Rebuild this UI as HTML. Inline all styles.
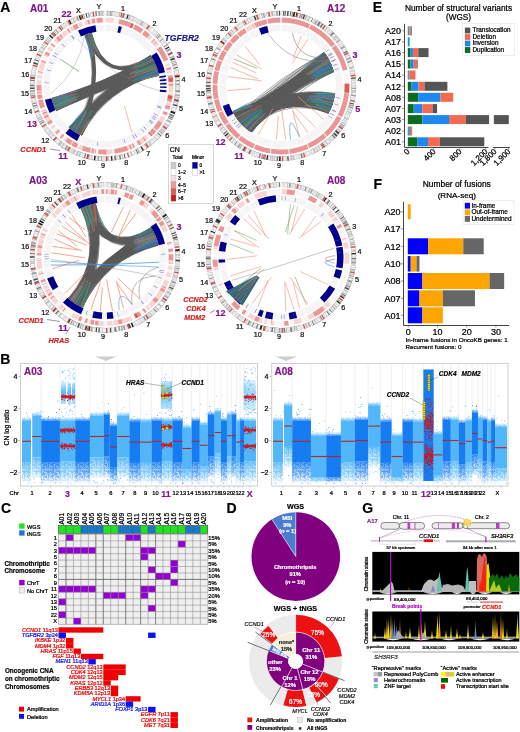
<!DOCTYPE html><html><head><meta charset="utf-8"><style>html,body{margin:0;padding:0;background:#fff;width:520px;height:732px;overflow:hidden}svg{display:block}</style></head><body><svg width="520" height="732" viewBox="0 0 520 732" font-family="'Liberation Sans', Arial, Helvetica, sans-serif"><text x="0.2" y="11.6" font-size="14" font-weight="bold" stroke="#000" stroke-width="0.18">A</text><circle cx="105" cy="86" r="72.8" fill="none" stroke="#9a9a9a" stroke-width="4.8" pathLength="360" stroke-dasharray="0 0.7 24.6 0.8 26.3 0.8 22.75 0.8 18.75 0.8 20.85 0.8 19.6 0.8 17.15 0.8 16.3 0.8 15.3 0.8 13.9 0.8 14.5 0.8 15 0.8 11.45 0.8 10.5 0.8 12.2 0.8 10.8 0.8 9 0.8 8.5 0.8 8.2 0.8 7.8 0.8 7.4 0.8 7.5 0.8 11.05 0.8 10.8 1.7" transform="rotate(-90 105 86)"/><circle cx="105" cy="86" r="72.8" fill="none" stroke="#f4f4f4" stroke-width="4.1" pathLength="360" stroke-dasharray="0 0.85 24.3 1.1 26 1.1 22.45 1.1 18.45 1.1 20.55 1.1 19.3 1.1 16.85 1.1 16 1.1 15 1.1 13.6 1.1 14.2 1.1 14.7 1.1 11.15 1.1 10.2 1.1 11.9 1.1 10.5 1.1 8.7 1.1 8.2 1.1 7.9 1.1 7.5 1.1 7.1 1.1 7.2 1.1 10.75 1.1 10.5 1.85" transform="rotate(-90 105 86)"/><circle cx="105" cy="86" r="72.8" fill="none" stroke="#dcdcdc" stroke-width="4.4" pathLength="360" stroke-dasharray="0 7.44 1.12 0.82 0.69 2.91 0.96 2.15 0.79 3.42 0.9 1.61 1.26 0.48 0.76 1.56 1.23 0.49 0.71 2.01 1.14 0 0.71 0.66 0.57 2.45 0.68 0 1.32 2.65 0.92 1.17 1.2 4.62 0.52 4.21 0.64 1.13 1.46 16.06 0.76 5.75 0.82 2.82 0.78 1.72 0.95 5.04 0.64 1.91 0.88 11.56 1.15 1.05 1.22 15.2 1.4 10 0.47 1.94 1.28 14.34 0.39 4.23 0.61 0.81 0.65 7.6 0.91 10.14 1.22 10.05 0.6 5.41 0.97 4.63 0.09 2.49 1.25 0 1.44 5.11 0.7 6.62 0.86 5.4 0.57 2.39 1.34 1.05 1.27 11.63 0.87 9.99 0.78 2.13 1.29 19.41 0.68 1.3 0.68 1.77 0.72 6.4 0.9 3.27 1.11 3.22 1.03 23.82 1.09 0.53 0.91 26.9 0.53 3.67 0.76 1.7" transform="rotate(-90 105 86)"/><circle cx="105" cy="86" r="72.8" fill="none" stroke="#c0c0c0" stroke-width="4.4" pathLength="360" stroke-dasharray="0 1.46 1.42 7.95 1.34 6.7 1.41 1.92 0.59 6.5 1.3 0 0.71 3.69 0.87 33.92 1.08 6.55 0.7 12.26 0.64 7.43 1.2 3.44 0.63 17.99 1.03 4.36 1.47 4.43 0.57 1.78 0.63 5.4 0.82 0.48 0.62 0.56 0.94 13.15 1.26 6.4 0.97 10.18 1.31 12.35 0.76 1.15 1.05 6.22 1.45 3.62 1.25 2.69 0.93 0 0.74 0 1.22 3.42 1.17 0.87 1.28 7.82 0.77 1.89 0.87 6.43 1.49 6.16 1.19 4.61 0.8 1.75 0.87 10.42 1.27 13.04 0.92 0 0.56 15.1 0.51 2.8 1.37 4.31 0.6 1.16 1.36 2.44 0.81 0.64 0.57 5.97 0.79 9.92 0.12 1.81 0.89 2.54 0.52 0.92 0.88 25.89" transform="rotate(-90 105 86)"/><circle cx="105" cy="86" r="72.8" fill="none" stroke="#a0a0a0" stroke-width="4.4" pathLength="360" stroke-dasharray="0 3.76 1.01 31.1 0.98 8.83 0.68 0.58 1.35 2.1 0.87 8.57 1.4 5.01 0.88 4.22 0.53 0.58 1 14.68 1.21 7.51 0.97 20.65 1.02 4.15 1.34 4.13 1 15.49 0.7 5.95 0.74 25.06 1.38 3.01 0.86 1.52 1.16 15.93 0.79 8.8 1.32 5.41 0.49 21.59 0.98 1.02 0.71 15 0.04 7.22 1.47 18.95 0.81 20.99 0.71 5.72 0.88 3.36 0.89 3.96 1.18 12.99 1.4 4.24 0.74 3.1 1.03 7.17 1.44 0.94 0.88 2.88" transform="rotate(-90 105 86)"/><circle cx="105" cy="86" r="72.8" fill="none" stroke="#7c7c7c" stroke-width="4.4" pathLength="360" stroke-dasharray="0 5.24 0.59 8.1 1.5 69.82 0.82 7.39 1.16 18.37 1.41 0.47 1.05 0.42 0.56 14.38 0.9 21.28 0.92 13.04 1.2 2.48 1.39 22.97 1.1 26.16 1.13 29.72 1.06 1.07 0.68 5.66 0.64 7.14 1.21 2.82 1.21 26.4 0.26 19.91 0.83 28.19 0.62 1.12 1.07 7.5" transform="rotate(-90 105 86)"/><circle cx="105" cy="86" r="72.8" fill="none" stroke="#484848" stroke-width="4.4" pathLength="360" stroke-dasharray="0 62.94 1.4 3.24 1.49 6.07 0.67 24.82 1.29 2.9 1.07 42.7 1.31 89.31 0.6 27.75 1.21 18.51 1.39 72.33" transform="rotate(-90 105 86)"/><circle cx="105" cy="86" r="72.8" fill="none" stroke="#1a1a1a" stroke-width="4.4" pathLength="360" stroke-dasharray="0 17.6 0.89 39.69 0.82 22.85 1.21 27.43 1.48 52.05 0.56 9.55 1 12.47 1.11 4.65 1.07 81.4 1.24 13.23 0.55 21.19 0.96 2.65 0.51 14.5 1.2 7.52 1.21 0.97 0.7 2.66 0.62 15.46" transform="rotate(-90 105 86)"/><circle cx="105" cy="86" r="72.8" fill="none" stroke="#e5453d" stroke-width="4.4" pathLength="360" stroke-dasharray="0 12.55 1 22.15 1 26.46 1 17.04 1 19.18 1 22.07 1 18.87 1 15.58 1 16.33 1 13.91 1 15.34 1 12.55 1 12.57 1 11.19 1 10.83 1 14.12 1 8.88 1 8.01 1 10.1 1 7.73 1 6.23 1 7.32 1 9.46 1 8.81 1 9.73" transform="rotate(-90 105 86)"/><circle cx="105" cy="86" r="66" fill="none" stroke="#fbf6f6" stroke-width="4.8" pathLength="360" stroke-dasharray="0 0.7 24.6 0.8 26.3 0.8 22.75 0.8 18.75 0.8 20.85 0.8 19.6 0.8 17.15 0.8 16.3 0.8 15.3 0.8 13.9 0.8 14.5 0.8 15 0.8 11.45 0.8 10.5 0.8 12.2 0.8 10.8 0.8 9 0.8 8.5 0.8 8.2 0.8 7.8 0.8 7.4 0.8 7.5 0.8 11.05 0.8 10.8 1.7" transform="rotate(-90 105 86)"/><circle cx="105" cy="86" r="66" fill="none" stroke="#f7d5d5" stroke-width="4.8" pathLength="360" stroke-dasharray="0 0.7 2.25 0 2.11 0 2.25 33.76 2.78 3.28 2.06 0.75 2.13 0 0.34 18.37 1.31 4.67 1.75 7.79 1.97 1.46 3.2 0 2.58 0.8 1.97 6.24 2.7 10.74 1.25 0 2.66 0 1.12 7.37 1.26 8.87 2.34 1.33 0.85 0 2.79 10.22 2.05 11.38 1.16 0.8 2.86 0 2.36 13.14 1.12 6.93 2.9 0 0.69 0.8 0.72 4.63 1.1 4.85 1.66 9.75 0.71 3.18 1.74 5.58 1.27 0 2.2 1.94 1.66 17.12 1.22 1.13 1.08 6.12 3.1 1.71 2.6 1.4 1.13 1.66 2.67 0 1.65 0 3.32 5.39 1.53 4.54 1.74 0 0.72 6.54 2.65 2.7 1.03 1.41 0.01 0.8 3.11 0 1.45 3.64 3.43 4.87 3.12 2.43 1.84 0 0.77 1.55 1.33 13.3" transform="rotate(-90 105 86)"/><circle cx="105" cy="86" r="66" fill="none" stroke="#eb9696" stroke-width="4.8" pathLength="360" stroke-dasharray="0 12.31 3.38 0 1.96 0 2.41 0 2.8 2.01 0.43 0.8 1.79 0 2.24 0 2.13 0 1.85 1.53 2.7 0 2.72 5.1 0.96 2.06 0.75 4.55 3.24 0 2.53 0 1.82 0 1.24 0 2.24 0 0.89 0 0.96 6.21 2.33 4.85 0.69 0 1.49 5.28 1.46 11.7 1.19 0 1.16 3.45 3.21 2.67 2.62 7.27 2.53 0 1.68 0 3.16 1.26 3.29 0 1.4 0.86 0.38 5.28 1.33 3.64 1.41 0 1.14 3.46 1.69 0.8 1.72 2.05 2.21 0 1.64 0 2.87 0 2.07 0 2.58 7.18 1.88 0 2.88 0 1.28 0 1.24 2.05 0.74 0.8 2.26 1.12 0.65 0 1.86 0 1.36 0 0.81 0 2.25 5.11 2.4 0 1.37 0 0.86 1.1 1.06 0 3.01 0 0.78 4 2.02 3.46 1.92 8.4 2.81 3.47 1.94 1.66 1.58 0.8 0.72 2.48 1.6 0 3.11 0 2.6 0.8 1.74 0 1.71 1.22 1.13 1.08 1.22 0 1.49 0 2.61 10.74 0.86 8.44 1.36 5.56 0.84 0 1.54 6.94 1.51 5.36 2.7 1.03 1.41 6.59 0.67 0 0.94 4.23 2.54 0 1.23 0 0.3 8.97 1.55 2.13 1.77 0 1.08 1.3 1.59 0 1.04 0 2.63 3.09" transform="rotate(-90 105 86)"/><circle cx="105" cy="86" r="66" fill="none" stroke="#dc5a5a" stroke-width="4.8" pathLength="360" stroke-dasharray="0 22.87 2.01 58.11 3.31 11.98 3.15 34.89 0.86 97.19 0.13 126.5" transform="rotate(-90 105 86)"/><circle cx="105" cy="86" r="58.3" fill="none" stroke="#f5f5f5" stroke-width="6.6" pathLength="360" stroke-dasharray="0 0.7 24.6 0.8 26.3 0.8 22.75 0.8 18.75 0.8 20.85 0.8 19.6 0.8 17.15 0.8 16.3 0.8 15.3 0.8 13.9 0.8 14.5 0.8 15 0.8 11.45 0.8 10.5 0.8 12.2 0.8 10.8 0.8 9 0.8 8.5 0.8 8.2 0.8 7.8 0.8 7.4 0.8 7.5 0.8 11.05 0.8 10.8 1.7" transform="rotate(-90 105 86)"/><circle cx="105" cy="86" r="58.3" fill="none" stroke="#00008b" stroke-width="6.6" pathLength="360" stroke-dasharray="0 13 3 41 20 3 1.5 2 1.5 2 1.5 2 1.5 2 2 111 13 24 13 77 17 10" transform="rotate(-90 105 86)"/><circle cx="105" cy="86" r="58.3" fill="none" stroke="#4a4ac0" stroke-width="4.2" pathLength="360" stroke-dasharray="0 82.82 0.5 3.23 0.5 0.5 0.5 22.35 0.5 0.52 0.5 7.14 0.5 2.09 0.5 1.56 0.5 2.75 0.5 1.06 0.5 7.25 0.5 2.69 0.5 7.92 0.5 1.92 0.5 9.36 0.5 26.34 0.5 85.51 0.5 11.86 0.5 6.96 0.5 6.98 0.5 2.24 0.5 10.44 0.5 11.46 0.5 0.36 0.5 33.67" transform="rotate(-90 105 86)" stroke-opacity="0.8"/><path d="M154 62.1A54.5 54.5 0 0 1 158.5 75.6Q105 86 82 135.4A54.5 54.5 0 0 1 69.2 127.1Q105 86 154 62.1Z" fill="#5a5a5a" fill-opacity="0.8"/><path d="M157.2 70.4Q102.4 87.7 73.8 130.7M155.6 65.7Q107.1 84 71.2 128.8M158.2 74.3Q107.3 88.7 81.4 135.1M155.8 66.1Q106.7 85.8 77.1 132.8M155.1 64.6Q104.1 84 78.9 133.8M154 62.1Q103.3 87.4 74.8 131.3M156.7 68.6Q101 84.7 73.4 130.4M157 69.5Q107.7 85.5 71.2 128.8M155.9 66.6Q103.2 90.4 70.6 128.2M157.5 71.4Q110.5 84.7 73 130.1M154.9 64.2Q101.1 86.2 73.8 130.7M156.1 67Q105 82.3 78.1 133.4M155.4 65.2Q104.1 87.7 78.6 133.7M156.7 68.9Q106 86.4 80.2 134.6M154.6 63.4Q107.5 88.1 72.8 129.9M157.8 72.4Q108.1 91.1 75.6 131.9M158.1 73.8Q104.9 89.6 81.2 135M157.9 72.8Q104.5 83.8 76.7 132.6M157.6 71.7Q102.5 90.4 77.6 133.1M158 73.4Q102.1 84.7 71.3 128.8M157.5 71.5Q107.6 81.3 73.8 130.7M154.7 63.7Q103.9 84.1 76.9 132.7M155.1 64.5Q98.9 82.3 81.8 135.3M158.4 75.2Q103.8 83.1 80.1 134.5M157.2 70.5Q113.2 82.3 76.6 132.5M154.3 62.7Q105.6 86.6 72.6 129.9M155.6 65.8Q106.5 85.9 72.4 129.7M155.9 66.4Q101.7 85.1 81.6 135.2M156.1 67Q106.8 80.6 77.8 133.2M155.6 65.8Q101.2 82.6 76.7 132.6M158.4 75.3Q103.7 82.5 76.7 132.6M157.9 72.8Q105.6 87.3 80 134.4M158.3 74.7Q103.5 86.1 78.6 133.7M155.8 66.3Q103.5 85.3 81.7 135.3M157.2 70.4Q105.5 89.4 78.3 133.5M156 66.9Q106 86.3 78.5 133.6M158.2 74.1Q106.7 86.9 77.8 133.2M156.6 68.5Q106.8 91.8 69.3 127.2M156.6 68.5Q106.1 83.2 76.4 132.4M154.3 62.9Q102.7 82.5 74.7 131.3M155.6 65.7Q111.4 78.8 70 127.7M156.4 67.9Q104.7 84.2 71.2 128.7M154.2 62.5Q105.9 86.8 79.7 134.3M156 66.8Q103.7 89.4 72.2 129.5M154 62.2Q105.4 85.9 79.1 134M156.8 69.1Q106.3 81.3 71.5 129M156.2 67.4Q107.4 81.5 71.6 129M158.5 75.4Q107.9 85.1 80.6 134.7M157.5 71.5Q105.6 85.6 78.6 133.7M157 69.7Q102.8 87.9 78.9 133.8M157.4 70.8Q102.2 89.2 71.5 129M156 66.7Q107.2 84.5 78.2 133.4M154.6 63.3Q104.9 83.9 77.5 133M157.7 72Q104.2 84.3 74.7 131.3M154.6 63.5Q103.1 88.6 80 134.4M154 62.2Q102.8 87.5 75.3 131.7M156.8 69.2Q106.7 91.9 69.8 127.6M155.8 66.3Q111.9 91.6 72.2 129.5M156.4 67.8Q105.6 89 69.7 127.5M157.5 71.5Q104.3 90.5 79.5 134.2M158.4 74.9Q106.1 88.6 77.6 133.1M158.5 75.5Q103.1 83.8 79.9 134.4M157.3 70.7Q100.3 81.8 79.1 133.9M158.1 73.6Q101.1 85.9 73.7 130.6M154.7 63.6Q103.8 82.9 71.1 128.7M157.4 71Q103.4 87.4 76.4 132.4M157.1 70.1Q104.2 85.9 74.4 131.1M157.2 70.4Q101.6 83.8 76 132.1M158.3 74.6Q95.7 87.8 79.9 134.4M157.7 72Q104.2 77 77.7 133.2M156.2 67.4Q111.4 92.5 70.8 128.4M156.6 68.6Q107.3 82.3 78.8 133.8M158.3 74.7Q106.1 82.6 71.2 128.8M158.5 75.5Q108.2 82.6 81.1 135M155.4 65.4Q101.4 87.1 71.5 129M158.1 73.7Q104.2 90.2 79.3 134.1M154.4 63.1Q105.8 82.6 74.6 131.2M155.4 65.3Q108.2 81.9 71.6 129.1M156.9 69.4Q105.5 84.4 70.3 128.1M156 66.9Q107.7 86.6 80.6 134.7M158.1 73.7Q106.4 87.3 71.2 128.7M156.2 67.2Q100.2 81.7 71 128.6M154.4 63Q106.1 90.1 69.4 127.3M158.1 73.9Q106.5 90.2 72.5 129.7M156.4 67.8Q103.6 88.2 81.8 135.3M157.2 70.5Q101.3 83.2 78.2 133.5M155.1 64.5Q103.8 82.8 80.2 134.5M154.8 63.8Q108.8 84.5 80.4 134.6M156 66.8Q109.6 85.9 79.3 134.1M157.7 71.9Q103.9 88.9 77.1 132.8M154.9 64Q100.1 88.5 73.7 130.6M156.3 67.5Q97.9 85.7 75.9 132.1M155.9 66.6Q105.4 89.9 72.8 129.9M155.6 65.8Q103.7 91.7 70.7 128.4M157.4 71.1Q107.7 84.8 75.9 132.1M157.7 72Q104 86.3 74 130.9M156.3 67.6Q98.1 88.7 78.2 133.4M155.7 65.9Q103.9 84 72.9 130M156.3 67.5Q106.8 84.6 80.2 134.5M156.3 67.6Q107.5 80.7 77.4 133M157.1 69.9Q110.2 89.7 74.7 131.3M154.5 63.2Q101.6 89.4 77.1 132.8M157.4 71Q110.9 81.6 77.3 133M154.1 62.4Q102.2 86.5 73.6 130.6M156.5 68.2Q103 82.4 77.7 133.2M158.4 75.2Q108 85.9 69.5 127.4M158 73.2Q101.8 76.1 73.4 130.4M154.4 63Q101.4 88.5 75.8 132M155.3 64.9Q105.7 88.8 69.4 127.2M154.8 64Q104.9 84.7 76.7 132.6M155 64.3Q101.5 82.6 73.4 130.4M155.5 65.4Q104.4 80.8 71.5 129M154.7 63.7Q110.9 86.6 75.7 132M158.3 74.8Q107.8 86.4 70.5 128.2M156.8 69.2Q109.1 89.4 74.9 131.4M155.7 66Q107.8 88.7 75.2 131.6M154.8 63.8Q102.5 85.8 80.8 134.8M157.8 72.5Q104.1 86.5 78.6 133.7M155.3 64.9Q101.9 84.8 75.9 132.1M158.1 73.5Q106 84.6 80.5 134.7M158.4 75.2Q101.6 88.3 75 131.5M158.1 73.7Q104.6 86.2 69.7 127.5M154.9 64.1Q104.5 81.3 71.4 128.9M154.9 64.1Q106.4 86.3 74.9 131.4M155.7 66Q101.4 81.4 69.6 127.5M154.3 62.7Q107.1 87.1 76.4 132.4M154.7 63.6Q103.3 89.1 70.2 127.9M157.3 70.8Q108.7 84.7 70.6 128.2M156.7 68.7Q103 87.6 70.4 128.1M157.7 72Q102.9 88.3 78.5 133.6M156.6 68.4Q102 87.4 77.1 132.8M154.3 62.7Q108.4 87.4 71.2 128.7M156.9 69.4Q105.2 87.4 76.6 132.5M156.1 67Q102.8 86.2 77.7 133.2M157.7 72.1Q108.1 86.2 75.5 131.8M158.4 75.1Q98.6 81.8 81.9 135.3M156 66.9Q103.3 87.9 74.1 130.9M157.2 70.2Q103.6 89.2 74.2 131M156.8 68.9Q106.3 86.4 72.2 129.5M155.5 65.4Q105.9 83 78.3 133.5M158.1 73.6Q104 90.4 76.6 132.5M154.5 63.2Q106.3 83.7 69.4 127.3M155.8 66.3Q106 81.8 71.4 128.9M154.3 62.8Q109 87.2 72 129.4M156.9 69.4Q104.6 85.5 70.1 127.8M158.3 74.7Q104.7 85.8 72.2 129.5M157.7 71.9Q101.3 78.2 76.4 132.4M158.3 74.4Q105.6 82.8 80.9 134.9M157.7 72.1Q102 87 76.9 132.7M154.7 63.6Q104.9 84.9 77.7 133.1M154.7 63.6Q103.1 82.7 71.2 128.7M154.7 63.6Q102.3 92.9 80.3 134.6M156.9 69.5Q105.8 89 70.1 127.9M156.8 69.2Q109.4 90.3 71.1 128.7M156.6 68.3Q102.3 87.2 81.5 135.2M157.4 71.1Q100.4 86.2 70.1 127.8M156.2 67.2Q108.9 89 71.9 129.3M155 64.3Q105.8 88.6 74.2 131M155 64.2Q101.9 84 77.3 132.9M156.2 67.2Q106.5 83.6 74.4 131.1M157.1 69.8Q107.7 85.7 75.6 131.9M157.5 71.4Q104.7 90.8 78.8 133.8M157 69.7Q110.2 88.2 78.5 133.6M156.1 67.1Q101.2 87.7 72.6 129.8M156.9 69.5Q107.8 84.2 69.5 127.4M156.6 68.5Q105 84.6 78.8 133.8M155.7 66.1Q109.5 87 71 128.6M157 69.6Q104.1 87.5 74.7 131.3M158.4 74.9Q105.5 84.7 72 129.4M157.8 72.6Q106.2 89.5 79 133.9" fill="none" stroke="#5a5a5a" stroke-width="1.0" stroke-opacity="0.5"/><path d="M157.2 70.2Q142.7 73.4 130.6 79M92.3 111.1Q85.1 121.6 80.3 134.6M155.7 65.9Q148.4 69 141.6 72.6M86.6 120.8Q82.3 127 78.5 133.6M157.9 72.7Q145.3 75.6 133.7 80.4M88.5 108.6Q78.7 117.2 69.9 127.7M156 66.9Q145.9 70.4 136.7 74.8M83.1 114.5Q77 121.4 71.7 129.2M158.3 74.7Q145.9 77.4 134.3 82M89 108.9Q79 117.3 69.7 127.5M154.9 64.1Q148.4 66.4 142.2 69.5M84.9 117.6Q79.7 124.1 74.8 131.4M155 64.3Q147.4 67.6 140.2 71.4M82.7 116.5Q77.1 122.7 72 129.3M157.9 72.7Q147.8 75.4 138.6 78.9M82.3 113.7Q75.6 120.1 69.5 127.4M155.3 64.9Q142.3 70.7 130.8 77.8M91.3 111.6Q83.1 121.3 76.4 132.4M158.5 75.5Q148.8 77.6 140.1 80.6M85.9 118.6Q80.9 125.2 76.8 132.6" fill="none" stroke="#2e8b57" stroke-width="0.6" stroke-opacity="0.85"/><path d="M157.5 71.3Q145.2 73.9 134.3 78.8M92.4 110.8Q84.1 120.7 77.1 132.8M157.5 71.5Q144.3 75.4 132.4 81.1M91.1 110.6Q81.9 119.9 74.2 131M158.4 74.9Q150.9 76.1 143.9 78.1M87.9 121.1Q83.9 127.5 80.5 134.7M156.6 68.6Q146.4 71.2 137.2 74.8M84.1 115Q78.6 122.4 74.2 130.9M157.1 70.1Q149.4 72.5 142.1 75.4M81.5 116.6Q76.1 122.3 71 128.6M156.8 69Q148.5 72.7 140.9 76.9M87 120.2Q81.8 126.3 77.2 132.9" fill="none" stroke="#3aa0a0" stroke-width="0.6" stroke-opacity="0.85"/><path d="M158.4 75.3Q150 77.2 142.1 80.2M90.7 119.3Q85.3 126.4 80.5 134.7M155.3 64.9Q146.4 68.3 138.2 72.3M83.9 115.9Q78.4 122.9 73.6 130.5M158.2 74.2Q149 76.6 140.7 80M90 119.7Q84.9 126.7 80.7 134.8M154.1 62.3Q143.6 67.9 133.6 74.4M88.7 111Q80.1 119.7 72 129.3M155.1 64.5Q146 68 137.9 72.2M86.7 118.7Q82.3 125.9 78.8 133.8" fill="none" stroke="#e07050" stroke-width="0.6" stroke-opacity="0.85"/><path d="M158.1 73.6Q146 76 135 80.4M89.6 111.3Q81.2 120.1 73.9 130.8M154.4 62.9Q146.9 66.9 139.8 71.3M84.2 117.5Q78.5 123.7 73.2 130.3M158.2 74.2Q145.7 76.7 134.4 80.6M85.1 110.2Q76.7 118 69.5 127.4M154.5 63.2Q142.9 68.3 132.5 74.5M87.5 111.3Q79.6 120.1 72.9 130M156.3 67.6Q143.3 72.1 131.7 78.4M91.7 110.1Q82.9 120.1 75.5 131.8M158.1 73.8Q149.2 75.9 140.9 78.8M81.3 115.1Q75.2 121 69.7 127.6M157.4 71.1Q144 74.7 132.2 80.1M89.6 110.5Q81 119.7 73.9 130.8M154.2 62.6Q146.6 66.9 139.5 71.9M89.5 118.9Q83.8 126 78.6 133.7" fill="none" stroke="#2f7fd0" stroke-width="0.6" stroke-opacity="0.85"/><path d="M154.9 64Q147 68.7 139.7 73.6M88.1 120.7Q83 127 78.5 133.6" fill="none" stroke="#8a6a3a" stroke-width="0.6" stroke-opacity="0.85"/><path d="M150.2 55.5A54.5 54.5 0 0 1 156.8 69.2Q105 86 56.4 110.7A54.5 54.5 0 0 1 51.9 98.3Q105 86 150.2 55.5Z" fill="#5a5a5a" fill-opacity="0.8"/><path d="M156.8 69.1Q108.2 83.9 55.3 108.3M156.6 68.3Q111.5 84.9 56 109.9M150.6 56.2Q108 85.1 56.2 110.4M151.5 57.6Q106.9 88.9 56 109.9M152 58.4Q106 87.2 54.7 106.9M155.8 66.3Q107.1 86.6 54.7 106.9M155.3 64.9Q108.6 80.9 55.1 107.9M155.1 64.4Q104 79.3 54.4 106.3M151.4 57.4Q109.8 85.5 52.3 99.9M155.1 64.5Q103.3 89.6 55.7 109.3M152.4 59.1Q106.3 83 53.7 104.4M155.8 66.3Q108.7 88.4 55 107.6M150.3 55.7Q111.9 84.9 52.1 99.3M155.1 64.6Q109.2 85.1 55.4 108.5M151.1 56.9Q108.2 83.5 53.9 104.8M152.9 60.1Q104.2 86.1 51.9 98.3M151.4 57.4Q103.6 83.1 53.9 105M154.5 63.3Q104.8 86.9 53.6 104.1M153.3 60.8Q105.6 85.8 52.5 100.5M153.5 61.1Q104.2 85.3 52 98.8M150.4 55.8Q109 92.9 54.5 106.6M152.8 59.9Q100.8 84.3 52.4 100.2M152.2 58.8Q105.8 87.4 52.8 101.6M154.5 63.2Q101.4 87.7 53.3 103.2M152.2 58.8Q100.5 86.2 52.1 98.9M154.8 63.8Q103.2 83.2 52.2 99.7M154.4 63Q105.7 79 52.1 99.3M152.7 59.6Q101.2 88.7 53.5 104M152.9 59.9Q104.8 85.8 53.2 102.9M153.8 61.8Q104.8 80.6 55.8 109.4M154.9 64.2Q103.4 83.4 53 102.3M154 62.1Q104.1 85.6 52.4 100.2M152.7 59.7Q106.5 86.6 53.2 102.9M150.4 55.9Q107.3 86.8 53.6 104.2M150.6 56.2Q104.3 86.5 53.4 103.6M151.8 58Q107.2 87.7 53.2 103M150.7 56.3Q106.1 84.7 56 109.9M152.7 59.6Q98.1 85.9 53.1 102.6M154.9 64.1Q102.6 86.8 53 102.2M155.1 64.4Q105.1 90.8 55.7 109.2M152.4 59.1Q106.1 85 54.8 107.1M153.8 61.8Q110.2 87.5 52.9 101.9M156.6 68.5Q100.8 86.8 53.1 102.7M155.1 64.5Q110.6 83.8 54.3 105.9M156.7 68.8Q104.8 88.5 55.5 108.8M153.2 60.6Q101 82.7 55 107.7M152.3 58.9Q102 82 52.9 102M155.1 64.4Q102.5 87.6 54.1 105.4M155.5 65.6Q104.7 89.5 56.4 110.7M156.5 68.1Q104.8 85.2 55.2 108M156.3 67.5Q107.2 85.7 53.8 104.6M154.7 63.7Q106.8 88.6 55.7 109.3M153.8 61.7Q107.3 86.4 53 102.2M155.7 65.9Q104.5 86.9 55.8 109.5M150.4 55.9Q102.8 84.8 53.6 104.2M153.7 61.6Q106.6 87.3 56.1 110.1M156.8 69Q108.8 88.7 56 110M150.6 56.2Q102.6 85.6 52.7 101.4M156.5 68.2Q102.2 87.2 54.4 106.3M152.9 59.9Q103.3 91.7 52 98.8M156.1 67.1Q106.5 92.6 53.6 104.2M155.8 66.1Q107.8 87.5 52.2 99.3M153.8 61.8Q101.2 82 54.2 105.7M156.5 68.1Q108.8 84.7 53.8 104.6M153.4 61Q106.6 87 56.4 110.6M156.8 69Q108.2 93.2 53.3 103.2M155.7 66.1Q107.2 85.1 53.4 103.6M155.8 66.3Q106 86.4 56.2 110.2M156.7 68.8Q105.8 88.1 52 98.9M156.4 67.8Q108.4 86 53.6 104M154.7 63.7Q108.5 85.9 52.3 100M155.7 66.1Q105.9 84 55 107.8M156.2 67.2Q108.3 88 54.2 105.8M152.2 58.7Q102.6 87.7 53.5 103.8M155.5 65.5Q103.5 84.6 52.8 101.7M152.2 58.7Q111.1 85.5 52.8 101.6M156.5 68.1Q104.7 86.5 53.2 102.9M156 66.8Q100.6 83.7 52.9 101.8M156.2 67.3Q106.3 86.3 55.3 108.4M152.3 59Q103.9 84.3 55.3 108.3M153.5 61.2Q111 86.9 55.2 108.2M154.8 63.8Q104.6 81.8 55.9 109.7M154.3 62.8Q103.4 82.8 53.1 102.6M155.8 66.3Q105.9 85.2 52.1 99.2M152 58.4Q101.8 83.5 55.1 108M156.8 69.1Q105.6 88.5 54 105.2M154.6 63.5Q100.9 83.5 55.9 109.7M154.4 63Q106.5 83.7 54.3 106M153.5 61.1Q100.6 90.1 55.9 109.7M152.6 59.4Q104.9 82.8 52 98.8M154 62.1Q105.9 90.3 56.1 110.1M150.7 56.4Q104.4 83.3 52 98.5M153 60.3Q104.8 90.5 53.9 104.9M153.4 60.9Q110 86.8 55.5 108.9M154.5 63.3Q104.4 86 52.5 100.7M155.6 65.7Q107.6 85.2 54.5 106.6M156.5 68Q101.5 86.1 52.6 100.9M156.4 67.8Q104.4 84.8 52 98.7M150.6 56.1Q102 84.9 54 105.1M150.4 55.8Q104.1 86.4 54.8 107.2M150.3 55.6Q106.4 88.5 53.6 104.1M151.9 58.3Q107.4 89.1 52.9 102M154.1 62.3Q102.6 87.8 53.6 104.1M155.7 66.1Q107.1 82.4 53.2 103M151.9 58.2Q108.6 83.7 56.3 110.4M150.4 55.9Q106 86.1 55.3 108.4M154.5 63.2Q104.3 88.6 53.1 102.6M154.8 63.8Q102.6 90.9 54.4 106.4M156.4 67.8Q104.8 85.3 52.4 100.3M156.4 68Q104.3 89.5 52.6 101M153 60.2Q102.9 84.4 53.6 104M154.9 64.1Q106.5 79.9 52.1 99.3M151.6 57.8Q100.7 83.2 55.4 108.6M153.8 61.7Q102 90.2 53.3 103.3M152.7 59.7Q104 86.1 52.4 100.1M153.9 62Q107.9 82 53.1 102.5M155.6 65.8Q105.6 85.8 53 102.4M152.8 59.7Q105.3 82.5 53.4 103.5M154.2 62.6Q105.8 83 54.3 106.1M156.4 67.8Q104.2 85.7 53.3 103.2M151.4 57.5Q109.9 87.7 53 102.4M152 58.4Q105 86.3 56.3 110.5M156.5 68.1Q107.8 86.3 54.8 107.1M153.4 61Q105.8 87.6 55.4 108.7M151 56.7Q106.4 89.5 53 102.4M156.2 67.4Q106 82.9 52.3 99.9M155.3 65.1Q106.2 83.4 55.1 107.8M152.3 59Q95.7 81.3 54 105.3M155.8 66.3Q104.5 88.5 52.4 100.3M153.2 60.6Q108.2 86.8 53.1 102.8M154.1 62.4Q108.4 84.2 54.4 106.3M153.7 61.6Q106.2 85.6 54.4 106.2M154 62.1Q101.2 83.9 55.1 108M156.2 67.3Q107.9 88.4 55.3 108.4M152.8 59.9Q104.2 85.7 54.1 105.6M152.5 59.3Q108.6 85 54.5 106.4M151.1 57Q106.4 81.5 52.3 100M155.5 65.6Q111.4 85.6 54 105.3M154.6 63.4Q109.4 87.6 53.6 104.1M150.8 56.4Q105.2 89.5 52.8 101.5M156.5 68.2Q108.5 77.6 53.1 102.7M156.5 68Q109.8 86.4 53.3 103.2M156.5 68.1Q105.1 88.6 53.3 103.3M151.6 57.8Q96.9 84.8 52.2 99.7M151.7 57.9Q105.6 84 55.4 108.5M151.5 57.6Q104.3 81.3 54.5 106.6M155.8 66.2Q104.6 79.8 53.2 102.9M154.9 64.1Q107.2 79.9 51.9 98.5M155.5 65.5Q105.3 86.2 54.7 106.9M155.1 64.7Q102.9 91.8 52.3 100M155 64.3Q103.1 83.5 54.3 106M155 64.2Q103 84.7 56.2 110.3M151.8 58.1Q104.9 90.6 55.9 109.8M153.2 60.5Q104.2 84.7 52.1 99.1M154.8 64Q102.5 79.5 53.1 102.7M152.7 59.7Q101.6 88.1 56.4 110.7M151.2 57.1Q107.1 87.9 55 107.7M154.7 63.6Q99.5 90.6 53.5 103.9M154.9 64.1Q105.1 86.4 53.3 103.3M155 64.3Q102.7 83.7 53.2 102.8M153.9 61.9Q97.6 84 56.2 110.2M151.3 57.2Q105.5 89.2 54.3 106.1M153.1 60.4Q101 90.6 55.5 108.8M152.9 60.1Q104.3 90.1 56 109.9M156.3 67.7Q104 84.7 55.1 107.8M155.3 65.1Q100.1 93.5 55.6 109.1M155.8 66.3Q105.2 87.9 53.4 103.5M153.6 61.4Q108.3 87.6 54.1 105.4M150.8 56.4Q105.8 83 52.5 100.5M153.1 60.5Q105.3 86.2 52.8 101.5" fill="none" stroke="#5a5a5a" stroke-width="1.0" stroke-opacity="0.5"/><path d="M152.6 59.5Q146 63.6 139.3 67.3M67 95.3Q59.6 97 51.9 98.4M156.6 68.6Q148.3 71.2 139.8 73.9M70.5 94.5Q61.4 97 52.2 99.6M153.9 61.9Q144.1 67.4 134.1 72.6M76.3 99.2Q65.7 103.5 54.9 107.5M151.3 57.2Q143 62.2 134.8 66.8M68.8 96.2Q60.7 98.9 52.6 101.1M152.8 59.8Q141.8 65.5 130.8 71.1M77.2 97.2Q66 102.4 54.9 107.4M151.5 57.6Q140.9 64.2 130.3 70.5M77.6 99.4Q66.9 104.9 56.1 110M154.3 62.9Q145.1 65.6 136 68.7M70.3 95.2Q61.8 99.3 53.4 103.6M153 60.2Q140.4 65.9 127.7 71.1M78.3 89.8Q65.2 94.2 51.9 98.3M156.6 68.5Q143.8 73 131.4 77.4M76.4 97.1Q65 101.3 54 105.3" fill="none" stroke="#2f7fd0" stroke-width="0.6" stroke-opacity="0.85"/><path d="M156.3 67.5Q144.9 72.1 133.5 76.4M75.9 96.6Q64.6 100.2 53.4 103.5M156.5 68.1Q148 70.8 139.5 73.7M72.8 100.4Q64.1 104.3 55.4 108.5M154.4 62.9Q144.3 67.4 134 72M77.3 98.7Q66.6 103.9 55.7 109.3M151.5 57.6Q144.3 61.7 136.8 65.9M72.7 101.4Q64.5 105.8 56.2 110.3M155.7 65.9Q143.6 71.6 131.3 76.6M78.5 95.7Q65.9 99.6 53.2 103" fill="none" stroke="#8a6a3a" stroke-width="0.6" stroke-opacity="0.85"/><path d="M151.5 57.6Q141.6 63.6 131.3 69.1M75.6 93.5Q64.3 97.5 52.6 100.8M156.6 68.5Q141.8 73.5 127.9 78.5M78.4 96.6Q66 101.3 54.3 106M156.1 67.1Q143 70.7 130 74.5M77.2 90.8Q64.6 95 52.2 99.3M153.6 61.4Q141.4 68 129.7 73.9M75.8 98.9Q65.1 103.4 54.8 107.2" fill="none" stroke="#e07050" stroke-width="0.6" stroke-opacity="0.85"/><path d="M152.3 58.9Q141.7 63.8 131 68.9M77.1 95.6Q66 101.2 54.8 107.2M152.3 59Q142.7 65.2 133.1 70.6M72.9 98Q63.2 101.3 53.5 103.9M153.9 61.9Q146.1 65.6 138.3 69.1M68.3 95Q60.2 97.3 52.2 99.4" fill="none" stroke="#2e8b57" stroke-width="0.6" stroke-opacity="0.85"/><path d="M152.3 58.9Q143.7 63.2 135.1 67.4M70.8 98.5Q62.6 102.4 54.4 106.3M153.2 60.5Q146.4 64.1 139.6 67.5M67.8 98.3Q60.6 100.9 53.3 103.3M152.1 58.5Q140.9 64.8 130 70.5M75.1 96.4Q64.4 100.9 53.9 104.9M155.2 64.7Q144.8 69.2 134.4 73.7M77.4 99Q66.6 103.9 55.6 108.9M155.1 64.5Q148 67.7 140.9 70.8M69.4 100.6Q61.9 103.5 54.5 106.4M153.7 61.6Q142 68.2 130 73.9M77.5 94.2Q65.1 97.8 52.5 100.5M156.5 68.3Q149.5 70.9 142.3 73.6M70.7 103.4Q63.4 106.7 56.1 110.1M154.7 63.6Q144.5 68.7 134.4 73.4M73.5 96.6Q63.3 99.7 53 102.3M155.8 66.3Q145.2 70.3 134.8 74.2M73.4 98.2Q63.7 102.1 54.3 106" fill="none" stroke="#3aa0a0" stroke-width="0.6" stroke-opacity="0.85"/><path d="M85.5 35.1A54.5 54.5 0 0 1 91.8 33.1Q105 86 150.2 55.5A54.5 54.5 0 0 1 154.8 63.8Q105 86 85.5 35.1Z" fill="#5a5a5a" fill-opacity="0.7"/><path d="M85.5 35.1Q105.6 86.7 151.1 56.9M86.2 34.9Q104.8 84.1 154.3 62.8M86.4 34.8Q106.7 89.9 151.9 58.2M87.2 34.5Q104.6 84.5 150.4 55.9M85.9 34.9Q106.3 85.8 152.9 60M88 34.2Q105.2 83.2 154.5 63.1M91.2 33.3Q103.7 86 151.1 56.9M88.1 34.2Q106.5 85.6 153.9 61.9M86.5 34.8Q105.2 86.5 152.5 59.2M88.1 34.2Q107.7 85.6 154.5 63.2M87 34.6Q103.1 85.8 154.2 62.5M87.2 34.5Q102 85.7 151.1 56.9M89.2 33.8Q105.1 88.2 151.5 57.6M91 33.3Q105.1 86.5 154.5 63.3M88.7 34Q105.1 87.6 151.4 57.4M90.8 33.4Q105.2 86.6 152.6 59.5M86.9 34.6Q105 86.7 153.1 60.5M88.6 34Q107.8 85.6 152.8 59.7M90.5 33.5Q104 86.5 153.9 62M91.7 33.2Q105.2 85.2 154.4 63.1M87 34.5Q103.9 85.6 152.5 59.3M89.8 33.7Q104.5 88.2 151 56.7M85.7 35Q101.4 84.3 152.1 58.6M86.6 34.7Q103.2 84.8 154.4 63.1M89.9 33.6Q102.9 85.6 154.7 63.7M88.8 34Q104.3 86 153.9 61.9M85.9 35Q107.5 85 153.6 61.3M91.4 33.2Q104.4 87.6 154 62.2M86.8 34.6Q105.3 84.3 153 60.2M85.5 35.1Q107.2 87.2 152.3 58.9M89 33.9Q103.3 86.4 151.4 57.5M87.5 34.4Q103.9 86.4 152.7 59.7M86.3 34.8Q105.1 83.7 153.2 60.6M86.2 34.8Q104.4 85.3 151.9 58.3M89.6 33.7Q105.9 87.9 152.7 59.6M87.3 34.4Q104.6 87.2 151.8 58.1M86 34.9Q105.8 86.2 152.5 59.2M87.4 34.4Q102 85.6 150.8 56.5M90.6 33.4Q106.6 84.7 153.8 61.6M90.7 33.4Q102.4 86.9 153.8 61.8M90.2 33.6Q107.5 85.4 154.2 62.6M86.2 34.9Q106 87.7 150.9 56.6M89.4 33.8Q106.1 86.8 153.2 60.5M88.1 34.2Q102.7 88.3 152.6 59.5M86.8 34.6Q103.7 84.2 151.9 58.3" fill="none" stroke="#5a5a5a" stroke-width="0.9" stroke-opacity="0.5"/><path d="M90.3 33.5Q92.9 43.8 96.9 50.9M134 65.2Q141.9 62.6 151.1 57M89.2 33.9Q93.2 47 99.2 55.3M131.6 68.9Q141.5 67.3 153.3 60.8M90.8 33.4Q93.3 43.8 97.2 51.2M134.9 67.3Q143.2 65.1 152.8 59.9" fill="none" stroke="#e07050" stroke-width="0.6" stroke-opacity="0.85"/><path d="M87.1 34.5Q90.4 45.1 95.2 52.4M134 67.9Q143 66.1 153.5 61.1M89.9 33.6Q91.9 41.3 94.6 47.2M138.1 63.7Q144.2 61.1 151 56.7" fill="none" stroke="#2f7fd0" stroke-width="0.6" stroke-opacity="0.85"/><path d="M88.9 33.9Q91.5 42 95 48.2M138.5 65.6Q145.2 63.5 152.6 59.5M90.7 33.4Q93.4 43.3 97.5 50.5M136 68.6Q144.6 67.5 154.7 63.6M91.2 33.3Q93.7 42.4 97.2 49.1M137.2 66.1Q144.4 63.9 152.5 59.4M86 34.9Q89.4 44 93.7 50.5M136.4 66Q143.9 63.7 152.3 59" fill="none" stroke="#2e8b57" stroke-width="0.6" stroke-opacity="0.85"/><path d="M87.8 34.3Q93 47.3 99.7 55.3M131.2 67.4Q141 65.8 152.5 59.2" fill="none" stroke="#3aa0a0" stroke-width="0.6" stroke-opacity="0.85"/><path d="M84.6 35.5A54.5 54.5 0 0 1 90 33.6Q105 86 79.4 134.1A54.5 54.5 0 0 1 73 130.1Q105 86 84.6 35.5Z" fill="#5a5a5a" fill-opacity="0.7"/><path d="M86.5 34.7Q106.3 87.5 77.3 133M89.1 33.9Q105.3 86.6 76.9 132.7M84.7 35.4Q105.3 88.4 74.4 131.1M88.8 34Q105.5 87.2 78.9 133.8M88.7 34Q104.5 87.6 74.6 131.2M86.5 34.7Q105.3 84.9 76.3 132.3M88.9 33.9Q101.9 83.8 73.5 130.4M89.6 33.7Q106 85.9 78.3 133.5M88.9 33.9Q104.5 87.5 78.6 133.7M89.1 33.9Q105.9 89.1 75 131.5M89.2 33.8Q106.2 86.4 76.1 132.2M86.1 34.9Q106.9 85.3 76.6 132.5M89 33.9Q105.1 88.4 78.9 133.9M86.4 34.8Q105.4 86.2 77.9 133.3M86.8 34.6Q103.4 87.1 75.8 132M86.1 34.9Q104.4 84.8 79.3 134.1M87.2 34.5Q104.9 86.5 76.9 132.7M86.2 34.9Q105.3 86.2 77.4 133M87.2 34.5Q106 85 79.3 134.1M87 34.6Q105.7 86.1 76 132.1M88.8 34Q103.6 86.1 75.8 132M88.6 34Q105.7 83.2 76.1 132.2M89.4 33.8Q104.2 84.5 74.7 131.3M87.4 34.4Q102.3 85.6 75.6 131.9M89.2 33.8Q105 83.9 79.1 133.9M87.8 34.3Q106.6 86.5 73.5 130.5M86.6 34.7Q106 87.7 73.3 130.3M85.3 35.2Q102.6 86.2 74.5 131.2M86.2 34.8Q106.1 86 73.7 130.6M88.5 34.1Q105.2 84.8 73.7 130.6" fill="none" stroke="#5a5a5a" stroke-width="0.9" stroke-opacity="0.5"/><path d="M85 35.3Q89.9 46.5 92.1 57.5M86.4 110.5Q82 121 74.8 131.4M85.3 35.2Q90.3 46.1 92.6 56.8M85.9 110.3Q81.1 120.4 73.4 130.4" fill="none" stroke="#3aa0a0" stroke-width="0.6" stroke-opacity="0.85"/><path d="M85 35.3Q89.8 47.9 91.8 60.2M87.5 109.5Q83.4 121.2 76.5 132.5" fill="none" stroke="#2e8b57" stroke-width="0.6" stroke-opacity="0.85"/><path d="M89.6 33.7Q93 44.5 94.5 54.9M87.9 114.8Q84.1 124.4 78.6 133.7" fill="none" stroke="#8a6a3a" stroke-width="0.6" stroke-opacity="0.85"/><path d="M85.6 35.1Q89.3 45.9 91.1 56.5M86.1 112.8Q82.5 122.9 76.9 132.7M89.7 33.7Q92.7 44.1 93.9 54.2M84 113.1Q79.6 121.9 73.4 130.4M85.1 35.3Q88.3 42.9 90.3 50.5M85.8 118.9Q82.8 126.3 78.6 133.7" fill="none" stroke="#2f7fd0" stroke-width="0.6" stroke-opacity="0.85"/><path d="M88 34.2Q91.6 45.3 93 56.2M85.9 111.1Q81.7 121.6 75.4 131.8" fill="none" stroke="#e07050" stroke-width="0.6" stroke-opacity="0.85"/><line x1="60" y1="59" x2="79" y2="71.5" stroke="#5a9a5a" stroke-width="0.7"/><line x1="132" y1="132.8" x2="124.5" y2="106.1" stroke="#f4a08a" stroke-width="0.8" stroke-opacity="0.9"/><path d="M84.6 35.5Q79 71 51 93.6" fill="none" stroke="#777" stroke-width="0.4" stroke-opacity="0.8"/><path d="M77.7 38.8Q110.4 77.6 159.3 90.7" fill="none" stroke="#777" stroke-width="0.4" stroke-opacity="0.8"/><text x="123.1" y="8.4" font-size="7.2" fill="#111" text-anchor="middle" dominant-baseline="central" stroke="#111" stroke-width="0.24">1</text><text x="154.5" y="23.3" font-size="7.2" fill="#111" text-anchor="middle" dominant-baseline="central" stroke="#111" stroke-width="0.24">2</text><text x="179" y="55" font-size="9" font-weight="bold" fill="#7f1787" text-anchor="middle" dominant-baseline="central" stroke="#7f1787" stroke-width="0.18">3</text><text x="183.5" y="79.7" font-size="7.2" fill="#111" text-anchor="middle" dominant-baseline="central" stroke="#111" stroke-width="0.24">4</text><text x="181" y="108.4" font-size="7.2" fill="#111" text-anchor="middle" dominant-baseline="central" stroke="#111" stroke-width="0.24">5</text><text x="167.3" y="135.9" font-size="7.2" fill="#111" text-anchor="middle" dominant-baseline="central" stroke="#111" stroke-width="0.24">6</text><text x="148.3" y="153.2" font-size="7.2" fill="#111" text-anchor="middle" dominant-baseline="central" stroke="#111" stroke-width="0.24">7</text><text x="126.2" y="162.8" font-size="7.2" fill="#111" text-anchor="middle" dominant-baseline="central" stroke="#111" stroke-width="0.24">8</text><text x="103.1" y="165.3" font-size="7.2" fill="#111" text-anchor="middle" dominant-baseline="central" stroke="#111" stroke-width="0.24">9</text><text x="81.8" y="162.8" font-size="7.2" fill="#111" text-anchor="middle" dominant-baseline="central" stroke="#111" stroke-width="0.24">10</text><text x="63.1" y="156.3" font-size="9" font-weight="bold" fill="#7f1787" text-anchor="middle" dominant-baseline="central" stroke="#7f1787" stroke-width="0.18">11</text><text x="45.3" y="140.9" font-size="7.2" fill="#111" text-anchor="middle" dominant-baseline="central" stroke="#111" stroke-width="0.24">12</text><text x="32" y="124.2" font-size="9" font-weight="bold" fill="#7f1787" text-anchor="middle" dominant-baseline="central" stroke="#7f1787" stroke-width="0.18">13</text><text x="28.2" y="111.1" font-size="7.2" fill="#111" text-anchor="middle" dominant-baseline="central" stroke="#111" stroke-width="0.24">14</text><text x="24.9" y="93" font-size="7.2" fill="#111" text-anchor="middle" dominant-baseline="central" stroke="#111" stroke-width="0.24">15</text><text x="25.2" y="74.9" font-size="7.2" fill="#111" text-anchor="middle" dominant-baseline="central" stroke="#111" stroke-width="0.24">16</text><text x="28.2" y="60.8" font-size="7.2" fill="#111" text-anchor="middle" dominant-baseline="central" stroke="#111" stroke-width="0.24">17</text><text x="33.1" y="48.6" font-size="7.2" fill="#111" text-anchor="middle" dominant-baseline="central" stroke="#111" stroke-width="0.24">18</text><text x="40.1" y="37.4" font-size="7.2" fill="#111" text-anchor="middle" dominant-baseline="central" stroke="#111" stroke-width="0.24">19</text><text x="48.2" y="28.2" font-size="7.2" fill="#111" text-anchor="middle" dominant-baseline="central" stroke="#111" stroke-width="0.24">20</text><text x="57.5" y="20.6" font-size="7.2" fill="#111" text-anchor="middle" dominant-baseline="central" stroke="#111" stroke-width="0.24">21</text><text x="66.5" y="13.9" font-size="9" font-weight="bold" fill="#7f1787" text-anchor="middle" dominant-baseline="central" stroke="#7f1787" stroke-width="0.18">22</text><text x="78.5" y="10.7" font-size="7.2" fill="#111" text-anchor="middle" dominant-baseline="central" stroke="#111" stroke-width="0.24">X</text><text x="98.9" y="6.8" font-size="7.2" fill="#111" text-anchor="middle" dominant-baseline="central" stroke="#111" stroke-width="0.24">Y</text><circle cx="281" cy="86" r="72.8" fill="none" stroke="#9a9a9a" stroke-width="4.8" pathLength="360" stroke-dasharray="0 0.7 24.6 0.8 26.3 0.8 22.75 0.8 18.75 0.8 20.85 0.8 19.6 0.8 17.15 0.8 16.3 0.8 15.3 0.8 13.9 0.8 14.5 0.8 15 0.8 11.45 0.8 10.5 0.8 12.2 0.8 10.8 0.8 9 0.8 8.5 0.8 8.2 0.8 7.8 0.8 7.4 0.8 7.5 0.8 11.05 0.8 10.8 1.7" transform="rotate(-90 281 86)"/><circle cx="281" cy="86" r="72.8" fill="none" stroke="#f4f4f4" stroke-width="4.1" pathLength="360" stroke-dasharray="0 0.85 24.3 1.1 26 1.1 22.45 1.1 18.45 1.1 20.55 1.1 19.3 1.1 16.85 1.1 16 1.1 15 1.1 13.6 1.1 14.2 1.1 14.7 1.1 11.15 1.1 10.2 1.1 11.9 1.1 10.5 1.1 8.7 1.1 8.2 1.1 7.9 1.1 7.5 1.1 7.1 1.1 7.2 1.1 10.75 1.1 10.5 1.85" transform="rotate(-90 281 86)"/><circle cx="281" cy="86" r="72.8" fill="none" stroke="#dcdcdc" stroke-width="4.4" pathLength="360" stroke-dasharray="0 21.14 1.03 17.69 0.77 0 0.85 4.55 0.53 7.72 1.03 4.61 0.69 11.55 0.57 6.97 0.82 3.73 0.87 0 1.01 0.59 0.64 0 1.32 10.46 0.8 12.09 1.21 0.7 0.76 3.72 0.98 15.6 1.29 2.81 0.52 8.71 1.33 4.67 0.76 1.88 0.78 1.27 0.66 0 1.43 5.05 0.66 0.59 1 9.39 0.86 19.94 1.18 1.09 0.97 0.57 0.98 3.24 0.63 3.69 1.32 4 0.9 6.71 0.71 7.41 0.9 7.58 0.98 1.35 1 4.9 0.98 2.59 1.33 9.99 0.59 6.35 0.49 6.41 1.13 3.06 0.79 1.47 0.9 4.44 1.03 1.43 0.55 3.05 0.82 7.07 0.64 0.64 0.55 7.43 1.44 5.37 0.07 2.97 0.75 0.53 0.87 0.42 1.15 4.47 1.44 2.5 0.78 7.16 0.96 10.71 1.08 5.86" transform="rotate(-90 281 86)"/><circle cx="281" cy="86" r="72.8" fill="none" stroke="#c0c0c0" stroke-width="4.4" pathLength="360" stroke-dasharray="0 22.17 0.86 3.92 0.83 10 1.13 3.72 0.6 4.04 1.22 2.26 0.56 5.11 0.51 5.97 0.69 0 1.26 0.56 0.55 8.67 1.24 1.94 0.82 2.57 0.98 7.57 0.57 3.04 1.17 0.41 0.59 13.22 0.73 0.99 1.1 4.22 1.39 3.06 0.94 3.37 1.13 0.99 1.3 9.28 0.34 3.09 1.13 0.99 0.58 4.36 0.65 1.82 0.85 0.93 1.39 8.58 0.61 2.36 0.64 3.78 1.19 0.42 1.3 3.26 0.59 8.66 0.74 0.7 0.99 0.47 0.98 19.76 1.36 10.91 0.63 1 0.59 4.35 0.52 13.74 0.61 12.51 0.93 2.21 0.33 4.22 0.54 1.4 0.85 8.1 1.03 1.81 0.76 24.95 0.04 6.47 1.46 11.01 0.99 5.86 0.01 5.05 0.72 27.69" transform="rotate(-90 281 86)"/><circle cx="281" cy="86" r="72.8" fill="none" stroke="#a0a0a0" stroke-width="4.4" pathLength="360" stroke-dasharray="0 8.34 1.35 4.94 1.33 3.65 0.8 7.8 1.3 19.57 0.57 7.82 1.39 8.43 1.36 1.01 1.45 4.75 0.1 15.48 0.96 4.49 1.14 3.09 0.9 2.91 1.18 17.1 1.33 69.77 1.46 17.37 0.73 0.55 1.3 2.06 0.94 6.9 1.02 7.31 0.56 2.68 1.16 6.45 0.95 29.59 0.67 24.12 0.98 13.79 0.62 0.66 0.65 1.07 0.58 10.56 0.5 14.98 0.53 0.74 1.14 2.6 0.86 2.05 0.97 2.74 1.38 3.47" transform="rotate(-90 281 86)"/><circle cx="281" cy="86" r="72.8" fill="none" stroke="#7c7c7c" stroke-width="4.4" pathLength="360" stroke-dasharray="0 30.45 0.91 0 0.96 0.82 1.49 0.98 0.85 7.43 1.43 6.41 0.53 9.42 1.2 43.8 0.85 14.48 0.68 10.56 1.12 28.55 1.18 18.16 1.26 8.72 0.92 3.27 1.16 7.07 1.47 23.38 1.06 19.84 0.98 4.11 1.12 3.32 1.41 18 1.25 13.41 0.55 2.01 0.63 63.79" transform="rotate(-90 281 86)"/><circle cx="281" cy="86" r="72.8" fill="none" stroke="#484848" stroke-width="4.4" pathLength="360" stroke-dasharray="0 2.89 0.85 1.17 1.1 1.14 0.55 8.7 0.53 0.81 1.16 6.08 0.32 57.91 1.04 19.32 0.76 24.28 0.65 0 1.01 0.83 1.45 11.34 0.57 1.12 0.51 27.79 1 34.85 1.24 54.72 1.01 0.54 1.25 0.91 1.17 2 0.6 12.73 0.68 4.5 0.63 46.74 1.29 0.97 0.86 16.8 0.93 1.7" transform="rotate(-90 281 86)"/><circle cx="281" cy="86" r="72.8" fill="none" stroke="#1a1a1a" stroke-width="4.4" pathLength="360" stroke-dasharray="0 1.87 0.52 7.3 1.27 0.96 0.76 167.62 1.24 8.79 1.04 36.36 0.92 77.41 1.2 53.74" transform="rotate(-90 281 86)"/><circle cx="281" cy="86" r="72.8" fill="none" stroke="#e5453d" stroke-width="4.4" pathLength="360" stroke-dasharray="0 12.55 1 22.15 1 26.46 1 17.04 1 19.18 1 22.07 1 18.87 1 15.58 1 16.33 1 13.91 1 15.34 1 12.55 1 12.57 1 11.19 1 10.83 1 14.12 1 8.88 1 8.01 1 10.1 1 7.73 1 6.23 1 7.32 1 9.46 1 8.81 1 9.73" transform="rotate(-90 281 86)"/><circle cx="281" cy="86" r="66" fill="none" stroke="#fbf6f6" stroke-width="4.8" pathLength="360" stroke-dasharray="0 0.7 24.6 0.8 26.3 0.8 22.75 0.8 18.75 0.8 20.85 0.8 19.6 0.8 17.15 0.8 16.3 0.8 15.3 0.8 13.9 0.8 14.5 0.8 15 0.8 11.45 0.8 10.5 0.8 12.2 0.8 10.8 0.8 9 0.8 8.5 0.8 8.2 0.8 7.8 0.8 7.4 0.8 7.5 0.8 11.05 0.8 10.8 1.7" transform="rotate(-90 281 86)"/><circle cx="281" cy="86" r="66" fill="none" stroke="#f7d5d5" stroke-width="4.8" pathLength="360" stroke-dasharray="0 328.35 6.77 25.88" transform="rotate(-90 281 86)"/><circle cx="281" cy="86" r="66" fill="none" stroke="#eb9696" stroke-width="4.8" pathLength="360" stroke-dasharray="0 0.7 6.44 0 9.22 0 8.94 0.8 9.47 0 9.8 0 7.03 0.8 9.04 0 5.97 0 5.63 0 2.11 11.82 0.23 8.3 9.61 0 5.21 0 4.42 0 1.61 0.8 11.19 0 7.7 0 0.71 0.8 4.23 0 11.61 0 1.32 0.8 4.2 0 6.43 0 3.17 0 2.5 0.8 6.6 0 5.4 0 3.3 0.8 11.24 0 2.66 0.8 8.73 0 5.77 0.8 8.32 0 5.76 0 0.92 0.8 5.39 0 6.06 0.8 10.5 0.8 4.27 0 7.93 0.8 7.77 0 3.03 0.8 3.49 0 3.32 0 2.19 0.8 8.5 0.8 8.2 0.8 7.8 0.8 7.4 7.57 0.73 0.8 10.84 0 0.21 0.8 10.8 1.7" transform="rotate(-90 281 86)"/><circle cx="281" cy="86" r="66" fill="none" stroke="#dc5a5a" stroke-width="4.8" pathLength="360" stroke-dasharray="0 88 8 265" transform="rotate(-90 281 86)"/><circle cx="281" cy="86" r="58.3" fill="none" stroke="#f5f5f5" stroke-width="6.6" pathLength="360" stroke-dasharray="0 0.7 24.6 0.8 26.3 0.8 22.75 0.8 18.75 0.8 20.85 0.8 19.6 0.8 17.15 0.8 16.3 0.8 15.3 0.8 13.9 0.8 14.5 0.8 15 0.8 11.45 0.8 10.5 0.8 12.2 0.8 10.8 0.8 9 0.8 8.5 0.8 8.2 0.8 7.8 0.8 7.4 0.8 7.5 0.8 11.05 0.8 10.8 1.7" transform="rotate(-90 281 86)"/><circle cx="281" cy="86" r="58.3" fill="none" stroke="#00008b" stroke-width="6.6" pathLength="360" stroke-dasharray="0 240 11 88 8 14" transform="rotate(-90 281 86)"/><circle cx="281" cy="86" r="58.3" fill="none" stroke="#4a4ac0" stroke-width="4.2" pathLength="360" stroke-dasharray="0 52.4 0.5 3.75 0.5 0.63 0.5 1.85 0.5 3.02 0.5 0 0.43 3.74 0.5 3.95 0.5 28.28 0.5 6.28 0.5 5.84 0.5 0 0.37 3.24 0.5 2.6 0.5 103.11 0.5 1.55 0.5 2.76 0.5 2.9 0.5 5.04 0.5 120.75" transform="rotate(-90 281 86)" stroke-opacity="0.8"/><path d="M323.9 52.4A54.5 54.5 0 0 1 333.6 71.9Q283.3 89.2 252.1 132.2A54.5 54.5 0 0 1 234.8 114.9Q283.3 89.2 323.9 52.4Z" fill="#5a5a5a" fill-opacity="0.8"/><path d="M329.6 61.3Q279.5 93.4 245 126.9M324 52.5Q287.6 88.1 246.6 128.3M324.1 52.7Q279.1 82.4 240.4 122.4M332.9 69.5Q282.4 92.7 235.5 116M331.5 65.6Q282.6 90 245.2 127.1M326.5 56Q280 92.8 249.4 130.4M326.4 55.9Q286.8 90.7 246.3 128.1M330.6 63.4Q280.6 85.9 240.7 122.7M331.5 65.6Q283 89.4 237.6 118.9M333.2 70.4Q289 89.2 242.8 124.9M329.4 60.9Q288.6 92.4 251.2 131.6M324 52.6Q282.4 84.2 251.1 131.5M331.4 65.2Q289.2 87.6 250.7 131.3M324.1 52.6Q282.4 91.3 241.3 123.3M330.8 63.9Q289.1 90.8 235 115.2M333.2 70.5Q283.8 88.9 250.3 131M327.9 58.3Q284.7 90.8 251.6 131.9M330.4 62.9Q289.1 88.1 243.6 125.6M324.9 53.7Q282.7 95.1 250.7 131.3M332.4 67.8Q286.6 85.3 237 118.2M330.3 62.8Q285.9 83.7 237 118.1M332.9 69.4Q287.2 92 241.9 124M331.6 65.7Q282.7 82.1 235.5 115.9M333.1 70.1Q287.3 87.3 245.6 127.4M329.1 60.4Q279.8 89.3 243.4 125.5M331.7 66.1Q278.7 91.2 246.9 128.6M333.5 71.3Q279.6 88.4 238.7 120.3M331.2 64.9Q286.3 89.9 235.8 116.4M327.5 57.5Q283.1 89.1 238 119.4M333 69.7Q284.2 90.6 244.1 126.1M324.9 53.7Q288.5 91.6 247.1 128.7M325.7 54.9Q281.5 85.9 243.7 125.7M327.6 57.7Q279 90.3 243.3 125.3M330.6 63.5Q280.5 83 245.8 127.6M333.5 71.2Q282.9 89.6 240.4 122.4M329.1 60.3Q288.5 89.1 234.9 115.1M326.4 55.9Q285.8 92 248 129.4M333.4 70.9Q285 85.3 247.9 129.3M327.3 57.2Q288.2 90.8 243.3 125.3M333.1 69.9Q286 88.8 245.7 127.5M328.3 58.9Q283.5 90.2 239.2 121M329.8 61.7Q284.5 91.1 242.6 124.7M325.4 54.4Q286.8 93 248.2 129.6M333 69.6Q283.6 93.9 240.8 122.8M333.4 70.9Q283.1 89 245 126.9M332.1 67Q275.7 87.5 236.7 117.8M330.7 63.6Q279.6 89.6 237.9 119.3M327.3 57.3Q283.6 88.2 241.4 123.5M331.3 65.1Q280.1 84.7 251.4 131.8M333.1 70.1Q279.9 85.2 239.9 121.8M331.3 65.1Q280.2 83.3 239.2 121M328.3 58.9Q283.5 90.4 235.4 115.9M324.6 53.3Q284.7 87.6 241.6 123.7M332.9 69.5Q282 87.6 242.5 124.5M333.6 71.7Q283.3 94.3 243.1 125.2M324.6 53.2Q284.5 87.6 239.9 121.8M327.1 57Q285.3 93.6 246.6 128.3M332.4 68Q280.6 82.2 243.2 125.3M332.5 68.1Q285 87.9 244.6 126.6M332.5 68.2Q282.7 90.7 250.4 131.1M330.4 62.9Q281.9 87.7 249.8 130.7M331.3 65.1Q282.5 91.1 242.5 124.6M332 66.8Q279.5 96 248.2 129.5M332.9 69.4Q278.5 84.4 238.8 120.5M332.6 68.5Q282.9 85.9 237.1 118.3M332 66.8Q282.5 89 244.4 126.3M326 55.2Q284.8 90 239.5 121.4M332.9 69.3Q288.9 88.5 236.2 117M327.7 57.9Q281.9 89.1 240.7 122.6M326 55.3Q279.4 91.3 240.5 122.5M333.2 70.3Q288.7 97.3 250.6 131.2M325.5 54.5Q281.1 88.1 244.8 126.8M328.6 59.4Q284.6 86.7 248.7 129.9M331.7 66.1Q281.8 89.3 243.2 125.2M332.9 69.5Q283.9 88.7 251.8 132M328.6 59.4Q281.3 87.4 243.4 125.5M333.6 71.8Q284.2 95 245.3 127.2M331.2 64.8Q290.1 87.3 240.6 122.6M327.7 58Q284.1 88.6 236.2 117M329.9 61.9Q280.5 91.3 236.6 117.6M329.6 61.4Q288.2 89.8 236.9 118.1M331.6 65.8Q281.2 87.4 235.4 115.8M331.1 64.7Q287.3 93.9 238.6 120.3M330.7 63.7Q280.3 85.4 240.9 122.9M325.9 55.1Q286.9 88.9 249.1 130.2M326.7 56.3Q285 90.2 240.8 122.8M329.9 62Q281.9 89.5 237.8 119.2M333.2 70.4Q288 86.5 241.4 123.5M333.1 69.9Q282.7 82.6 237.3 118.6M331.3 65.1Q284.7 88.5 235.1 115.4M329.6 61.3Q280.9 85.1 235.5 116M328.9 60.1Q283.3 89.2 250.4 131.1M326.1 55.4Q278.9 90.8 243.2 125.2M330.6 63.5Q277.4 86.8 238.1 119.7M324.4 53.1Q289 86.9 243.1 125.2M332.6 68.4Q284.9 93 235.2 115.5M332.9 69.5Q281 89.1 245.7 127.5M324.9 53.7Q278.2 76.7 236 116.8M333 69.7Q286.3 84.3 241.5 123.5M329.3 60.8Q284.5 92.8 243 125.1M332.7 68.6Q285.7 88.4 251.4 131.8M329.8 61.8Q288.2 90.2 246.2 127.9M326.3 55.6Q285.5 85.7 244.1 126.1M328.2 58.7Q290 89.7 249.3 130.4M329.6 61.4Q283.7 84.9 246 127.8M326.8 56.5Q280.5 91 235.3 115.7M333.5 71.5Q276.6 90.8 243.9 125.9M331.1 64.6Q284.6 89.6 247.1 128.7M325.8 55Q280.3 92.3 238.5 120.1M327.5 57.6Q288.9 88.4 251.3 131.7M331.5 65.4Q289.3 91.4 240.3 122.2M332.8 69.2Q289 82.3 247.4 128.9M326.2 55.5Q288.8 90.9 236 116.7M333.5 71.4Q282.6 89.5 249.2 130.3M330.1 62.3Q281.4 89.1 251 131.5M326.4 55.8Q283.6 91.2 239.6 121.5M327.5 57.6Q281.5 85 244.7 126.6M330.5 63.2Q282.4 94.6 239.2 121M324.8 53.5Q279.2 86.7 250.2 130.9M327.4 57.4Q287.9 93.6 235 115.2M330.2 62.5Q282.1 89.9 240.8 122.8M329.2 60.5Q282.9 82.9 239.4 121.2M327.7 57.9Q286.2 91.7 242.2 124.3M329 60.1Q284.1 90 237.7 119.1M330.9 64.1Q287.8 91.8 237.7 119.1M325.9 55.1Q281.8 87.5 236.8 117.9M328.5 59.3Q284.1 89.1 237 118.2M329.1 60.4Q292 87.1 249.7 130.6M329 60.1Q283 96.1 236.9 118M326.3 55.7Q278 87.9 246 127.8M329.5 61.1Q285.6 89.4 249.9 130.8M327.5 57.5Q286.3 96.3 239.9 121.8M331.1 64.6Q277.3 86.2 245.9 127.7M327.2 57Q279.2 84.2 239.7 121.5M331.3 64.9Q285.1 87.3 250.8 131.4M330.8 63.9Q285.1 82.7 249.7 130.6M332.4 67.8Q286.7 87.2 239.1 120.9M332.7 68.8Q284.9 91.2 246.5 128.2M328.8 59.8Q283.6 86.4 237.9 119.4M332.1 67.1Q278.7 92.9 236.2 117M327.6 57.7Q284.4 92 244.4 126.4M325 53.8Q284.3 86.8 244.4 126.4M326.7 56.3Q281.7 91.5 236.1 116.9M326.1 55.4Q287.9 84.9 251.4 131.8M333.4 71.2Q276.7 83.6 236.4 117.3M327.1 56.9Q284.1 87.4 238.7 120.4M333.2 70.2Q283.1 91.7 235.1 115.4M325.3 54.3Q280.4 94.1 248.3 129.6M326.8 56.4Q281 83.2 247.5 129M324 52.5Q277.2 80.1 237.8 119.2M329.5 61.1Q283.4 89.1 250.9 131.5M332 66.7Q284.3 91.5 242.2 124.2M330.6 63.4Q283.8 84.5 246.3 128M332.1 67.1Q285.8 97.2 249.7 130.6M331.7 66.1Q284.5 89.3 243.8 125.8M330.8 63.8Q282.7 91.3 249.5 130.4M328.7 59.6Q286 93.7 251 131.5M326.1 55.4Q289.6 88.1 242.6 124.7M325.2 54.2Q279.6 87 238.6 120.2M332.3 67.7Q278.6 94.5 235.3 115.8M326.5 56.1Q288.1 85.1 241.5 123.6M328.2 58.7Q276.7 85.7 236.3 117.2M332.4 67.8Q282.1 90.8 243.4 125.4M332.9 69.5Q286 90.7 249.5 130.5M325.7 54.8Q282.7 86 247.4 128.9M332.7 68.9Q287.6 84.5 244.5 126.5M327.2 57.2Q282.5 87.2 241.3 123.4M324.4 53.1Q280.9 83 236.5 117.5M325.7 54.8Q280.9 85.9 237 118.2M329.8 61.7Q284.7 95.8 235.3 115.7M327.6 57.7Q282.3 85.6 246.8 128.4M330.5 63.2Q286.4 90.5 239.2 121M328.8 59.8Q283.9 85.7 237.2 118.5M328.7 59.7Q283.1 88.3 237.9 119.4M332.4 67.9Q281.7 94.6 236.7 117.7M329.6 61.3Q287.5 90.8 246.9 128.5M331.8 66.3Q281.9 87.6 244 126.1M332.6 68.3Q281.3 89.6 238.5 120.2M324 52.5Q283.7 89.9 244.2 126.2M327.8 58.1Q277.9 88.8 235.7 116.3M329.1 60.3Q285.8 93 246 127.8M331.5 65.5Q278.6 90.4 242.1 124.2M326.5 56Q284.6 87.8 235.7 116.2M332.8 68.9Q288.8 90.8 239 120.8M332.4 68Q284.6 93.1 246.1 127.9M324.5 53.1Q282.9 85.5 249.1 130.2M328.7 59.7Q284 86.6 236 116.7M324.6 53.3Q281.6 84.9 251.3 131.7M333.6 71.6Q278.2 85.4 241.8 123.9M329.9 61.9Q280.7 92.4 242.5 124.6M331.6 65.8Q283.2 85.9 242.7 124.8M330.9 64.1Q277.8 87 244 126M325.4 54.4Q284.4 91.3 251.4 131.8M325.8 55Q279.8 90.2 241.3 123.4M332.1 67.1Q288.9 86.3 249.7 130.6M327.2 57Q283.4 89.1 238.3 119.9M328.2 58.7Q282.2 91.1 238.9 120.7M327.5 57.6Q282.9 84.9 246.3 128M328.2 58.8Q280.7 93.1 235 115.3M333.1 69.9Q279.6 91.2 235 115.2M330.8 64Q279 88.1 242 124M326.4 55.9Q281.4 88 248.7 129.9M329.4 61Q282.4 90.6 251.3 131.7M329.7 61.5Q284.2 91.6 236.1 116.9M328.1 58.5Q284.8 89.8 246.3 128M331.4 65.2Q288.9 89.9 236.8 117.9M332.3 67.7Q283 87.9 238.5 120.1M327.6 57.8Q277.2 88.7 236.8 117.9M327.2 57Q284.9 88 236.9 118M331.8 66.4Q285.2 90.4 234.8 114.9M333.1 69.9Q281.6 91.2 239.1 120.9M333 69.8Q284.4 89.2 251.2 131.6M328 58.4Q277.9 85.8 242.5 124.6M328.9 60Q281.6 92.4 235.6 116.2M333.6 71.7Q281.8 89.4 245.7 127.5M332.3 67.7Q286.5 85.4 242.1 124.2M328.9 60Q281.3 92.2 251.1 131.6M328.6 59.4Q283.6 91.6 243.3 125.4M333.2 70.2Q278.4 94.3 237.7 119.1M325 53.9Q283 92 240.1 122M329.8 61.7Q282.5 91.8 241.2 123.2M328.7 59.6Q289.6 85.8 237.2 118.5M331.8 66.3Q289.8 91.4 235.2 115.6M328.4 59.1Q285.5 95.6 251.4 131.8M331.3 64.9Q280.3 96.4 250.4 131.1M333.6 71.8Q288.9 84.6 235.3 115.7M332.9 69.4Q283 93.8 243 125.1M324.5 53.1Q283.2 91.4 241.6 123.7M329.1 60.3Q281.6 89.5 239.6 121.5M333.5 71.4Q277.4 86.1 247.7 129.1M331.4 65.3Q284.4 88.3 243.5 125.6M330.1 62.4Q280.6 89 249.5 130.5M332.6 68.4Q284 91.4 243.3 125.3M325.6 54.7Q288.6 83.1 242.5 124.6M332 66.7Q281.7 87.1 250.4 131.1M325.6 54.7Q284 87.5 249.9 130.7M332.8 69.1Q277.9 94.8 245.6 127.5M326.2 55.6Q286.6 85.1 243.8 125.8M327 56.7Q285.8 84.4 250.1 130.9M333.3 70.8Q282.1 94.6 248.4 129.7M327.9 58.2Q282.5 91.1 235.1 115.3M329.7 61.5Q277.5 94.5 250.3 131M331.2 64.8Q279.9 83.7 243.7 125.7M324.7 53.4Q281.7 80.6 235.3 115.8M326.5 56.1Q281.7 88.7 238.9 120.7M330.7 63.7Q282.6 88.9 242.3 124.4M330.2 62.6Q287 85 243.4 125.4M331.7 66Q283.9 95.9 241.3 123.3M327.2 57.1Q279.6 88.7 235.3 115.8M328.7 59.7Q281.4 89.1 243 125M328.9 60Q282.1 88.3 251.2 131.7M326.8 56.5Q282.9 88.8 251.6 131.9M329.6 61.3Q285.5 91.6 239.8 121.6M327.7 57.8Q282.2 92.2 243.4 125.5M332.8 69Q290.2 85.6 251.7 132M331 64.4Q282.6 85.8 238.2 119.7M326.1 55.4Q279.6 85.6 249.8 130.7M331.7 65.9Q281.5 94.1 235 115.2M327.4 57.4Q287.6 91.2 236.6 117.5M332.8 69.2Q286.9 88.7 247.3 128.9M333.6 71.8Q285.9 87.5 246 127.8M332.5 68.2Q277.6 86.9 236 116.7M332 66.7Q284.8 85 236 116.8M331.7 66.1Q283.1 90.1 241 123M333.2 70.3Q281.4 90.3 249.7 130.6M326.9 56.5Q282 88.4 248.6 129.8M332.8 69Q284.6 91.2 240.6 122.6M331.9 66.5Q282.2 90 235.3 115.6M327.1 57Q279.6 93.3 241.3 123.3M324.7 53.4Q283.1 85.3 235 115.2M329.8 61.8Q280.1 90.9 236.5 117.5M328.2 58.8Q281.8 86.4 235.9 116.6M329 60.1Q290.6 94.4 244.7 126.7M332.8 68.9Q281.6 89.5 235.4 115.8M325.2 54.1Q280.8 89.3 247.7 129.1M333.4 71.1Q279.8 90.7 236.2 117.1M328.4 59.1Q282 89.8 243.6 125.7M332.6 68.5Q285.9 89.5 238.9 120.6M329.1 60.4Q276.8 93 237.8 119.3M331.9 66.5Q282.6 85.5 246.3 128" fill="none" stroke="#5a5a5a" stroke-width="1.0" stroke-opacity="0.55"/><path d="M333.3 70.5Q325.6 74.8 318.2 79.2M260.6 118.6Q254 123.8 247.6 129.1M332.7 68.6Q322.3 71.9 312.1 76.3M260.1 107.1Q250.4 114.4 240.9 122.9M325.4 54.3Q315.1 61.6 304.6 69M258.8 101.7Q247.8 109.6 236.6 117.6M329.5 61.2Q317.3 67.9 306.4 75.4M264.9 111.2Q256.5 120.4 249.4 130.4M333.1 70.1Q322.9 73.4 312.8 77.9M261.4 108.3Q251.7 115.6 242 124.1M333.3 70.5Q324.4 72.8 316.1 75.7M255.8 114.6Q250.3 120.6 245.3 127.2M333.4 70.9Q325 73.7 316.6 77M252.9 107Q244.4 111.7 236 116.8M326.1 55.4Q320.1 60.2 314.3 65.2M260.1 118.9Q255 124.8 250 130.8M329.3 60.8Q321.5 67 313.9 72.8M256 115.9Q249.4 120.6 242.9 125M333 69.7Q324.2 72.7 315.6 76.1M252.7 109.2Q245.2 114.2 238.1 119.6M331.1 64.6Q317.7 69.7 305.9 76.6M266.5 108.9Q257.6 119.1 250.2 131" fill="none" stroke="#2e8b57" stroke-width="0.6" stroke-opacity="0.85"/><path d="M328.7 59.7Q317.1 67 305.6 74.3M259.1 103.5Q247.8 110.6 236.5 117.5M329.6 61.3Q320.3 66.9 311.4 72.6M257.5 111.5Q249.7 117.8 242.2 124.2M330.1 62.4Q319.5 68 309.7 74.2M261.3 112.9Q253.8 120.6 247.2 128.7M328.2 58.7Q317.7 66.7 307.7 75M267.1 111.7Q257.8 120.7 249 130.1" fill="none" stroke="#e07050" stroke-width="0.6" stroke-opacity="0.85"/><path d="M331.6 65.7Q322 70.6 312.9 76.5M267.2 114.5Q259.3 122.8 251.8 132M332.8 69.1Q321.5 72.4 310.8 77.1M262.2 108.4Q252.9 116.6 244.2 126.2M330.9 64.1Q319.3 70.8 308.3 77.7M260.7 109.7Q251 116.8 241.9 124M328.7 59.6Q318.9 66.1 309.9 73M263.6 115.4Q256.7 123.1 250.6 131.2M324.7 53.4Q314.7 61.7 305.2 69.8M259.7 111.1Q251.7 118.8 244.3 126.3M333.5 71.2Q324 74.6 314.9 78.4M255.8 112Q248.4 117.5 241.5 123.5M331.5 65.6Q324.1 69.7 316.7 74M257.2 113.4Q249.8 118.9 242.5 124.6M333 69.6Q324.8 72.3 316.8 75.3M250.1 107.2Q242.8 111.5 235.6 116.2M330.3 62.8Q323.3 66.4 316.1 70.2M253.1 108.3Q245.4 113.5 237.6 118.9M327.3 57.2Q318.8 64.7 310 72.3M264.2 110.6Q254.5 118.5 244.5 126.4M330.8 63.8Q321.2 69.1 312 74.6M257.3 111Q249.1 117.1 241.3 123.3M324 52.5Q316 60.1 307.9 67.6M260 111.4Q251.9 118.7 243.9 125.9M330.9 64.1Q320.7 68.9 310.5 73.9M254.7 104.2Q245 109.9 235.4 115.8M332.9 69.5Q323.7 72.9 314.8 76.8M256.4 110.3Q248.4 116.1 240.5 122.5M331.8 66.2Q321.4 72.3 311.2 79.1M266.8 112.3Q257.2 120.5 247.8 129.2M326.4 55.8Q319.5 62.5 312.2 69.4M264.4 113.8Q256.2 121.3 247.6 129.1M331.8 66.1Q322.2 70.3 313.2 75M258.3 113.1Q251.1 119.5 244.6 126.5" fill="none" stroke="#2f7fd0" stroke-width="0.6" stroke-opacity="0.85"/><path d="M329.3 60.7Q318.3 67.2 307.5 74M260.4 106.6Q250.3 114.3 240.4 122.4M332.3 67.5Q321.9 71.8 311.5 77.5M266.8 108.6Q256.3 117.4 245.8 127.6M326.4 55.9Q315.6 63.4 305 71.3M261.9 105.9Q251.7 114.6 241.7 123.8M326.5 55.9Q318.7 60.7 311 66.1M258.1 111.6Q251.2 118.8 244.5 126.4M333.5 71.4Q323.5 74.9 313.3 79.2M259.7 106.9Q249.3 113.3 238.8 120.4" fill="none" stroke="#8a6a3a" stroke-width="0.6" stroke-opacity="0.85"/><path d="M331.9 66.5Q323.5 69.5 315.5 73.1M253.9 112.2Q247.6 117.8 241.7 123.8M333 69.7Q323.1 74 313.9 79M264.8 116.8Q258 124.1 251.9 132.1M329.6 61.3Q320.2 66.2 310.7 72.2M264 108.3Q254.5 117.1 245 126.9" fill="none" stroke="#3aa0a0" stroke-width="0.6" stroke-opacity="0.85"/><path d="M335 93.6A54.5 54.5 0 0 1 328.2 113.2Q281.8 89.9 250.5 131.2A54.5 54.5 0 0 1 232.9 111.6Q281.8 89.9 335 93.6Z" fill="#5a5a5a" fill-opacity="0.8"/><path d="M330.8 108.2Q274.7 91.5 240.1 122M331.1 107.5Q276 89.9 233.7 113.1M330.1 109.6Q283.2 94.9 247.5 129M331.3 107.1Q281.1 85.4 246.1 127.9M330.8 108.1Q280.4 90.3 232.9 111.6M334.9 94.1Q283.5 89.9 244.4 126.4M333.3 101.5Q280.9 89.4 238.7 120.3M328.6 112.5Q286.1 88.2 239.4 121.2M332.1 105Q274.6 90.6 249.6 130.5M334.4 96.8Q284.1 90.1 244.9 126.8M328.9 112Q282 95.4 245.2 127.1M329.6 110.6Q280.2 94 246.4 128.1M332.6 103.5Q288.8 91.9 242.4 124.5M333.1 102Q285.2 90.5 242.6 124.7M331.4 106.7Q288.7 87.9 242.6 124.7M329.8 110.3Q281.7 85.7 237 118.1M334.6 95.7Q280 96.2 239.2 121M330.1 109.7Q279 95.3 247.9 129.3M331.1 107.5Q287.8 88.6 233.2 112.2M334 98.7Q277.6 93.2 250.3 131.1M331.4 106.7Q279.4 96.5 234.8 115M334.9 93.9Q277.7 91.6 248.5 129.8M331.8 105.7Q284 89.4 238.7 120.3M329 111.8Q283.6 90.7 232.9 111.6M329.8 110.2Q280.3 87.1 238.1 119.6M330.2 109.5Q288.6 90.7 248.7 129.9M332.8 102.9Q286.6 86.5 244.5 126.4M333.6 100.4Q281.9 87.5 233.7 113.1M332.4 104.2Q277.7 90.9 241.9 123.9M328.5 112.6Q282.3 87.6 235.9 116.7M334.8 94.9Q286.8 91.5 237.5 118.8M333.3 101.5Q286.7 84.4 243.8 125.8M328.5 112.8Q285.1 88.8 246.9 128.5M330.1 109.6Q288.6 83.8 248.8 129.9M334.9 94Q273.5 85.2 240.9 122.9M333.6 100.2Q278.9 86 247.4 128.9M333 102.4Q282.6 84.4 241.4 123.5M329.9 110Q279.2 82.7 247.2 128.7M333.4 100.9Q289.4 94.1 238.6 120.2M334.5 96.5Q281.8 82.7 249.3 130.3M331.7 106Q272.5 91.6 237.5 118.8M330.7 108.3Q280.2 89.8 233 111.8M334.9 93.8Q282.6 89.5 233.6 112.8M331.5 106.6Q286.8 94.7 235.4 115.8M332.4 104Q285.5 87.2 247.2 128.8M328.9 111.9Q281.4 87.5 244.8 126.7M334.2 97.7Q278.6 93.2 240.5 122.4M334.4 96.9Q281.1 86.6 236.2 117.1M332.9 102.5Q283.6 79.8 244.6 126.6M330.1 109.6Q278.6 93.6 237.1 118.3M331.3 107Q274.6 91.3 234.1 113.8M334.9 94.3Q282.7 96.2 235.8 116.4M331.7 105.9Q282.4 86.7 238.6 120.3M331.1 107.4Q287.6 92.2 248 129.4M334 98.9Q279.1 94.3 250.5 131.1M332.8 102.9Q288.1 91.4 241.2 123.2M333.7 99.8Q275.4 88.2 238.5 120.1M332.5 103.7Q277.5 87.7 249 130.1M329 111.9Q276.7 97.4 234.8 114.9M328.5 112.7Q284.2 84.9 239.6 121.4M331.1 107.6Q283.6 82.3 237 118.2M332.7 103.2Q281.9 88 237.1 118.2M333.9 99.1Q286.3 91.8 233 111.8M334.4 97Q278.5 91.2 235.6 116.1M331.9 105.5Q283.4 91.5 248.7 129.9M333 102.4Q278.4 89.9 236.2 117M332.1 105Q286.7 88.3 239.2 121M334.4 96.9Q280 88.3 234.5 114.5M332.7 103.3Q284.1 95.6 246.8 128.4M330.1 109.7Q276.2 86.8 247.3 128.8M331.6 106.2Q274.2 86.6 248.7 129.9M332 105.3Q284.8 81 244.9 126.8M334.4 97.1Q284.5 89.9 232.9 111.7M334.8 94.6Q287.1 85.7 246.1 127.8M333.7 100.1Q281.3 85.5 241 123M330.3 109.2Q282.2 93.1 247.2 128.8M328.7 112.4Q287.6 96.5 242 124M333.8 99.4Q275.8 83.8 232.9 111.7M332.7 103.3Q278.7 85.3 233.5 112.8M332.8 102.8Q278.7 89.6 238.9 120.6M331.1 107.4Q277.5 92 246.9 128.5M332.5 103.8Q280.8 86.6 237.3 118.6M331.4 106.7Q287.2 91.7 245.2 127.1M334.7 95.1Q282.9 89.2 241.1 123.1M331.1 107.4Q275.4 93 234.7 114.7M331.5 106.4Q279.5 86 239.1 120.9M330.5 108.7Q285.6 97.8 243.1 125.2M335 93.6Q285 91.1 237.9 119.4M334.6 95.7Q276.8 91.3 233.2 112.1M328.9 111.9Q278.6 87.4 235 115.1M329.7 110.4Q286 94.6 248.7 129.9M330.8 108.2Q283.3 90.3 246.9 128.5M330.9 108Q283.4 84 240.1 122M330.8 108Q280.1 94.3 239.9 121.8M330.9 107.8Q282.2 87.9 237.2 118.4M332.9 102.5Q287.2 94 241.8 123.9M333.1 102.1Q283.1 96.6 246.3 128M332.4 104.2Q277.2 91.1 245.4 127.3M333.8 99.5Q284 94.8 249.6 130.5M330.4 109.1Q280.2 90.5 239.7 121.5M332.7 103.4Q284.8 94.7 246.5 128.2M332.7 103.1Q281.9 87.1 241.8 123.9M330.3 109.3Q283 91.4 243.5 125.5M330.2 109.3Q281.1 89.2 241.7 123.8M329.8 110.2Q279.4 88.8 235.9 116.6M333.8 99.3Q282.7 91.3 249.1 130.2M333.6 100.3Q284.8 91.4 240.1 122M332.2 104.7Q279.1 91.7 245.6 127.4M333.9 99.1Q279 86.9 237.6 119M331.1 107.5Q285.1 86.3 247.2 128.7M333.1 101.9Q285.7 90.3 245.1 127M329.3 111.3Q282.3 93.1 243.6 125.6M334.9 93.9Q284.9 96.3 236.1 117M333.3 101.3Q282.3 91.1 233.3 112.3M332.9 102.6Q275.8 88 233 111.8M333.1 102.1Q283.6 85.1 246.9 128.5M333.1 102Q284.2 87.3 235.8 116.4M330.6 108.6Q286.3 88.2 248.9 130M331.5 106.6Q278.6 88.9 234.3 114.1M332.5 103.9Q280.7 89.4 235 115.2M334.6 95.8Q277.3 84.7 245 126.9M333.8 99.6Q282 90.6 242.6 124.7M334.7 95.3Q276.5 96.1 237.6 119M332.1 105Q277.8 92.5 237.9 119.4M330 109.9Q286 88.7 238.6 120.2M333.9 98.9Q285.2 91.1 234 113.6M330.5 108.7Q289.5 85.9 240.9 122.9M330.6 108.7Q282.4 88.2 234.6 114.5M332.4 104Q287 88.2 238.7 120.4M331.6 106.4Q282.3 82 242.5 124.5M332.9 102.7Q276.1 87.1 247.7 129.2M330.5 108.9Q279.8 87.8 233.2 112.1M328.2 113.2Q275.3 91.4 239.1 120.9M334.8 94.8Q285.1 84.7 244.4 126.4M334.8 94.8Q279.7 99.1 237.1 118.3M330.7 108.4Q278.2 87.6 236.7 117.7M329.6 110.7Q284.7 87.9 239.3 121.1M333.6 100.2Q280.7 85.3 240.1 122.1M333.7 100.1Q282.2 89.2 244.3 126.3M334.1 98.4Q278.6 89.8 250.3 131M334.6 96.1Q287.8 92.2 245.2 127.1M332.5 103.9Q280.9 89.3 241.1 123.1M332.3 104.5Q276.5 84.1 242.7 124.8M331.3 107Q286.8 92.7 241.9 124M333.4 101Q283.1 92.1 249.5 130.5M334.6 95.9Q283.4 87.2 235.2 115.5M329.9 110.1Q279.2 87.1 238.6 120.3M332.7 103.2Q284.9 90.7 242.2 124.2M332.9 102.6Q290.2 89.5 236 116.8M332.4 104.2Q281.1 82.8 243.9 126M331.8 105.9Q278.2 90.7 233.7 113.1M329.9 110.1Q279.3 86.3 234.9 115M330.3 109.3Q273.7 87 236.9 118M334.2 97.6Q280.8 88.8 237.8 119.2M328.7 112.4Q274.4 89.7 241.4 123.5M333.8 99.5Q280.2 90.9 236.1 116.9M333 102.4Q281 92.7 243.5 125.5M330.8 108.2Q273.1 92.6 233.5 112.6M329.5 110.9Q275 88.3 236.7 117.7M333.9 99.3Q283.7 88.3 241.9 124M331.7 105.9Q284.7 92.3 249.1 130.2M333.9 98.9Q283.2 86.6 239.6 121.5M331.7 106.1Q281.6 88.2 234.2 114M334.9 93.9Q281.2 89.4 235 115.3M333.8 99.5Q281.3 94 242.9 124.9M332.2 104.7Q286.6 90.2 244.7 126.7M332.3 104.3Q276.2 96.8 233.8 113.2M334.6 95.6Q280.7 87.1 246.2 127.9M335 93.6Q277 83.4 244 126M334.6 95.8Q280.9 90.1 248.6 129.8M333.7 100.1Q280 97.8 235.4 115.9M328.4 112.9Q281.4 96.5 250.2 131M333.6 100.2Q288.1 85.2 239.1 120.9M332.7 103.2Q277.3 91.4 248.3 129.6M332.7 103.2Q287.5 90.5 244.2 126.2M332.2 104.6Q286.2 85.5 244.3 126.3M334.9 93.8Q285.4 85.7 239.8 121.7M328.5 112.8Q280.3 90.2 242.1 124.2M334 98.7Q281.6 86.6 238.3 119.9M334.1 98.1Q280.1 89.8 249.1 130.2M331.4 106.8Q281.6 90.8 242.8 124.9M328.9 112Q277.1 90.4 235.3 115.7M334.7 95.6Q285.2 89.3 244 126.1M332.6 103.7Q279.4 93.6 234.3 114.1M334.6 96.1Q284.5 87.1 243.7 125.8M332.2 104.7Q285.5 85.2 235.5 116M334.2 97.7Q281 84.6 238.9 120.6M331.9 105.5Q281.5 89 233 111.9M331.8 105.7Q283.1 88.3 248.1 129.4M332.6 103.5Q284.2 91 233.8 113.3M330.7 108.4Q281.1 95.6 236.5 117.4M334.2 97.9Q286.1 94.1 245.4 127.3M333.5 100.8Q282.5 90.2 240.7 122.7M332.3 104.4Q281.4 86 244 126M334.9 94Q283.9 89 233.8 113.3M333.7 99.7Q275.5 87.9 237.4 118.7M331.9 105.6Q281.9 87 238.1 119.6M333.1 102Q281 92.1 237.1 118.3M333.2 101.8Q284.8 87.6 237.6 118.9M328.2 113.2Q272.5 91.3 246.3 128M330.5 108.7Q282.4 85.3 241.1 123.1M329.3 111.3Q280.7 93.5 241.8 123.9M333.4 100.9Q282.6 92.4 233.2 112.3M334 98.5Q276.3 92.7 235.9 116.6M332.4 104.2Q285.5 90.8 238.8 120.5M333.9 99.2Q281.9 91.9 239.8 121.6M329.4 111.1Q281.3 94.8 247.8 129.2M334.1 98.2Q280.3 88.4 239.9 121.7M329.9 110Q281.4 83.4 241.6 123.6M332.2 104.6Q285.9 90.3 238.1 119.6M329.1 111.7Q280.6 88.9 239.5 121.4M334.4 97.1Q279.1 92 245.4 127.3M330.9 107.9Q285.8 89.2 233.5 112.7M331.4 106.8Q281.2 85.8 234.6 114.5M330.2 109.5Q283.8 90.3 241.6 123.7M328.3 113.1Q279.3 91 237.9 119.3M335 93.7Q288.8 87.5 233 111.8M330 109.9Q284.9 85.1 243.3 125.4M332.5 103.8Q283.1 93.4 233.4 112.6M334.3 97.4Q283.3 90.6 238 119.4M332.3 104.4Q278 87.5 245.1 127M334.5 96.4Q278.5 91.3 247.6 129.1M332.3 104.5Q283.6 86.4 242.3 124.3M331.6 106.1Q283.9 84.5 236.1 116.9M334.7 95.2Q287.2 89 240.8 122.8M332.5 104Q279.7 90.9 234.6 114.6M334.3 97.5Q276.9 87.3 236.2 117M332.8 103.1Q280.5 89.7 233.7 113.1M331.4 106.7Q282.3 88.2 249.6 130.5M330.1 109.6Q284.3 94.3 239.1 120.9M332.3 104.4Q288.4 92.7 235.5 116M328.9 112Q282.8 88.4 233.4 112.5M334.6 95.8Q286.4 89 245.4 127.2M334.7 95.5Q278.3 84 246.4 128.1M330 109.9Q277.4 88.4 249.7 130.6M331.5 106.5Q279.4 91.6 248.1 129.4M332.2 104.7Q285.2 84.9 249.9 130.7M332.8 102.9Q288.6 85.8 247 128.6M330 109.9Q280.2 91.3 240.4 122.4M331.7 106Q290.6 85.4 233.2 112.1M330.2 109.3Q277.6 88.1 245.4 127.2M334 98.9Q279.5 92 242 124.1M333.2 101.7Q282.2 88.4 237.3 118.6M328.4 113Q272.7 90 235.6 116.2M330.8 108.2Q285.9 87.4 239.7 121.6M330.9 107.8Q285.9 92.7 249.9 130.8M331 107.7Q282.3 94.4 242.4 124.5M328.8 112.2Q281.3 93.4 249.4 130.4M331.2 107.1Q280.4 89.8 237.4 118.7M332.6 103.6Q286.2 88.9 241.7 123.8M333.1 101.9Q283.4 92.7 242.9 125M332.4 104.2Q281.4 98.5 234.6 114.6M331.9 105.6Q286.3 90 238.7 120.4M334.4 97.1Q287.4 94.1 238.2 119.7M333.3 101.2Q286.3 90.3 239.4 121.2M332.1 105Q280 93.4 242.4 124.5M328.2 113.2Q276.8 88.2 233 111.8M333.9 99.3Q274.6 98.2 240.4 122.4M334.4 97Q278.4 91.9 243.3 125.4M333.2 101.7Q286.2 87.4 243.9 125.9M334.7 95.1Q282.9 95.2 235.7 116.3M330.1 109.7Q280.5 94 239.1 120.9M330.2 109.4Q278 93.6 234.1 113.7M330.5 108.8Q282.5 90.7 249.2 130.3M331 107.6Q283.4 91.6 244.4 126.4M333.3 101.3Q282.5 91.7 236.5 117.5M329.4 111.1Q276.6 92.9 233.2 112.2M329 111.8Q277.6 98 235.6 116.2M331.5 106.6Q276.8 88.5 250.4 131.1M334.6 95.7Q279.5 89.5 237.1 118.3M330.1 109.6Q285 91.7 243.6 125.6M334.3 97.5Q285.2 92.9 233.6 112.8M334.3 97.4Q279.6 85.8 241.5 123.5M331.3 106.9Q282.4 87.3 237.8 119.2M331.4 106.6Q284.8 92.9 250.2 130.9M334.1 98.4Q289 87.7 248.1 129.4M334.1 98.1Q285.9 88.8 236.9 118.1M330.6 108.6Q281.7 97.2 236.6 117.6M330.2 109.4Q281.5 85.6 235.2 115.6M333 102.4Q272.2 92.1 247.7 129.1" fill="none" stroke="#5a5a5a" stroke-width="1.0" stroke-opacity="0.55"/><path d="M329.5 110.9Q319.9 107.4 310.3 105.6M256 109.5Q246.3 112.6 236.6 117.5M332.9 102.5Q325.6 100.3 318.5 99.1M253.4 114.1Q247.4 118.3 241.5 123.6M329.3 111.2Q322.3 107.5 315.4 105.5M262 118.7Q255.9 123.9 250 130.8M328.8 112.1Q320.6 108.2 312.6 106.5M264 117.7Q256.6 123 249.4 130.4M333 102.2Q321.9 99.2 311.8 98.4M260.9 114.5Q253.8 120.7 247.7 129.1" fill="none" stroke="#8a6a3a" stroke-width="0.6" stroke-opacity="0.85"/><path d="M334.9 94.4Q323.8 93 313.2 93.4M257.9 108.5Q248.2 113.6 238.8 120.5M333.9 99.1Q325.7 97.5 317.9 97M255.5 114.7Q249 119.3 242.9 125M333.7 100.1Q320.6 96.6 308.8 96.3M261.7 111Q253.1 117.8 245.8 127.6M329.2 111.4Q315.9 106.6 304.3 105.3M264.3 114.9Q256 120.9 249.5 130.5M334.3 97.4Q324.4 95.4 314.9 95.3M261.9 113.3Q253.6 119.4 245.7 127.6M334.2 98Q326 96.4 317.7 95.9M251.8 105.7Q242.8 108.8 233.6 113M332.7 103.3Q321.5 99.6 309.9 98.6M261.2 105.7Q249 110.1 236.4 117.3M330.7 108.4Q323.3 105.9 316 104.3M249.8 110.9Q243.2 113.8 236.7 117.8M329.8 110.3Q322.9 107.2 316.1 105.5M258.4 116.4Q251.5 120.7 244.5 126.5" fill="none" stroke="#e07050" stroke-width="0.6" stroke-opacity="0.85"/><path d="M334.6 95.8Q320.8 94.1 308.6 95.4M266 112.3Q256.6 119.6 248.7 129.9M333.7 99.9Q319.4 96.8 306.7 97.1M263.4 110.7Q253.8 117.4 245.8 127.6M330.5 108.8Q324.9 105.7 319 103.8M255.3 113.6Q248.1 117.6 240.7 122.7M332.1 104.9Q322.7 101.6 313.6 100.1M256 111.4Q248.2 116.2 240.8 122.8M334.5 96.1Q325.7 94.3 317.1 93.9M258.2 113.4Q250.9 118.9 244 126M331.6 106.2Q318.6 101.7 306.4 100.5M261.5 108.8Q250.9 114.3 241 123M332.7 103.4Q324.5 101.7 316 100.9M252.7 106.4Q243.1 108.7 233.1 112M334.4 96.7Q322.8 96 311.6 97M260.9 110.9Q250.6 115.9 240.6 122.6M331 107.7Q322.2 105.1 313.7 103.6M250.6 110.2Q243.4 113.3 236.6 117.6M334 98.8Q320.4 97.5 308.1 98.6M263.8 112.5Q253.8 118.4 244.9 126.8M333.5 100.6Q325.2 97.8 317.1 96.7M259.5 114.5Q252.5 120.2 245.9 127.7M330.1 109.6Q323.2 106 316.5 104M259.7 117.8Q253.9 122.9 248.3 129.6M334.3 97.4Q325.9 96 317.3 95.5M251.5 105.1Q242.4 108.1 233.2 112.2M329.6 110.7Q322.4 107.3 315.3 105M246.2 105.8Q239.6 108.4 233.1 111.9" fill="none" stroke="#2f7fd0" stroke-width="0.6" stroke-opacity="0.85"/><path d="M334.5 96.4Q325.6 95.2 317 95.1M253.3 110.6Q245.6 114.7 238.3 119.8M329.3 111.2Q318.7 107.4 308.7 105.9M259.1 114.4Q251.2 119 243.9 125.9M331 107.8Q318.4 102.7 306.4 101.3M263.3 109.4Q252.5 115 242.4 124.4M329.5 110.8Q320.2 107.3 310.8 105.8M259.7 112.7Q250.3 116.8 240.9 122.9M330.7 108.3Q321.6 103.3 312.3 101.2M261.9 110.5Q252.2 116 242.4 124.5" fill="none" stroke="#2e8b57" stroke-width="0.6" stroke-opacity="0.85"/><path d="M334.9 93.7Q325 92.7 315.8 93M256.4 115Q250.4 120.4 245.2 127.1M334.6 96Q325.3 94.8 316.2 94.4M250.4 104.5Q241.6 107.6 232.9 111.6M332.8 102.8Q319.7 99.7 307.2 99.4M261.9 108.6Q250.6 113.8 239.9 121.8M334.9 94Q325.4 93 316.6 93.5M260.5 117.1Q254.4 122.9 248.9 130.1M328.8 112.2Q316.7 106.5 305.6 104.7M266.1 113.2Q256.7 119.4 248.2 129.5M333.8 99.5Q324.3 98.1 315.3 98M256.9 115.2Q250.1 120 244 126M332 105.1Q321.7 102.4 311.4 101.1M252.8 105.1Q242.9 107.8 233.1 111.9" fill="none" stroke="#3aa0a0" stroke-width="0.6" stroke-opacity="0.85"/><line x1="301.2" y1="35.9" x2="293.2" y2="58.6" stroke="#f29580" stroke-width="0.75" stroke-opacity="0.9"/><line x1="308" y1="39.2" x2="292" y2="63.5" stroke="#f29580" stroke-width="0.75" stroke-opacity="0.9"/><line x1="227.8" y1="76.6" x2="261.7" y2="80.8" stroke="#f29580" stroke-width="0.75" stroke-opacity="0.9"/><line x1="230.3" y1="67.5" x2="258" y2="79" stroke="#f29580" stroke-width="0.75" stroke-opacity="0.9"/><line x1="232.5" y1="62.3" x2="256.3" y2="72.9" stroke="#f29580" stroke-width="0.75" stroke-opacity="0.9"/><line x1="236.8" y1="55" x2="261.4" y2="68.9" stroke="#f29580" stroke-width="0.75" stroke-opacity="0.9"/><line x1="244.9" y1="45.9" x2="259.8" y2="64.8" stroke="#f29580" stroke-width="0.75" stroke-opacity="0.9"/><line x1="227.2" y1="90.7" x2="251.1" y2="88.6" stroke="#f29580" stroke-width="0.75" stroke-opacity="0.9"/><line x1="308" y1="132.8" x2="292.8" y2="111.4" stroke="#f29580" stroke-width="0.75" stroke-opacity="0.9"/><line x1="299.5" y1="136.7" x2="292.4" y2="109.4" stroke="#f29580" stroke-width="0.75" stroke-opacity="0.9"/><line x1="285.7" y1="139.8" x2="281.4" y2="108" stroke="#f29580" stroke-width="0.75" stroke-opacity="0.9"/><line x1="276.3" y1="139.8" x2="278.4" y2="115.9" stroke="#f29580" stroke-width="0.75" stroke-opacity="0.9"/><line x1="258.2" y1="134.9" x2="272.8" y2="108.6" stroke="#f29580" stroke-width="0.75" stroke-opacity="0.9"/><line x1="315.7" y1="127.4" x2="293.7" y2="106.4" stroke="#f29580" stroke-width="0.75" stroke-opacity="0.9"/><line x1="323.6" y1="119.2" x2="298" y2="96.6" stroke="#f29580" stroke-width="0.75" stroke-opacity="0.9"/><line x1="234.2" y1="59" x2="256.7" y2="68.4" stroke="#5a9a5a" stroke-width="0.7" stroke-opacity="0.9"/><line x1="331.1" y1="106.2" x2="311.8" y2="94.8" stroke="#5a9a5a" stroke-width="0.7" stroke-opacity="0.9"/><path d="M299.6 137.2Q286.7 107.3 290.5 139.7" fill="none" stroke="#4a90e0" stroke-width="0.7" stroke-opacity="0.9"/><path d="M267.8 33.1Q289.9 65.9 329.1 60.4" fill="none" stroke="#888" stroke-width="0.6" stroke-opacity="0.9"/><path d="M292.3 32.7Q298.2 61.4 327.2 57.1" fill="none" stroke="#777" stroke-width="0.6" stroke-opacity="0.9"/><text x="299.1" y="8.4" font-size="7.2" fill="#111" text-anchor="middle" dominant-baseline="central" stroke="#111" stroke-width="0.24">1</text><text x="330.5" y="23.3" font-size="7.2" fill="#111" text-anchor="middle" dominant-baseline="central" stroke="#111" stroke-width="0.24">2</text><text x="355" y="55" font-size="9" font-weight="bold" fill="#7f1787" text-anchor="middle" dominant-baseline="central" stroke="#7f1787" stroke-width="0.18">3</text><text x="359.5" y="79.7" font-size="7.2" fill="#111" text-anchor="middle" dominant-baseline="central" stroke="#111" stroke-width="0.24">4</text><text x="357.7" y="108.6" font-size="9" font-weight="bold" fill="#7f1787" text-anchor="middle" dominant-baseline="central" stroke="#7f1787" stroke-width="0.18">5</text><text x="343.3" y="135.9" font-size="7.2" fill="#111" text-anchor="middle" dominant-baseline="central" stroke="#111" stroke-width="0.24">6</text><text x="324.3" y="153.2" font-size="7.2" fill="#111" text-anchor="middle" dominant-baseline="central" stroke="#111" stroke-width="0.24">7</text><text x="302.2" y="162.8" font-size="7.2" fill="#111" text-anchor="middle" dominant-baseline="central" stroke="#111" stroke-width="0.24">8</text><text x="279.1" y="165.3" font-size="7.2" fill="#111" text-anchor="middle" dominant-baseline="central" stroke="#111" stroke-width="0.24">9</text><text x="257.8" y="162.8" font-size="7.2" fill="#111" text-anchor="middle" dominant-baseline="central" stroke="#111" stroke-width="0.24">10</text><text x="239.1" y="156.3" font-size="9" font-weight="bold" fill="#7f1787" text-anchor="middle" dominant-baseline="central" stroke="#7f1787" stroke-width="0.18">11</text><text x="220.4" y="141.7" font-size="9" font-weight="bold" fill="#7f1787" text-anchor="middle" dominant-baseline="central" stroke="#7f1787" stroke-width="0.18">12</text><text x="209.2" y="123.5" font-size="7.2" fill="#111" text-anchor="middle" dominant-baseline="central" stroke="#111" stroke-width="0.24">13</text><text x="204.2" y="111.1" font-size="7.2" fill="#111" text-anchor="middle" dominant-baseline="central" stroke="#111" stroke-width="0.24">14</text><text x="200.9" y="93" font-size="7.2" fill="#111" text-anchor="middle" dominant-baseline="central" stroke="#111" stroke-width="0.24">15</text><text x="201.2" y="74.9" font-size="7.2" fill="#111" text-anchor="middle" dominant-baseline="central" stroke="#111" stroke-width="0.24">16</text><text x="204.2" y="60.8" font-size="7.2" fill="#111" text-anchor="middle" dominant-baseline="central" stroke="#111" stroke-width="0.24">17</text><text x="209.1" y="48.6" font-size="7.2" fill="#111" text-anchor="middle" dominant-baseline="central" stroke="#111" stroke-width="0.24">18</text><text x="216.1" y="37.4" font-size="7.2" fill="#111" text-anchor="middle" dominant-baseline="central" stroke="#111" stroke-width="0.24">19</text><text x="224.2" y="28.2" font-size="7.2" fill="#111" text-anchor="middle" dominant-baseline="central" stroke="#111" stroke-width="0.24">20</text><text x="233.5" y="20.6" font-size="7.2" fill="#111" text-anchor="middle" dominant-baseline="central" stroke="#111" stroke-width="0.24">21</text><text x="243" y="14.9" font-size="7.2" fill="#111" text-anchor="middle" dominant-baseline="central" stroke="#111" stroke-width="0.24">22</text><text x="254.5" y="10.7" font-size="7.2" fill="#111" text-anchor="middle" dominant-baseline="central" stroke="#111" stroke-width="0.24">X</text><text x="274.9" y="6.8" font-size="7.2" fill="#111" text-anchor="middle" dominant-baseline="central" stroke="#111" stroke-width="0.24">Y</text><circle cx="105" cy="257.5" r="72.8" fill="none" stroke="#9a9a9a" stroke-width="4.8" pathLength="360" stroke-dasharray="0 0.7 24.6 0.8 26.3 0.8 22.75 0.8 18.75 0.8 20.85 0.8 19.6 0.8 17.15 0.8 16.3 0.8 15.3 0.8 13.9 0.8 14.5 0.8 15 0.8 11.45 0.8 10.5 0.8 12.2 0.8 10.8 0.8 9 0.8 8.5 0.8 8.2 0.8 7.8 0.8 7.4 0.8 7.5 0.8 11.05 0.8 10.8 1.7" transform="rotate(-90 105 257.5)"/><circle cx="105" cy="257.5" r="72.8" fill="none" stroke="#f4f4f4" stroke-width="4.1" pathLength="360" stroke-dasharray="0 0.85 24.3 1.1 26 1.1 22.45 1.1 18.45 1.1 20.55 1.1 19.3 1.1 16.85 1.1 16 1.1 15 1.1 13.6 1.1 14.2 1.1 14.7 1.1 11.15 1.1 10.2 1.1 11.9 1.1 10.5 1.1 8.7 1.1 8.2 1.1 7.9 1.1 7.5 1.1 7.1 1.1 7.2 1.1 10.75 1.1 10.5 1.85" transform="rotate(-90 105 257.5)"/><circle cx="105" cy="257.5" r="72.8" fill="none" stroke="#dcdcdc" stroke-width="4.4" pathLength="360" stroke-dasharray="0 1.56 1.32 8.77 0.62 0 0.78 0 1.25 1.82 0.61 1.77 0.82 4.47 1.28 16.64 1.22 0.62 1.07 5.42 0.64 1.02 0.71 7.04 0.58 1.88 0.73 6.03 0.54 8.27 1.27 2.05 0.6 7.65 1.42 3.27 1.32 11.95 1.49 28.27 0.71 1.49 0.55 8.58 0.89 2.98 1.03 1.87 0.65 6.79 0.87 12.72 1.34 4.21 1.48 4.29 0.98 7.71 0.67 13.18 1.44 0.96 0.6 0.65 1.49 12.9 1.41 1.07 0.78 2.07 1.41 7.34 0.57 11.66 1.47 3.87 0.94 7.72 0.72 5.43 1.33 12.97 1.04 13.49 0.76 8.36 0.95 0 1.1 0.67 1.22 6.36 1.13 5.63 0.77 2.38 1.22 0.68 0.81 4.49 1.48 0 0.72 2.46 0.72 2.2 0.53 4.17 1.28 2.97 1.4 0.96 0.82 1.7" transform="rotate(-90 105 257.5)"/><circle cx="105" cy="257.5" r="72.8" fill="none" stroke="#c0c0c0" stroke-width="4.4" pathLength="360" stroke-dasharray="0 4.54 1.12 0 1.03 0 1.14 7.07 0.51 4.47 1.15 0.69 1.29 6.19 1.23 2.6 1.3 0.55 1.12 21.86 0.83 4.62 0.75 0.41 0.88 13.82 0.88 4.69 1.03 11.21 0.53 2.44 0.85 1.46 0.56 1.12 1.01 6.2 0.87 3.12 1.16 3.29 0.69 1.17 1.25 7.69 1.3 2.23 1 5.57 1.19 0.82 0.7 6.87 0.61 10.27 0.84 35.53 0.94 6.85 1.4 10.92 1.26 6.62 1.28 11.24 1.33 1.04 0.81 2.43 1.25 3.86 0.52 15.73 1.24 0.65 0.83 8 1.02 0.83 1.33 7.96 0.67 7.88 0.67 8.58 1.05 13.74 0.09 6.46 1.08 15.57 0.89 7.17 0.75 0 0.6 9.13" transform="rotate(-90 105 257.5)"/><circle cx="105" cy="257.5" r="72.8" fill="none" stroke="#a0a0a0" stroke-width="4.4" pathLength="360" stroke-dasharray="0 8.61 1.11 7 1.25 7.09 0.24 2.41 0.99 10.65 1.25 46.98 0.81 9.73 1.15 6.26 0.51 3.09 1.46 2.07 0.81 4.98 0.7 3.53 0.67 2.98 1.15 16.25 1.49 1.03 1.32 17.05 0.72 0.58 1.14 0.93 1.37 20.58 1.31 1.62 0.5 5.57 0.9 3.12 0.41 28.34 0.74 24.11 1.23 22.95 1.44 2.11 1.45 4.71 1.16 2.67 0.92 11.2 1.3 0.85 1.34 13.69 1.29 5.87 1.01 22.31 1.36 5.54" transform="rotate(-90 105 257.5)"/><circle cx="105" cy="257.5" r="72.8" fill="none" stroke="#7c7c7c" stroke-width="4.4" pathLength="360" stroke-dasharray="0 45.76 1.43 13.31 0.63 14.24 0.59 48.28 1.41 10.4 0.71 27.33 0.56 6.33 1.45 11.67 1.27 21.62 0.76 12.76 1.26 22.94 1.14 14.5 1.36 17.03 1.45 20.51 1.06 35.56 1.48 22.21" transform="rotate(-90 105 257.5)"/><circle cx="105" cy="257.5" r="72.8" fill="none" stroke="#484848" stroke-width="4.4" pathLength="360" stroke-dasharray="0 38.05 1.31 9.02 0.51 7.78 0.51 12.83 0.89 0.9 0.7 1.05 1.23 16.96 1.43 21.16 0.82 44.39 1.42 13.98 0.95 18.6 1.4 4.75 1.19 21.55 1.29 25.19 0.79 1.17 1.18 4.84 0.23 11.79 1.21 1.66 0.67 43.82 0.98 2.83 1.07 23.44 1.12 14.36" transform="rotate(-90 105 257.5)"/><circle cx="105" cy="257.5" r="72.8" fill="none" stroke="#1a1a1a" stroke-width="4.4" pathLength="360" stroke-dasharray="0 31.21 1.38 21.65 1.37 10.32 0.66 16.78 1.37 72.61 1.22 19.67 0.82 7.5 0.63 4.74 0.96 15.99 0.84 26.59 0.62 59.91 1.21 0.72 1.31 60.91" transform="rotate(-90 105 257.5)"/><circle cx="105" cy="257.5" r="72.8" fill="none" stroke="#e5453d" stroke-width="4.4" pathLength="360" stroke-dasharray="0 12.55 1 22.15 1 26.46 1 17.04 1 19.18 1 22.07 1 18.87 1 15.58 1 16.33 1 13.91 1 15.34 1 12.55 1 12.57 1 11.19 1 10.83 1 14.12 1 8.88 1 8.01 1 10.1 1 7.73 1 6.23 1 7.32 1 9.46 1 8.81 1 9.73" transform="rotate(-90 105 257.5)"/><circle cx="105" cy="257.5" r="66" fill="none" stroke="#fbf6f6" stroke-width="4.8" pathLength="360" stroke-dasharray="0 0.7 24.6 0.8 26.3 0.8 22.75 0.8 18.75 0.8 20.85 0.8 19.6 0.8 17.15 0.8 16.3 0.8 15.3 0.8 13.9 0.8 14.5 0.8 15 0.8 11.45 0.8 10.5 0.8 12.2 0.8 10.8 0.8 9 0.8 8.5 0.8 8.2 0.8 7.8 0.8 7.4 0.8 7.5 0.8 11.05 0.8 10.8 1.7" transform="rotate(-90 105 257.5)"/><circle cx="105" cy="257.5" r="66" fill="none" stroke="#f7d5d5" stroke-width="4.8" pathLength="360" stroke-dasharray="0 2.02 3.16 20.04 0.08 10.72 2.83 0 1.44 3.84 2.22 10.31 0.77 3.31 2.71 0 1.59 0 1.72 10.59 1.72 13.29 2.79 2.51 2.6 2.86 3.95 3.25 2.93 0 3.36 4.2 1.59 0 1.9 0 3.91 3.88 1.51 0 2.06 0 1.87 0.8 2.29 15.66 3.51 0 2.85 0 2.39 3.27 3.97 0 0.31 0.8 3.86 0 0.65 3.52 1.77 0 2.74 6.54 1.06 10.65 1.45 0 1.05 0 3.11 9.69 3.56 3.76 2.94 0 1.49 0 1.3 4.64 2.8 1.72 3.16 2.69 0.71 7.72 2.06 2.12 2.01 0 3.81 0 1.92 0 1.62 4.19 0.89 0 3.75 2.15 2.14 1.4 2.12 0.62 3.1 3.36 2.7 12.55 2.25 0.8 4 0 0.99 0 0.82 1.15 0.84 0.8 3.97 4.23 0.65 0 3.44 1.01 2.41 0.8 1 2.23 3.5 0 3.35 0 0.96 0.8 2.3 0 3.51 6.69" transform="rotate(-90 105 257.5)"/><circle cx="105" cy="257.5" r="66" fill="none" stroke="#eb9696" stroke-width="4.8" pathLength="360" stroke-dasharray="0 0.7 1.32 3.16 3.08 0.65 1.31 7.16 2.06 0 1.56 0.75 3.46 7.04 3.76 10.33 3.9 0 2.14 0.8 2.08 0 0.74 1.42 3.31 21.55 2.66 2.24 1.12 0 1.27 0 2.78 2.79 0.34 22.45 2.88 7.4 3.88 10.3 1.92 3.3 2.77 14.66 3.27 17.63 2.75 0.8 2.99 3.06 2.05 3.13 2.68 14.08 1.22 13.84 1.15 1.6 1.89 2.8 0.65 5.48 0.63 1.51 2.14 4.66 0.93 15.86 1.87 4.64 2.15 2.94 0.6 5.84 1.13 33.1 2.75 0 0.68 4.89 1.01 23.36 2.5 1.7" transform="rotate(-90 105 257.5)"/><circle cx="105" cy="257.5" r="66" fill="none" stroke="#dc5a5a" stroke-width="4.8" pathLength="360" stroke-dasharray="0 76.75 0.61 39.27 0.52 33.25 2.75 207.86" transform="rotate(-90 105 257.5)"/><circle cx="105" cy="257.5" r="58.3" fill="none" stroke="#f5f5f5" stroke-width="6.6" pathLength="360" stroke-dasharray="0 0.7 24.6 0.8 26.3 0.8 22.75 0.8 18.75 0.8 20.85 0.8 19.6 0.8 17.15 0.8 16.3 0.8 15.3 0.8 13.9 0.8 14.5 0.8 15 0.8 11.45 0.8 10.5 0.8 12.2 0.8 10.8 0.8 9 0.8 8.5 0.8 8.2 0.8 7.8 0.8 7.4 0.8 7.5 0.8 11.05 0.8 10.8 1.7" transform="rotate(-90 105 257.5)"/><circle cx="105" cy="257.5" r="58.3" fill="none" stroke="#00008b" stroke-width="6.6" pathLength="360" stroke-dasharray="0 13 2 41 21 95 6 5 9 11 20 15 12 82 20 9" transform="rotate(-90 105 257.5)"/><circle cx="105" cy="257.5" r="58.3" fill="none" stroke="#4a4ac0" stroke-width="4.2" pathLength="360" stroke-dasharray="0 86.4 0.5 15.93 0.5 1.08 0.5 4.89 0.5 9.61 0.5 8.4 0.5 10.71 0.5 26.36 0.5 22.83 0.5 7.45 0.5 69.68 0.5 1.84 0.5 1.57 0.5 35.07 0.5 6.37 0.5 5.97 0.5 38.83" transform="rotate(-90 105 257.5)" stroke-opacity="0.8"/><path d="M150.7 227.8A54.5 54.5 0 0 1 158.1 245.2Q105 257.5 82.8 307.3A54.5 54.5 0 0 1 68.5 298Q105 257.5 150.7 227.8Z" fill="#5a5a5a" fill-opacity="0.8"/><path d="M153 231.8Q104.5 256.1 70.6 299.8M157.7 243.4Q104.7 260 71.7 300.6M150.8 228Q108.2 259.3 81.1 306.5M154.8 235.4Q106.4 256.7 73.9 302.2M152.1 230.1Q106.6 256.8 78.8 305.3M151.2 228.5Q101.9 260.4 81.8 306.8M152.9 231.5Q101.5 261.7 71.5 300.5M155.9 238.1Q103.9 259.7 79.2 305.5M154.4 234.5Q105.5 257.3 76 303.7M154.1 233.8Q108.3 255.1 71.9 300.8M154.2 234.1Q107 255.8 77.4 304.5M157.9 244.4Q105.5 254.3 80.9 306.4M158.1 245.1Q101.9 255.2 79 305.4M154.8 235.4Q104.5 256.4 80.9 306.4M152.3 230.5Q100 258.5 68.6 298.1M157.8 244.2Q105.3 260.9 80.6 306.2M152.4 230.7Q108.4 259.7 81.2 306.6M157.6 243.3Q103.9 258.5 70.2 299.5M155.4 236.8Q106.1 261.8 82.3 307.1M158.1 245Q105.4 260.2 77.2 304.4M157.7 243.5Q102.1 256.9 74.4 302.6M156.6 240Q103.9 259.5 78.3 305M154.9 235.7Q105.2 257.9 68.7 298.1M155.6 237.1Q106.1 257.1 68.9 298.3M158.1 245.2Q104.9 259 69.7 299M152.7 231Q103.7 257 75.5 303.4M155.2 236.2Q106.6 259.9 74.9 302.9M151.9 229.8Q105.4 258.5 75.9 303.6M155.7 237.5Q103.9 257.3 71 300.1M152.5 230.7Q103.5 256.9 70.2 299.5M154.3 234.2Q104.8 257.4 80.6 306.2M157 241.3Q101.9 261.6 79.8 305.8M151.3 228.8Q103 255.5 77.6 304.6M157.3 242.1Q101.7 258.4 70.9 300M153 231.7Q105.2 257.2 71.3 300.3M156.9 241Q105.8 258.3 77.5 304.5M153.3 232.2Q106.8 255.3 71 300.1M154 233.7Q105.2 258.3 78.6 305.2M154.8 235.5Q106.2 254.4 73.2 301.8M157.5 243Q104.9 254.7 74.3 302.5M156.2 238.9Q105.4 257.8 71.5 300.5M152.8 231.3Q104.3 257.8 76.8 304.1M156.3 239Q102.6 261 73.5 302M153.3 232.2Q106.5 257.3 77.7 304.7M152.7 231.1Q103.1 259.4 82 306.9M154.1 233.9Q103.4 255.5 74.4 302.6M158.1 245.2Q108.9 259.5 71.9 300.8M156.6 240Q107.4 254.5 71.6 300.5M153 231.7Q103.7 255.5 76.7 304.1M156.9 241Q104.4 255.7 76.3 303.8M153.9 233.4Q103.2 258.1 73.4 301.9M154.7 235.1Q104.1 259.2 77 304.3M155.6 237.3Q103 259.6 80.7 306.3M154.1 233.9Q104.5 259.7 71.3 300.3M154.8 235.4Q100.7 257.5 77.8 304.7M157.8 243.9Q105.9 254.8 81 306.4M155.2 236.2Q104.8 259.6 79.7 305.8M152.1 230Q109.2 254 70.2 299.4M151.5 229Q107.6 256.9 80.3 306.1M153.2 232.1Q102.3 255.7 72.2 301M157.5 243Q104.4 260.4 79.2 305.5M157.9 244.6Q103.2 256 74.8 302.9M150.9 228.2Q103.7 257.2 69.9 299.2M151.6 229.2Q106.5 254 76.2 303.8M157.2 241.8Q104.2 256.1 69.1 298.5M152.7 231.1Q103.6 257.7 74.3 302.5M157.9 244.3Q105.5 258.7 81.8 306.8M155.3 236.4Q105.3 258.9 72.2 301M156.6 240.1Q100.7 258 69.8 299.1M155.9 237.9Q104.8 258.9 75.6 303.4M154.2 234Q103.3 254.6 69.6 298.9M157.6 243.1Q104.5 258.7 70.5 299.7M150.9 228.2Q106.9 260.4 73 301.6M157.3 242.2Q105.9 256 80.4 306.1M155.3 236.5Q106.4 257.8 70.5 299.7M153.2 232Q106.8 256.2 70.7 299.8M151.8 229.7Q104.2 260.1 70.8 299.9M157.9 244.5Q103.2 255.5 71.6 300.6M155.3 236.5Q102 258.6 74.8 302.9M157.7 243.7Q105.3 260.4 82.4 307.1M157.3 242.3Q103.7 258.2 74.3 302.5M156.1 238.6Q105.1 261.2 82 306.9M155.4 236.7Q105.3 258.2 73.9 302.2M157.3 242.1Q102.3 257.3 80.9 306.4M154.5 234.7Q102.6 256.4 77.7 304.7M151.7 229.4Q104.2 254.9 77.6 304.6M153.3 232.3Q104.3 257.8 74.9 302.9M152.2 230.3Q104.1 256.1 71.3 300.3M154.4 234.5Q106.5 258 79.5 305.6M154 233.7Q107.9 259.5 76.8 304.1M154.8 235.3Q104.4 256.7 82.6 307.2M156.4 239.4Q103.1 257.2 76.1 303.7M157.4 242.6Q106.9 259.2 78.3 305M156.5 239.7Q101.8 257 79.3 305.6M151.9 229.7Q103.8 259.5 70.5 299.7M153.5 232.6Q103.4 256.2 71.4 300.4M153.9 233.4Q104.4 258.8 71.5 300.5M151 228.3Q107.4 254.8 70.2 299.4M158.1 245Q107.3 255.9 76.3 303.9M153.2 232.1Q104.2 259.1 77.4 304.5M153.3 232.3Q105.6 257.2 77.6 304.6M154.9 235.5Q105.1 257 71.7 300.6M157.2 241.9Q103.3 255.4 78 304.8M157.3 242.1Q105 256.3 69.6 298.9M153.5 232.7Q106.3 258.3 78.4 305.1M152.8 231.3Q102 254.8 68.8 298.3M157.9 244.5Q104.8 255.6 70.4 299.6M153.7 233.1Q106 256.1 76.5 304M155.2 236.4Q107.5 259 71.3 300.4M151 228.2Q103.6 254.8 78.9 305.4M158 244.7Q107.6 255.1 73.1 301.7M152.9 231.5Q108.2 258.2 68.9 298.3M154.5 234.6Q103.5 260.4 79.2 305.5M157.7 243.5Q106.3 256.2 75.7 303.5M157.4 242.7Q104.3 255.7 69.3 298.7M153.4 232.4Q106.4 254.1 80.7 306.3M152.9 231.4Q108.2 255.5 80.6 306.2M155.2 236.4Q105.5 256.1 82.6 307.2M155.2 236.4Q106.7 255.3 80 305.9M150.9 228.1Q105.4 260.9 72.9 301.5M153.2 232.1Q103.9 256 74.8 302.9M151.9 229.7Q108.4 259 77.1 304.3M153.6 232.9Q102.9 257.9 82.7 307.2M156.3 239.1Q105.1 257.6 76 303.6M158 244.8Q103.9 258.4 74.1 302.4M156.6 239.9Q103.9 256.7 71 300.1M153.6 232.9Q102.7 259.3 70.4 299.6M150.9 228.1Q107.8 254.7 74.1 302.4M157.3 242.3Q103.8 259.5 77.1 304.3M154.5 234.7Q101.3 260.2 73.5 302M158 244.7Q103.2 253.6 76.2 303.8M157.9 244.5Q104.9 257.7 76 303.6M151.2 228.6Q106.5 259.1 75.4 303.3M157.4 242.6Q100.2 257.2 78.1 304.9M154.8 235.4Q106.6 257 71.1 300.1M153.1 231.8Q103.5 257.6 71.7 300.6M153.6 232.8Q103.2 259.9 73.1 301.7M153.4 232.5Q103.6 260.9 78.7 305.2M152.5 230.8Q107.5 259.1 80.4 306.1M157.5 242.9Q108 257.2 78.8 305.3M154.9 235.6Q106.5 255.3 76 303.6M156.7 240.2Q101.6 256.2 80.1 306M153.5 232.7Q104.9 258.7 78.3 305M153.9 233.3Q107.1 257.7 79 305.4M154.4 234.5Q104.3 262.2 73.6 302.1M152.2 230.3Q106.9 258.6 75.6 303.4M154 233.7Q105.4 259.4 76.1 303.7M156.3 239.1Q104.9 258.5 78.3 305M154.4 234.5Q104 255.4 79.5 305.7M152.9 231.5Q107.4 257.2 73.2 301.8M154.9 235.5Q97.8 254.3 73.8 302.2M155.4 236.7Q103.2 255.5 81.8 306.8M154.6 234.8Q105.7 255.4 73.3 301.8M153.3 232.2Q102.8 259.2 82.1 306.9M151 228.2Q103.6 256.6 69.4 298.8M155.2 236.2Q103.2 257.1 72.4 301.2M157.4 242.4Q107 257.4 71.9 300.8M155.8 237.7Q103.2 260.7 81.3 306.6M157.8 243.8Q105.6 259.1 70.3 299.5M156.3 239.2Q105 258.7 69.7 299M153.6 232.8Q105.3 258.4 77.7 304.7M153.1 231.9Q105.7 253.9 70 299.3M155.7 237.5Q103.5 258.4 74.8 302.9M152.6 230.9Q103 257.1 82.5 307.1M154.2 234Q106 257.7 69.4 298.7M157 241.1Q102.9 255.7 75.9 303.6M157 241.3Q106.1 254.7 70.3 299.5M155.7 237.6Q104 255.2 80 305.9M156.9 240.9Q108.8 255.6 81 306.4M151.9 229.8Q105.5 257.2 69.6 298.9" fill="none" stroke="#5a5a5a" stroke-width="1.0" stroke-opacity="0.5"/><path d="M153.6 232.8Q142.2 238.5 131.7 245.4M90.6 282.2Q82.3 291.9 75 303M156.5 239.6Q148.6 242.3 141.1 245.6M80 286.4Q74.2 292.1 68.8 298.3M157 241.1Q146.8 244.2 137.1 248.4M85.9 283.5Q78.1 291.1 70.9 300M154.7 235.2Q146.2 239 138.4 243.7M90.9 289.6Q85.7 297.6 81.2 306.5" fill="none" stroke="#2e8b57" stroke-width="0.6" stroke-opacity="0.85"/><path d="M157 241.3Q145.2 245.2 134.8 250.6M93.6 286.5Q87 295.9 81.8 306.8M156.4 239.5Q146.8 243 137.5 247.5M86.1 283.2Q78 290.8 70.2 299.4M156.8 240.6Q148.7 243.4 141 246.9M86.1 289.4Q80.6 296 75.6 303.4M156.9 240.8Q146.2 243.9 136.6 248.8M94.3 286.7Q87.9 296.1 82.6 307.2M157.8 244Q150.5 246 143.4 248.7M81.4 288.2Q75.8 293.6 70.5 299.7M155.9 238.1Q144.4 241.5 133.7 246.9M90.2 280.8Q81.5 290.5 73.6 302.1M152 230Q140.8 236.4 130.7 243.5M86.2 282.8Q78.6 291.5 71.9 300.8M155.7 237.5Q145.1 242 135.5 247.9M92.5 286.2Q85.4 295.2 79.3 305.6M157.6 243.2Q148.6 245.6 140.1 248.8M81.4 285.5Q75.1 291.7 69.2 298.6M151.7 229.4Q141.1 235.5 131.5 242.9M93.4 283.2Q86 293.8 79.6 305.7M156.6 240Q144.3 244.6 133.6 250.2M88.3 286.7Q81.8 295 76.9 304.2M156.9 240.9Q145.7 244.6 135.6 249.9M92.8 285.8Q85.7 295 79.6 305.7M155.6 237.2Q145.1 240.9 135.6 245.7M87.8 285.1Q81 293.5 75.3 303.2M151.4 228.9Q143 234 135.1 239.4M80.9 285.5Q74.8 291.9 69.3 298.7M157.1 241.6Q145.8 246 135.6 251.5M90.2 287.5Q83.3 295.6 77.6 304.6" fill="none" stroke="#2f7fd0" stroke-width="0.6" stroke-opacity="0.85"/><path d="M153.8 233.2Q147.2 236.6 140.9 240.5M84.5 290.7Q79.7 296.7 75.2 303.1M153 231.6Q141.9 237.9 131.6 244.9M87.1 282Q78.6 290.6 70.9 300" fill="none" stroke="#3aa0a0" stroke-width="0.6" stroke-opacity="0.85"/><path d="M156.3 239.2Q145 243.5 134.7 249M90.5 285.2Q83.1 294 76.8 304.2M151.6 229.2Q142.8 234.5 134.5 240.3M85.5 286.2Q79.3 293.9 73.8 302.2M151.6 229.2Q140 237 129.7 246M96.5 283.6Q88.8 294.8 82.5 307.1M156.3 239.1Q146.3 242.5 137.1 246.7M83.9 284.8Q77.1 292.1 71.1 300.2M153.7 233.1Q143 238.2 133.4 244.3M89.3 285.8Q82.9 294.7 77.7 304.7M150.8 227.9Q143.6 232 136.7 236.6M82.7 287.5Q77.5 294.2 72.7 301.4M151.4 228.8Q143.2 234.4 135.3 240.2M82.7 284.1Q75.6 290.9 68.6 298" fill="none" stroke="#e07050" stroke-width="0.6" stroke-opacity="0.85"/><path d="M153.9 233.4Q143.8 238 134.3 243.5M84.6 282.4Q76.9 290.3 69.8 299.1M156.3 239.2Q142.7 244 131.3 250.7M95 284.2Q87.8 294.7 82.7 307.2" fill="none" stroke="#8a6a3a" stroke-width="0.6" stroke-opacity="0.85"/><path d="M150.7 227.8A54.5 54.5 0 0 1 156.2 238.9Q105 257.5 81.1 208.5A54.5 54.5 0 0 1 95.5 203.8Q105 257.5 150.7 227.8Z" fill="#5a5a5a" fill-opacity="0.8"/><path d="M154.8 235.4Q104.9 261.6 93.2 204.3M151.3 228.8Q103.2 255.7 93 204.3M154.6 235Q105.4 259.3 88.8 205.5M151.3 228.7Q106.1 256.4 86.4 206.3M156.1 238.6Q102.1 258.3 90.2 205.1M154 233.5Q105.8 262.1 94.9 203.9M154.3 234.3Q105.1 257.3 90.1 205.1M155.8 237.9Q104.3 258.5 82.3 207.9M152 229.9Q107.3 255.3 83.1 207.6M153.3 232.2Q102.8 259.4 94.4 204M150.8 228Q103.7 257.7 85.1 206.8M155.3 236.4Q106 256.9 86.6 206.2M153.9 233.5Q103.3 258.3 91.4 204.7M152.3 230.4Q106.3 260.1 84.2 207.1M155.2 236.2Q106.7 256.5 81.6 208.3M151.1 228.4Q108.6 258.8 84.8 206.9M154.5 234.8Q105.9 258.3 83.2 207.6M154.1 233.8Q108.5 255.7 89 205.4M151.2 228.6Q103.1 256.7 88.7 205.5M151.1 228.5Q106.8 261.9 85.8 206.5M155.6 237.2Q103.7 261.8 86.8 206.1M154.4 234.5Q103.2 257.6 94.1 204.1M153.4 232.4Q104.8 258.4 81.3 208.4M153.2 232Q103 255.9 91.5 204.7M153.2 232.1Q101.9 256.4 94.7 204M154.1 233.8Q102.9 259.3 94.7 204M153.3 232.2Q103.6 257 91.6 204.7M154.5 234.8Q104.5 258.2 91.1 204.8M152.2 230.3Q106.4 257.7 92.9 204.3M155.5 236.9Q104 258.2 82.7 207.8M155.8 237.7Q103.8 262.1 84.9 206.8M156 238.2Q104.3 260.3 92.1 204.6M151.3 228.8Q105.7 253.7 89.1 205.4M151.7 229.4Q102.5 258.4 82.8 207.7M150.9 228.1Q100.9 259.6 84.9 206.8M153.1 231.8Q104.3 258.3 82.8 207.7M156.2 238.7Q102.6 256.5 82.2 208M153.7 233.1Q104.8 255 82.9 207.7M152.8 231.4Q104.1 255.3 89.1 205.4M155.8 237.8Q103.6 258.8 82 208.1M156.1 238.5Q106.4 257.1 85.6 206.6M154.4 234.4Q101.2 259.7 83.6 207.4M155.9 238Q103.1 257.7 90 205.1M155.9 238Q104.1 255.7 90.8 204.9M153.4 232.4Q106.5 258.4 91.4 204.7M155.1 236Q102.4 258.2 83.1 207.6M153.2 232.2Q104.6 259 95.2 203.9M155.7 237.6Q102.5 258.2 93.1 204.3M154.2 234.1Q102.5 258.6 93.3 204.3M156.2 238.8Q104.1 254.8 88.8 205.5M151 228.3Q103.4 258.2 81.6 208.3M151.6 229.2Q104.4 255.3 84.5 207M155.3 236.5Q106.6 254.4 90.5 205M155.5 236.9Q105.7 260.5 91.4 204.7M152.1 230.1Q103.1 256.2 91.5 204.7M154.1 233.8Q108.5 257 83.9 207.2M153.9 233.5Q105 258.1 94.8 204M154 233.6Q104.7 260.2 82.2 208M155.3 236.4Q105.8 257.4 82.9 207.7M151.9 229.8Q104.4 257.7 94.4 204M154.9 235.5Q102.7 262 88 205.7M155 235.8Q105.5 256 88 205.7M151.8 229.6Q104.5 257.5 89.1 205.4M153 231.7Q103.9 257.3 91.9 204.6M152.2 230.3Q105.1 259.1 92.9 204.4M151.6 229.3Q103.8 255.4 85.4 206.6M153.9 233.4Q105.9 260 93.2 204.3M153.1 231.9Q103.6 257.1 93.2 204.3M155.5 237Q106.5 256.4 89.5 205.2M151.6 229.3Q110.7 256.3 86.1 206.4M153.1 231.9Q103.1 253.2 93.6 204.2M152.7 231.2Q102.2 259.4 82.3 208M154 233.7Q103.5 257.6 87.1 206M152.8 231.4Q105.9 256.6 85.4 206.6M156.1 238.5Q106.9 256.4 89.2 205.3M156.1 238.6Q107.3 258.3 87 206.1M155.3 236.4Q105.4 256 94.2 204.1M154.6 234.9Q105.8 252.9 85.4 206.6M155.9 238.1Q104.9 256.3 91.9 204.6M153.9 233.5Q106.3 254.9 92.6 204.4M155.4 236.7Q105.6 257.3 84.6 207M150.9 228.1Q106.5 259 93.5 204.2M155.6 237.2Q103.8 256.4 94.4 204M152.9 231.5Q105.8 255.1 81.2 208.5M151 228.3Q105.6 260.8 81.3 208.4M153.4 232.4Q104 256.6 82.5 207.9M154.1 233.9Q106.5 256.3 81.5 208.3M152.6 231Q102.2 257 85 206.8M153.1 232Q109.7 255.4 83.8 207.3M154.4 234.5Q104.5 258.1 83.4 207.5M154.1 233.9Q104.1 259.5 95 203.9M156 238.3Q108.3 254.7 83.7 207.3M152.8 231.4Q105.9 257.9 93.4 204.3M154.2 234.1Q107.2 258.9 81.7 208.2M154.7 235.2Q104 257.4 92.1 204.5M152.7 231.2Q102 261 81.1 208.5M153.1 231.9Q104.3 254.1 87.9 205.8M153.9 233.5Q106.8 257.7 89.9 205.1M155.6 237.3Q108 259.3 93.3 204.3M155.4 236.7Q101.9 263.9 88 205.7M155.6 237.4Q103.4 257.5 81.6 208.3M154 233.6Q105.7 258.7 92.6 204.4M155.6 237.2Q102.7 256.8 84.3 207.1M152 229.9Q105.1 257.9 89.6 205.2M153.8 233.2Q104.7 253 84.4 207M156 238.2Q105.1 256.7 86.8 206.1M154.6 235Q104.6 255.8 83.4 207.5M153.5 232.6Q102.3 256.7 90.3 205M156 238.4Q106 259 81.5 208.3M153.8 233.3Q105.2 258.3 92.2 204.5M153.7 233.1Q105.3 259.6 85.6 206.6M151.1 228.4Q103.2 257.7 91.7 204.6M154.7 235Q105.8 259.1 85.9 206.5M151.8 229.6Q106 256 85.7 206.5M153.4 232.4Q106.9 258.2 84.3 207.1M152.6 230.9Q102 260.5 86.2 206.4M155.4 236.8Q105.1 259.4 87.7 205.8M153.4 232.5Q101.3 255.5 81.6 208.3M151.8 229.6Q103.8 258.8 85.2 206.7M151.9 229.8Q101.1 256.7 87.3 206M153.3 232.3Q103.3 260.8 85.5 206.6M150.8 227.9Q106.2 258.8 83 207.6M154.7 235.2Q107.7 258 89.9 205.1M151.6 229.2Q103.6 259.6 85.3 206.7M152 229.9Q103.1 256 91.8 204.6M152.7 231.2Q105 255.1 92 204.6M152.7 231.2Q104.2 259.6 84.2 207.1M155.2 236.3Q110.4 256.4 91.5 204.7M152.9 231.6Q103.5 258.6 93.3 204.3M153.4 232.4Q104.5 259.4 85.4 206.6M155.7 237.5Q104.7 254.6 81.5 208.3M155.7 237.5Q102 256.7 88.2 205.6M154.1 233.8Q105.9 255.9 87.3 206M155.2 236.3Q107.2 259.1 87.5 205.9M151.8 229.6Q108.8 256.3 90.5 205M155.6 237.2Q109.6 258.6 95.3 203.9M155.5 237.1Q108.5 258.6 82.6 207.8M153.7 233Q101.4 257.6 84 207.2M155.9 238.1Q106.2 254.9 86.3 206.3M152.9 231.5Q105.6 254.6 94.1 204.1M152.8 231.2Q105.4 257.9 92.5 204.4M152.8 231.4Q102.8 251.3 89.6 205.2M154.8 235.3Q106.5 258.5 87 206.1M153 231.7Q100 257.7 94.7 204M155.1 236Q106 259.2 82 208.1M154.1 233.9Q106.5 257.5 92.4 204.5M155.9 238.1Q107.1 255.7 95.5 203.8M152.5 230.7Q106 259 86.9 206.1M151.9 229.7Q101.8 257.4 81.9 208.1M151.3 228.7Q103.7 258.8 90.3 205" fill="none" stroke="#5a5a5a" stroke-width="1.0" stroke-opacity="0.5"/><path d="M154.9 235.6Q143.7 240 134.2 241M97.3 224.4Q92 216.7 88.4 205.6M150.9 228.1Q142.1 234 134.6 236.6M99.6 222.3Q95.5 215 92.7 204.4M156 238.2Q143.1 243.1 132.1 243.9M94.4 228.4Q87.4 220.3 82.3 207.9M155.3 236.4Q148.4 239.1 142 240.5M90.4 219.8Q86.5 214.4 83.2 207.6M150.7 227.9Q140.1 234.4 130.9 236.9M94.3 225.8Q88.2 218.6 83.4 207.5M152 229.9Q145.1 234.5 139 237.2M98.2 218.5Q96.3 212.1 95.2 203.9" fill="none" stroke="#8a6a3a" stroke-width="0.6" stroke-opacity="0.85"/><path d="M150.9 228.1Q144.4 232.4 138.4 235.1M88.8 221Q85 215.5 81.6 208.3M153.8 233.3Q145.4 237 138.1 238.6M100.4 219.5Q97.4 212.8 95.5 203.8M154.9 235.7Q145.5 239.3 137.4 240.5M96.3 221.5Q92.2 214.6 89.3 205.3M152.1 230.1Q143.9 234.1 136.6 236.1M92.2 220.4Q88.5 214.4 85.7 206.5M151.4 228.9Q143 234.1 135.6 236.8M92.6 222.3Q88.5 215.7 85.4 206.7M153.5 232.7Q141.6 239.3 131.8 240.9M100.7 226.6Q95.4 218 92.3 204.5M152.3 230.5Q142 235.8 133.4 237.8M100.1 222.3Q96.6 214.8 95 203.9M156.1 238.5Q146.2 241.6 137.5 242.5M90.5 223.6Q85.3 217.1 81.2 208.5M156.2 238.8Q145 243.2 135.1 244.2M93.3 227.1Q86.7 219.4 81.5 208.3M154.7 235.2Q146.9 238.8 139.9 240.5M95.7 220.4Q92.1 213.8 89.3 205.3M154.6 234.9Q147 238.4 140.2 240.1M97.9 218.3Q95.8 212 94.6 204" fill="none" stroke="#2f7fd0" stroke-width="0.6" stroke-opacity="0.85"/><path d="M155.4 236.9Q146.6 240.7 139 242.2M100 221Q96.8 213.7 94.8 204M155.4 236.7Q144.6 241.4 135 242.5M96 226.3Q89.4 218.6 84.1 207.2M155.6 237.3Q147 240.3 139.4 241.3M97.6 219.6Q94.5 213 92.5 204.5M151.3 228.7Q140.8 234.7 131.8 237M94.6 224.7Q89.1 217.5 85.1 206.8M153.3 232.2Q144.5 236.6 136.6 238.4M94.8 222.2Q90.2 215.5 86.4 206.3" fill="none" stroke="#2e8b57" stroke-width="0.6" stroke-opacity="0.85"/><path d="M155.4 236.8Q143.3 241.6 133.5 242.2M101.8 225.3Q96.8 216.9 94 204.1M156.2 238.7Q146.4 242.9 137.9 244.1M98.7 223.2Q94.7 215.3 92.1 204.5M153.9 233.5Q144.2 238.3 135.6 240M97.5 223.5Q92.6 216 89 205.4M155.2 236.4Q143.9 241.3 133.9 242.4M95.3 227.1Q88.4 219.3 82.9 207.7" fill="none" stroke="#3aa0a0" stroke-width="0.6" stroke-opacity="0.85"/><path d="M155.8 237.8Q144.1 243 134.3 244.2M96.9 226.6Q91.4 218.1 87.8 205.8M155.2 236.2Q145.5 240.4 137.4 241.9M99.2 221.8Q96 214.3 94.2 204.1M154.7 235.1Q143.6 240.2 133.9 241.8M93.1 226.9Q86.6 219.4 81.5 208.3M153.8 233.3Q143.7 238.3 135 239.9M98 223.8Q93 216.2 89.5 205.3" fill="none" stroke="#e07050" stroke-width="0.6" stroke-opacity="0.85"/><path d="M81.1 208.5A54.5 54.5 0 0 1 95.5 203.8Q105 257.5 82 306.9A54.5 54.5 0 0 1 68.5 298Q105 257.5 81.1 208.5Z" fill="#5a5a5a" fill-opacity="0.8"/><path d="M87.3 206Q104 255.1 74.7 302.8M94.9 203.9Q106.1 257.4 73.3 301.8M95 203.9Q105.6 258.6 79.4 305.6M93.8 204.2Q105.3 255.4 70.2 299.5M82.2 208Q107.9 254.7 75.1 303.1M84.6 206.9Q110.1 259.8 72.9 301.5M89.4 205.3Q106.9 256.5 80.5 306.2M91.8 204.6Q103.4 255.2 77.7 304.7M87.6 205.9Q107.6 259.2 72 300.9M86.3 206.3Q104.8 258 80.4 306.1M86.4 206.3Q106.7 254.3 75.2 303.1M88 205.7Q107 260.4 75.2 303.2M92.1 204.5Q104 260.2 73.9 302.3M86 206.4Q108.1 256.6 81.9 306.9M90.8 204.9Q104.3 257 72 300.9M95.2 203.9Q106 258.7 80.4 306.1M82.3 208Q105.3 259.5 73.2 301.8M94 204.1Q105.5 258.9 68.6 298.1M94.8 204Q101.9 259.1 70.7 299.8M85.9 206.4Q103.4 255.7 78.1 304.9M84.6 207Q105.4 256.7 73.4 301.9M85.5 206.6Q102.5 257.9 70.4 299.6M94.6 204Q107.9 262 81.5 306.7M84.8 206.9Q102.7 260 72.1 300.9M87.7 205.8Q109.5 257.7 69.4 298.8M95 203.9Q106.2 259.9 77.6 304.6M85.6 206.6Q103.7 254.4 72.2 301M86.6 206.2Q106.3 258.1 77.4 304.5M86.5 206.2Q104.9 259.4 72.3 301.1M91.5 204.7Q108.8 256.9 71.4 300.4M89 205.4Q104.9 259.1 70.3 299.5M89.3 205.3Q102.7 257.9 78.6 305.2M81.2 208.5Q101.9 257.4 72.2 301M85.5 206.6Q105.8 258.3 70.2 299.5M83.3 207.5Q106.3 255.3 71.7 300.6M89.2 205.3Q105.1 257 79.1 305.4M86.5 206.2Q102.6 257.4 73.4 301.9M85.2 206.7Q103.8 257.6 69.5 298.8M81.9 208.1Q104.5 257.2 75.9 303.6M85.1 206.8Q103.1 259.2 79.6 305.7M92.5 204.4Q104.7 257.3 79.5 305.7M94.1 204.1Q106.7 259 76.5 304M94.8 204Q103.9 259.7 79 305.4M91.7 204.7Q106.2 260.8 74.1 302.4M95.5 203.8Q104 255.5 70.7 299.8M86.5 206.2Q105.5 256.4 74.2 302.5M85.1 206.7Q102.6 252.9 72.6 301.3M84.6 207Q104.3 261.9 73.8 302.2M90.7 204.9Q104.7 254.8 80.7 306.3M88.3 205.6Q104.6 253.6 73.6 302.1M91 204.8Q101.9 256.7 79.5 305.7M94.6 204Q107.7 259.5 76.7 304.1M92.7 204.4Q104.8 260.3 74.7 302.8M81.7 208.2Q103.9 259.9 76.1 303.7M82.6 207.8Q107.1 260.3 75.2 303.1M92.6 204.4Q107.1 260 76.7 304.1M89.5 205.2Q104.9 261.5 74.1 302.4M90.1 205.1Q105.1 257.2 78.5 305.2M84.9 206.8Q106.1 254.8 71.7 300.6M86.4 206.3Q103.8 257.3 74.6 302.7M87.1 206Q102.9 254.8 69.8 299.1M81.9 208.1Q107 258 71.2 300.3M85.6 206.6Q103 256.9 76.2 303.8M83.2 207.6Q105.1 259.7 71.2 300.2M81.6 208.3Q105.6 257.6 70 299.2M81.3 208.4Q103.3 257.2 81.3 306.6M88.8 205.5Q103.9 256.1 69.4 298.7M90.5 205Q101.7 258.2 76.3 303.8M94.3 204.1Q106.9 255.2 79.4 305.6M90 205.1Q105.8 258.4 72 300.9M94.5 204Q106 254.4 80.2 306M88.3 205.6Q105.7 259.7 78 304.8M94.5 204Q108.7 255.5 81.4 306.6M82.4 207.9Q104.1 257.8 81.5 306.7M90.5 205Q105 257.3 78 304.8M82.2 208Q106 256.5 79.7 305.8M93.1 204.3Q101.7 255.7 75.3 303.2M86.6 206.2Q103.8 259.5 72.1 300.9M82.6 207.8Q101.9 259.4 71.7 300.6M84.6 207Q106 256.7 76.1 303.7M94.1 204.1Q102.7 259.4 80.6 306.2M92.7 204.4Q107.4 254.7 73.1 301.7M84.5 207Q104.2 258.6 73.6 302M87 206.1Q103.1 258.3 69.1 298.5M91.4 204.7Q103.5 258.3 74.5 302.7M87.5 205.9Q104.2 258.8 79.3 305.6M87.8 205.8Q106.3 257 77.4 304.5M81.6 208.3Q105.1 256.9 73.4 301.9M83.5 207.4Q104.2 259.5 69.3 298.7M93.7 204.2Q107.6 261.4 78.6 305.2M92.3 204.5Q105.2 259.9 80.8 306.3M88.3 205.6Q104.8 253.5 74.4 302.6M88.5 205.5Q106.3 254.1 76.5 303.9M94.3 204.1Q106.5 259 81.9 306.9M82.4 207.9Q104.2 255.9 78.2 305M84.8 206.9Q109.1 258.6 72.8 301.5M87 206.1Q105.1 254.9 73.7 302.1M81.8 208.2Q105 259.1 79.6 305.7M91.2 204.8Q105.1 258.9 68.9 298.3M83.1 207.6Q104.5 259.5 69.9 299.2M92.2 204.5Q102.9 256.6 71.5 300.5M84.9 206.9Q104.7 255.9 68.8 298.2M90.3 205Q104.5 257.4 72.4 301.2M83.6 207.4Q105.6 258.7 72.4 301.2M87.4 205.9Q103.4 256.6 78.5 305.1M95.3 203.9Q107.1 257.2 76.4 303.9M85.3 206.7Q107.2 256.3 79.7 305.8M89.2 205.3Q106.9 256.7 79.2 305.5M88.9 205.4Q106.4 258.3 77.3 304.5M86.7 206.1Q100.6 254 71.6 300.5M92.9 204.4Q107.5 259.5 70.2 299.5M90 205.1Q106.9 257 68.7 298.2M87.8 205.8Q107 258.1 76.5 304M87.5 205.9Q104.7 259.2 69.6 298.9M94.2 204.1Q102.4 257.3 78.9 305.4M87.6 205.8Q105.4 259.6 77.7 304.7M86.3 206.3Q106.8 258.5 74.9 302.9M93.1 204.3Q102.9 258.4 75.2 303.1M90.6 204.9Q104.9 256.9 73.1 301.7M88.6 205.5Q103.3 255.8 79.3 305.5M91.3 204.7Q104.8 262.2 80.2 306M94.1 204.1Q105.4 258 77.7 304.7M93.8 204.2Q106.6 255 71.6 300.6M85.9 206.4Q107.9 261.3 78.7 305.2M85.7 206.5Q107.3 252.7 72 300.9M94.2 204.1Q102.9 258.4 81.3 306.6M85 206.8Q103.1 256.3 69.5 298.9M94.9 203.9Q100.4 257.5 74.1 302.4M93.4 204.3Q105.7 259.2 74.4 302.6M89.6 205.2Q105.9 259.2 76.8 304.1M87.1 206Q106.8 258.6 73.2 301.7M89.5 205.3Q107.2 258.9 74.8 302.9M92.2 204.5Q105 257.3 79.5 305.7M82.3 208Q106.8 260.6 70 299.3M84.7 206.9Q104.3 257 77.7 304.6M94.3 204.1Q108.2 251.8 68.9 298.3M87.5 205.9Q107.3 259.4 74.9 302.9M94.6 204Q104.9 259.2 76.7 304.1M92.3 204.5Q105.4 257.2 73 301.6M87 206.1Q104.1 259.6 76.8 304.2M91.8 204.6Q105.5 258.5 81.7 306.8M82.4 207.9Q103.3 258.8 78.4 305.1M90.2 205Q101.3 257.3 77.2 304.4M87.9 205.8Q106.7 255.8 74.5 302.7M94.9 204Q105.2 259.1 76.6 304M90 205.1Q104.9 255.6 79.8 305.8M89.6 205.2Q102.2 256.9 72.1 300.9M84.7 206.9Q108.3 257.1 68.7 298.2M88.6 205.5Q102.9 259.9 75.2 303.2M87.3 206Q102.1 257.8 71.1 300.2" fill="none" stroke="#5a5a5a" stroke-width="1.0" stroke-opacity="0.5"/><path d="M81.8 208.2Q86.7 218.5 89.4 228.7M86.9 285.1Q83.3 294.9 77.5 304.6M88.6 205.5Q91.9 218.8 92.8 231.3M84.9 281.2Q80.4 291.9 73.3 301.9M85.8 206.5Q88.7 215.4 90.3 224.2M83.5 287.4Q80 295.4 75.3 303.2M82.9 207.7Q86.7 218 88.4 228M81 282Q76.6 290.9 70.2 299.4M85.6 206.6Q91.1 219.2 93.2 231.3M86.7 279.2Q81.5 290.5 72.8 301.4M88.1 205.7Q90.6 214.2 91.9 222.4M79.8 286.1Q75.7 293 70.3 299.5M85.3 206.7Q89.1 215.1 91.3 223.3M82.6 287.1Q78.2 294.3 72.4 301.1M86.9 206.1Q90.8 216.8 92.4 227.2M83.2 282.1Q78.3 291.3 71.1 300.1" fill="none" stroke="#2f7fd0" stroke-width="0.6" stroke-opacity="0.85"/><path d="M95.3 203.9Q96.7 215.5 96.1 226.7M81.4 278.6Q76 288.6 68.6 298.1M85.4 206.7Q91.3 219.5 93.5 232M88.5 279.4Q83.7 291.4 75.2 303.2M89.2 205.3Q93.3 218.3 94.8 231.1M90.7 281.9Q87.2 294.3 81.1 306.5M93.3 204.3Q94.8 213.7 95.2 222.8M82 287.9Q78.3 295.2 73.5 302M81.9 208.1Q88.3 221.2 90.7 233.6M85.3 278Q80.1 289.2 70.8 299.9M82.6 207.8Q87.2 217.3 89.6 226.5M82.9 284.5Q78.3 292.7 71.7 300.7M93.6 204.2Q95.6 213.8 96.2 223.1M82.7 284.9Q78.3 293.2 72.4 301.2M90 205.1Q92.7 213.1 94 220.9M80.8 286.7Q76.5 293.5 70.9 300" fill="none" stroke="#e07050" stroke-width="0.6" stroke-opacity="0.85"/><path d="M89.8 205.2Q94.1 218.4 95 230.8M84.6 277.9Q78.5 288.6 69.1 298.5M83.9 207.2Q88.4 219.6 90.1 231.6M84.9 279.6Q80.7 291 73.6 302M84.5 207Q87.8 215.5 90 223.9M88.3 291.1Q85.7 299 82 306.9M88 205.7Q92.2 217.5 93.8 229.2M88 282.3Q83.9 293.5 77.3 304.4" fill="none" stroke="#8a6a3a" stroke-width="0.6" stroke-opacity="0.85"/><path d="M89 205.4Q91.9 212.8 93.6 220.4M87.7 290.1Q84.6 298.1 80.4 306.1M83.3 207.5Q87.1 216.4 89.4 225.2M84.6 287.4Q81 295.5 75.8 303.5M86 206.4Q88.9 215.2 90.4 223.8M81 285.7Q77.1 293.3 71.7 300.7M81.3 208.4Q85 216.8 87.4 225.3M87.7 290.2Q85.3 298.5 81.7 306.8M81.6 208.3Q86.9 220.5 89.6 232.7M89.3 282.2Q86.5 294.3 81.1 306.5" fill="none" stroke="#3aa0a0" stroke-width="0.6" stroke-opacity="0.85"/><path d="M81.1 208.5Q85.7 216.3 88.6 224.2M86.3 286.9Q82.7 295.6 77.4 304.5M87.9 205.7Q90.9 213.1 92.8 220.5M83.5 289Q79.7 296 74.8 302.8M81.6 208.3Q86.3 219.5 88.6 230.6M86.6 283.2Q83.4 294.1 78 304.8M87.9 205.8Q92.5 217.4 94.7 228.8M90.8 284.4Q87 295.5 80.8 306.3M88.8 205.5Q90.9 213.1 92 220.7M81.8 288.8Q78.5 295.7 74.3 302.5" fill="none" stroke="#2e8b57" stroke-width="0.6" stroke-opacity="0.85"/><line x1="51.2" y1="252.8" x2="85" y2="257.8" stroke="#f07a60" stroke-width="0.8" stroke-opacity="0.85"/><line x1="52.2" y1="246.3" x2="82" y2="250.5" stroke="#f07a60" stroke-width="0.8" stroke-opacity="0.85"/><line x1="54.3" y1="239" x2="78.1" y2="249.8" stroke="#f07a60" stroke-width="0.8" stroke-opacity="0.85"/><line x1="56.5" y1="233.8" x2="86.8" y2="245.2" stroke="#f07a60" stroke-width="0.8" stroke-opacity="0.85"/><line x1="58.2" y1="230.5" x2="77.2" y2="246.3" stroke="#f07a60" stroke-width="0.8" stroke-opacity="0.85"/><line x1="61.3" y1="225.8" x2="85.1" y2="240.8" stroke="#f07a60" stroke-width="0.8" stroke-opacity="0.85"/><line x1="64.9" y1="221.4" x2="89.7" y2="244.6" stroke="#f07a60" stroke-width="0.8" stroke-opacity="0.85"/><line x1="68.9" y1="217.4" x2="85" y2="230" stroke="#f07a60" stroke-width="0.8" stroke-opacity="0.85"/><line x1="71.8" y1="214.9" x2="85.9" y2="237" stroke="#f07a60" stroke-width="0.8" stroke-opacity="0.85"/><line x1="52.2" y1="268.7" x2="79.1" y2="260.2" stroke="#f07a60" stroke-width="0.8" stroke-opacity="0.85"/><line x1="132" y1="304.3" x2="116.8" y2="282.9" stroke="#f07a60" stroke-width="0.8" stroke-opacity="0.85"/><line x1="123.5" y1="308.2" x2="116.4" y2="280.9" stroke="#f07a60" stroke-width="0.8" stroke-opacity="0.85"/><line x1="112.5" y1="311" x2="106.5" y2="279.4" stroke="#f07a60" stroke-width="0.8" stroke-opacity="0.85"/><line x1="100.3" y1="311.3" x2="102.4" y2="287.4" stroke="#f07a60" stroke-width="0.8" stroke-opacity="0.85"/><line x1="91" y1="309.7" x2="100.8" y2="281.1" stroke="#f07a60" stroke-width="0.8" stroke-opacity="0.85"/><line x1="139.7" y1="298.9" x2="117.7" y2="277.9" stroke="#f07a60" stroke-width="0.8" stroke-opacity="0.85"/><line x1="123.5" y1="206.8" x2="111.3" y2="232.3" stroke="#f07a60" stroke-width="0.8" stroke-opacity="0.85"/><line x1="130.4" y1="209.8" x2="117.3" y2="239.3" stroke="#f07a60" stroke-width="0.8" stroke-opacity="0.85"/><line x1="136" y1="213.3" x2="118.1" y2="237.4" stroke="#f07a60" stroke-width="0.8" stroke-opacity="0.85"/><line x1="64.9" y1="293.6" x2="87.4" y2="270.7" stroke="#f07a60" stroke-width="0.8" stroke-opacity="0.85"/><path d="M51 265.1Q105.2 265.5 159.3 262.2" fill="none" stroke="#3a8ee0" stroke-width="0.9" stroke-opacity="0.8"/><path d="M50.6 261.3Q104.6 265.5 158.7 267" fill="none" stroke="#3a8ee0" stroke-width="0.7" stroke-opacity="0.8"/><path d="M50.5 259.4Q103.7 265.4 156.2 276.1" fill="none" stroke="#888" stroke-width="0.5" stroke-opacity="0.8"/><path d="M156.2 276.1Q128 276.8 132.2 304.7" fill="none" stroke="#666" stroke-width="0.5" stroke-opacity="0.9"/><path d="M158.7 267Q134.4 274.5 140 299.2" fill="none" stroke="#666" stroke-width="0.5" stroke-opacity="0.9"/><path d="M132.2 304.7Q116.5 285.2 119.1 310.1" fill="none" stroke="#3a8ee0" stroke-width="0.6" stroke-opacity="0.9"/><text x="123.1" y="179.9" font-size="7.2" fill="#111" text-anchor="middle" dominant-baseline="central" stroke="#111" stroke-width="0.24">1</text><text x="154.5" y="194.8" font-size="7.2" fill="#111" text-anchor="middle" dominant-baseline="central" stroke="#111" stroke-width="0.24">2</text><text x="179" y="226.5" font-size="9" font-weight="bold" fill="#7f1787" text-anchor="middle" dominant-baseline="central" stroke="#7f1787" stroke-width="0.18">3</text><text x="183.5" y="251.2" font-size="7.2" fill="#111" text-anchor="middle" dominant-baseline="central" stroke="#111" stroke-width="0.24">4</text><text x="181" y="279.9" font-size="7.2" fill="#111" text-anchor="middle" dominant-baseline="central" stroke="#111" stroke-width="0.24">5</text><text x="167.3" y="307.4" font-size="7.2" fill="#111" text-anchor="middle" dominant-baseline="central" stroke="#111" stroke-width="0.24">6</text><text x="148.3" y="324.7" font-size="7.2" fill="#111" text-anchor="middle" dominant-baseline="central" stroke="#111" stroke-width="0.24">7</text><text x="126.2" y="334.3" font-size="7.2" fill="#111" text-anchor="middle" dominant-baseline="central" stroke="#111" stroke-width="0.24">8</text><text x="103.1" y="336.8" font-size="7.2" fill="#111" text-anchor="middle" dominant-baseline="central" stroke="#111" stroke-width="0.24">9</text><text x="81.8" y="334.3" font-size="7.2" fill="#111" text-anchor="middle" dominant-baseline="central" stroke="#111" stroke-width="0.24">10</text><text x="63.1" y="327.8" font-size="9" font-weight="bold" fill="#7f1787" text-anchor="middle" dominant-baseline="central" stroke="#7f1787" stroke-width="0.18">11</text><text x="45.3" y="312.4" font-size="7.2" fill="#111" text-anchor="middle" dominant-baseline="central" stroke="#111" stroke-width="0.24">12</text><text x="33.2" y="295" font-size="7.2" fill="#111" text-anchor="middle" dominant-baseline="central" stroke="#111" stroke-width="0.24">13</text><text x="28.2" y="282.6" font-size="7.2" fill="#111" text-anchor="middle" dominant-baseline="central" stroke="#111" stroke-width="0.24">14</text><text x="24.9" y="264.5" font-size="7.2" fill="#111" text-anchor="middle" dominant-baseline="central" stroke="#111" stroke-width="0.24">15</text><text x="25.2" y="246.4" font-size="7.2" fill="#111" text-anchor="middle" dominant-baseline="central" stroke="#111" stroke-width="0.24">16</text><text x="28.2" y="232.3" font-size="7.2" fill="#111" text-anchor="middle" dominant-baseline="central" stroke="#111" stroke-width="0.24">17</text><text x="33.1" y="220.1" font-size="7.2" fill="#111" text-anchor="middle" dominant-baseline="central" stroke="#111" stroke-width="0.24">18</text><text x="40.1" y="208.9" font-size="7.2" fill="#111" text-anchor="middle" dominant-baseline="central" stroke="#111" stroke-width="0.24">19</text><text x="48.2" y="199.7" font-size="7.2" fill="#111" text-anchor="middle" dominant-baseline="central" stroke="#111" stroke-width="0.24">20</text><text x="57.5" y="192.1" font-size="7.2" fill="#111" text-anchor="middle" dominant-baseline="central" stroke="#111" stroke-width="0.24">21</text><text x="67" y="186.4" font-size="7.2" fill="#111" text-anchor="middle" dominant-baseline="central" stroke="#111" stroke-width="0.24">22</text><text x="78.2" y="181.5" font-size="9" font-weight="bold" fill="#7f1787" text-anchor="middle" dominant-baseline="central" stroke="#7f1787" stroke-width="0.18">X</text><text x="98.9" y="178.3" font-size="7.2" fill="#111" text-anchor="middle" dominant-baseline="central" stroke="#111" stroke-width="0.24">Y</text><circle cx="281" cy="257.5" r="72.8" fill="none" stroke="#9a9a9a" stroke-width="4.8" pathLength="360" stroke-dasharray="0 0.7 24.6 0.8 26.3 0.8 22.75 0.8 18.75 0.8 20.85 0.8 19.6 0.8 17.15 0.8 16.3 0.8 15.3 0.8 13.9 0.8 14.5 0.8 15 0.8 11.45 0.8 10.5 0.8 12.2 0.8 10.8 0.8 9 0.8 8.5 0.8 8.2 0.8 7.8 0.8 7.4 0.8 7.5 0.8 11.05 0.8 10.8 1.7" transform="rotate(-90 281 257.5)"/><circle cx="281" cy="257.5" r="72.8" fill="none" stroke="#f4f4f4" stroke-width="4.1" pathLength="360" stroke-dasharray="0 0.85 24.3 1.1 26 1.1 22.45 1.1 18.45 1.1 20.55 1.1 19.3 1.1 16.85 1.1 16 1.1 15 1.1 13.6 1.1 14.2 1.1 14.7 1.1 11.15 1.1 10.2 1.1 11.9 1.1 10.5 1.1 8.7 1.1 8.2 1.1 7.9 1.1 7.5 1.1 7.1 1.1 7.2 1.1 10.75 1.1 10.5 1.85" transform="rotate(-90 281 257.5)"/><circle cx="281" cy="257.5" r="72.8" fill="none" stroke="#dcdcdc" stroke-width="4.4" pathLength="360" stroke-dasharray="0 1.43 1.36 0.42 0.51 4.53 1.46 2.06 0.69 4.78 1.04 2.32 0.72 5.52 1.12 3.98 1.33 0 0.76 7.5 1.33 10.73 1.04 26.01 1.44 1.24 0.66 1.03 0.55 3.25 0.51 8.34 0.78 11.48 0.99 17.42 0.81 0.75 0.93 10.48 1.19 0.6 0.84 0 1.01 1.89 1.46 1.08 1.44 4.32 0.33 5.85 1.17 0.85 1.24 1.02 0.52 3.84 1.34 2.56 0.92 15.8 0.94 2.12 0.63 6.56 0.58 1.56 0.41 5.27 1.33 1.84 1.28 4.41 1.1 1.82 1.5 0.73 1.04 16.2 1.04 2.67 0.58 7.38 0.99 2.08 1.09 0 0.94 1.1 0.28 1.46 1.12 4.99 1.43 0 1.5 4.26 0.77 1.17 0.56 10.39 0.67 5.47 0.6 4.08 0.96 10.3 1.44 0.82 0.7 4.21 1.06 4.96 1.42 15.26 1.36 0 1.19 12.15 0.5 2.45 1.48 0.74 0.85 2.6" transform="rotate(-90 281 257.5)"/><circle cx="281" cy="257.5" r="72.8" fill="none" stroke="#c0c0c0" stroke-width="4.4" pathLength="360" stroke-dasharray="0 4.91 0.88 5.09 0.89 1.13 1.32 0.97 1.15 5.9 1.49 5.15 1.12 5.13 1.05 7.54 0.77 10.7 0.62 6.22 0.66 2.01 0.76 0.93 0.68 2.07 0.88 0.62 1.34 0.54 0.73 1.37 1.3 1.5 1.38 5.21 1.03 7.38 1.19 1.09 0.8 5.36 1.2 0.6 1.07 7.21 1.17 6.99 0.9 3.98 1.15 9.84 0.81 15.8 1.19 6.06 1.48 6.78 1.2 14.62 0.51 21.27 1.31 1.85 0.84 5.11 0.52 0.91 1.23 7.74 1.46 2.2 1.37 0.91 0.53 5.76 1.22 4.2 1.02 2.36 1.38 33.42 1.24 5.78 1.11 6.22 0.97 5.89 0.52 1.95 0.81 1.02 0.66 9.84 0.75 1.12 0.77 0.47 0.22 3.06 0.63 6.21 0.91 3.31 1.48 10.61 0.57 7.43 0.89 6.54" transform="rotate(-90 281 257.5)"/><circle cx="281" cy="257.5" r="72.8" fill="none" stroke="#a0a0a0" stroke-width="4.4" pathLength="360" stroke-dasharray="0 6.45 1.34 16.43 1.08 5.32 0.77 8 0.94 5.31 0.73 5.56 0.46 5.89 0.82 20.07 0.79 13.63 1.09 4.59 1.01 4.08 0.83 2.98 0.79 0 0.96 2.58 1.48 7.45 1.13 3.36 0.89 4.72 0.62 1.02 0.69 22.89 1.17 10.95 0.65 5.89 0.54 2.42 1.31 0.73 1.41 2.75 0.94 46.35 1.31 1.08 0.25 13.85 0.9 0.66 0.66 11 1.5 0.98 0.89 17.45 0.27 1.89 1.18 39.2 0.83 0.86 0.82 8.39 0.02 6.82 0.66 3.38 0.98 2.7 1.46 9.15" transform="rotate(-90 281 257.5)"/><circle cx="281" cy="257.5" r="72.8" fill="none" stroke="#7c7c7c" stroke-width="4.4" pathLength="360" stroke-dasharray="0 19.32 0.85 39.87 0.52 0.41 1.06 0.66 1.39 2.99 0.97 22.22 1.3 14.53 0.54 29.86 0.74 8.77 0.87 6.65 0.79 17.03 1.27 3.99 1.25 20.81 1.06 2.59 0.68 2.99 0.88 19.38 0.67 26.07 0.7 22.64 0.96 35.97 1.29 16.82 1.36 8.65 0.56 16.48 0.83 1.77" transform="rotate(-90 281 257.5)"/><circle cx="281" cy="257.5" r="72.8" fill="none" stroke="#484848" stroke-width="4.4" pathLength="360" stroke-dasharray="0 40.34 0.58 6.11 1 8.69 0.63 57.24 1.21 1.13 0.22 3.3 0.58 18.33 0.62 46.64 0.86 5.02 0.66 75.38 0.85 0.62 0.6 8.05 0.54 19.39 1.25 23.19 1.36 36.6" transform="rotate(-90 281 257.5)"/><circle cx="281" cy="257.5" r="72.8" fill="none" stroke="#1a1a1a" stroke-width="4.4" pathLength="360" stroke-dasharray="0 36.82 1.05 12.24 0.88 35.44 1 35.16 0.85 3.95 0.96 66.94 1.47 93.29 0.86 8.93 1.39 59.77" transform="rotate(-90 281 257.5)"/><circle cx="281" cy="257.5" r="72.8" fill="none" stroke="#e5453d" stroke-width="4.4" pathLength="360" stroke-dasharray="0 12.55 1 22.15 1 26.46 1 17.04 1 19.18 1 22.07 1 18.87 1 15.58 1 16.33 1 13.91 1 15.34 1 12.55 1 12.57 1 11.19 1 10.83 1 14.12 1 8.88 1 8.01 1 10.1 1 7.73 1 6.23 1 7.32 1 9.46 1 8.81 1 9.73" transform="rotate(-90 281 257.5)"/><circle cx="281" cy="257.5" r="66" fill="none" stroke="#fbf6f6" stroke-width="4.8" pathLength="360" stroke-dasharray="0 0.7 24.6 0.8 26.3 0.8 22.75 0.8 18.75 0.8 20.85 0.8 19.6 0.8 17.15 0.8 16.3 0.8 15.3 0.8 13.9 0.8 14.5 0.8 15 0.8 11.45 0.8 10.5 0.8 12.2 0.8 10.8 0.8 9 0.8 8.5 0.8 8.2 0.8 7.8 0.8 7.4 0.8 7.5 0.8 11.05 0.8 10.8 1.7" transform="rotate(-90 281 257.5)"/><circle cx="281" cy="257.5" r="66" fill="none" stroke="#f7d5d5" stroke-width="4.8" pathLength="360" stroke-dasharray="0 0.7 3.7 31.34 3.39 7.44 5.74 0.89 3.24 16.09 1.93 2.29 5.33 3.56 2.47 0 2.49 0 4.89 37.61 4.46 0.8 1.65 10.25 1.53 0 3.72 6.58 4.41 0 2.11 17.6 1.88 4.38 1.95 2.11 2.91 4.76 4.87 36.07 1.61 12.1 2.99 15.37 2.78 25.51 5.24 5.72 2.1 1.59 4.15 0 1.5 10.86 4.19 0 3.53 0 3.33 13.3" transform="rotate(-90 281 257.5)"/><circle cx="281" cy="257.5" r="66" fill="none" stroke="#eb9696" stroke-width="4.8" pathLength="360" stroke-dasharray="0 5 7 13 7 28.68 2.63 76.7 10 23.4 3.65 11.04 0.61 10.74 3.96 9.41 2.56 4.13 1.75 0 5.5 35.09 0.16 0 6 12 10 3.25 4.55 15.54 3.12 11.88 2.26 30.39" transform="rotate(-90 281 257.5)"/><circle cx="281" cy="257.5" r="59.25" fill="none" stroke="#f5f5f5" stroke-width="6.5" pathLength="360" stroke-dasharray="0 0.7 24.6 0.8 26.3 0.8 22.75 0.8 18.75 0.8 20.85 0.8 19.6 0.8 17.15 0.8 16.3 0.8 15.3 0.8 13.9 0.8 14.5 0.8 15 0.8 11.45 0.8 10.5 0.8 12.2 0.8 10.8 0.8 9 0.8 8.5 0.8 8.2 0.8 7.8 0.8 7.4 0.8 7.5 0.8 11.05 0.8 10.8 1.7" transform="rotate(-90 281 257.5)"/><circle cx="281" cy="257.5" r="59.25" fill="none" stroke="#00008b" stroke-width="6.5" pathLength="360" stroke-dasharray="0 57 22 1 20 2 8 10 16 29 7 16 7 3 4 19 25 19 3 8 9 20 8 25 17 6" transform="rotate(-90 281 257.5)"/><circle cx="281" cy="257.5" r="59.25" fill="none" stroke="#4a4ac0" stroke-width="4.1" pathLength="360" stroke-dasharray="0 0.71 0.5 3.05 0.5 9.05 0.5 29.54 0.5 28.41 0.5 11.29 0.5 82.28 0.5 8.81 0.5 2.04 0.5 11.71 0.5 13.24 0.5 8.98 0.5 25.13 0.5 51.52 0.5 68.24" transform="rotate(-90 281 257.5)" stroke-opacity="0.8"/><path d="M226 291.5L242.5 305.5L259.5 277.5L256.4 275.4Z" fill="#3a6470"/><line x1="226" y1="291.5" x2="258" y2="276.5" stroke="#2e8b8b" stroke-width="0.6" stroke-opacity="0.8"/><line x1="228.8" y1="293.8" x2="258" y2="276.5" stroke="#5a9ad0" stroke-width="0.6" stroke-opacity="0.8"/><line x1="231.5" y1="296.2" x2="258" y2="276.5" stroke="#2e8b8b" stroke-width="0.6" stroke-opacity="0.8"/><line x1="234.2" y1="298.5" x2="258" y2="276.5" stroke="#e07050" stroke-width="0.6" stroke-opacity="0.8"/><line x1="237" y1="300.8" x2="258" y2="276.5" stroke="#e07050" stroke-width="0.6" stroke-opacity="0.8"/><line x1="239.8" y1="303.2" x2="258" y2="276.5" stroke="#5a9ad0" stroke-width="0.6" stroke-opacity="0.8"/><path d="M232.1 280.3Q283.4 265.1 334.2 248.1" fill="none" stroke="#999" stroke-width="0.6" stroke-opacity="0.9"/><path d="M334.7 263.1Q316 258.7 335 255.6" fill="none" stroke="#c86040" stroke-width="0.6" stroke-opacity="0.9"/><path d="M334.2 266.9Q315.8 261.2 335 259.4" fill="none" stroke="#3a8ee0" stroke-width="0.7" stroke-opacity="0.9"/><line x1="254" y1="210.7" x2="265.7" y2="236.5" stroke="#f29580" stroke-width="0.75" stroke-opacity="0.85"/><line x1="247.8" y1="214.9" x2="269" y2="239" stroke="#f29580" stroke-width="0.75" stroke-opacity="0.85"/><line x1="243.5" y1="218.7" x2="261.3" y2="234.9" stroke="#f29580" stroke-width="0.75" stroke-opacity="0.85"/><line x1="234.2" y1="230.5" x2="259.1" y2="247.7" stroke="#f29580" stroke-width="0.75" stroke-opacity="0.85"/><line x1="230.3" y1="239" x2="255.4" y2="246.1" stroke="#f29580" stroke-width="0.75" stroke-opacity="0.85"/><line x1="227" y1="259.4" x2="257.1" y2="255.8" stroke="#f29580" stroke-width="0.75" stroke-opacity="0.85"/><line x1="230.3" y1="276" x2="260.9" y2="266.4" stroke="#f29580" stroke-width="0.75" stroke-opacity="0.85"/><line x1="297.7" y1="206.1" x2="291.5" y2="231.5" stroke="#f29580" stroke-width="0.75" stroke-opacity="0.85"/><line x1="304.7" y1="209" x2="289.2" y2="234.9" stroke="#f29580" stroke-width="0.75" stroke-opacity="0.85"/><line x1="315.7" y1="216.1" x2="301.8" y2="235.9" stroke="#f29580" stroke-width="0.75" stroke-opacity="0.85"/><line x1="321.1" y1="221.4" x2="298.7" y2="238.5" stroke="#f29580" stroke-width="0.75" stroke-opacity="0.85"/><line x1="308" y1="304.3" x2="290.3" y2="277.4" stroke="#f29580" stroke-width="0.75" stroke-opacity="0.85"/><line x1="299.5" y1="308.2" x2="293.3" y2="282.7" stroke="#f29580" stroke-width="0.75" stroke-opacity="0.85"/><line x1="294.1" y1="309.9" x2="285.5" y2="283.1" stroke="#f29580" stroke-width="0.75" stroke-opacity="0.85"/><line x1="285.7" y1="311.3" x2="284.8" y2="281.2" stroke="#f29580" stroke-width="0.75" stroke-opacity="0.85"/><line x1="258.2" y1="306.4" x2="268" y2="280" stroke="#f29580" stroke-width="0.75" stroke-opacity="0.85"/><line x1="252.4" y1="303.3" x2="271.4" y2="277.3" stroke="#f29580" stroke-width="0.75" stroke-opacity="0.85"/><line x1="238.4" y1="290.7" x2="264.4" y2="268.7" stroke="#f29580" stroke-width="0.75" stroke-opacity="0.85"/><line x1="327.8" y1="284.5" x2="300.4" y2="271.6" stroke="#f29580" stroke-width="0.75" stroke-opacity="0.85"/><line x1="290.4" y1="204.3" x2="287.6" y2="234.4" stroke="#5a9a5a" stroke-width="0.6" stroke-opacity="0.85"/><line x1="294.1" y1="205.1" x2="285.5" y2="231.9" stroke="#5a9a5a" stroke-width="0.6" stroke-opacity="0.85"/><line x1="234.2" y1="230.5" x2="256.4" y2="240.3" stroke="#5a9a5a" stroke-width="0.6" stroke-opacity="0.85"/><line x1="228.8" y1="243.5" x2="253.3" y2="253.1" stroke="#5a9a5a" stroke-width="0.6" stroke-opacity="0.85"/><line x1="306.4" y1="305.2" x2="295.1" y2="276.9" stroke="#5a9a5a" stroke-width="0.6" stroke-opacity="0.85"/><line x1="236.2" y1="287.7" x2="261.6" y2="267.8" stroke="#5a9a5a" stroke-width="0.6" stroke-opacity="0.85"/><text x="299.1" y="179.9" font-size="7.2" fill="#111" text-anchor="middle" dominant-baseline="central" stroke="#111" stroke-width="0.24">1</text><text x="330.5" y="194.8" font-size="7.2" fill="#111" text-anchor="middle" dominant-baseline="central" stroke="#111" stroke-width="0.24">2</text><text x="354.3" y="226.8" font-size="7.2" fill="#111" text-anchor="middle" dominant-baseline="central" stroke="#111" stroke-width="0.24">3</text><text x="359.5" y="251.2" font-size="7.2" fill="#111" text-anchor="middle" dominant-baseline="central" stroke="#111" stroke-width="0.24">4</text><text x="357" y="279.9" font-size="7.2" fill="#111" text-anchor="middle" dominant-baseline="central" stroke="#111" stroke-width="0.24">5</text><text x="343.3" y="307.4" font-size="7.2" fill="#111" text-anchor="middle" dominant-baseline="central" stroke="#111" stroke-width="0.24">6</text><text x="324.3" y="324.7" font-size="7.2" fill="#111" text-anchor="middle" dominant-baseline="central" stroke="#111" stroke-width="0.24">7</text><text x="302.2" y="334.3" font-size="7.2" fill="#111" text-anchor="middle" dominant-baseline="central" stroke="#111" stroke-width="0.24">8</text><text x="279.1" y="336.8" font-size="7.2" fill="#111" text-anchor="middle" dominant-baseline="central" stroke="#111" stroke-width="0.24">9</text><text x="257.8" y="334.3" font-size="7.2" fill="#111" text-anchor="middle" dominant-baseline="central" stroke="#111" stroke-width="0.24">10</text><text x="239.7" y="326.8" font-size="7.2" fill="#111" text-anchor="middle" dominant-baseline="central" stroke="#111" stroke-width="0.24">11</text><text x="220.4" y="313.2" font-size="9" font-weight="bold" fill="#7f1787" text-anchor="middle" dominant-baseline="central" stroke="#7f1787" stroke-width="0.18">12</text><text x="209.2" y="295" font-size="7.2" fill="#111" text-anchor="middle" dominant-baseline="central" stroke="#111" stroke-width="0.24">13</text><text x="204.2" y="282.6" font-size="7.2" fill="#111" text-anchor="middle" dominant-baseline="central" stroke="#111" stroke-width="0.24">14</text><text x="200.9" y="264.5" font-size="7.2" fill="#111" text-anchor="middle" dominant-baseline="central" stroke="#111" stroke-width="0.24">15</text><text x="201.2" y="246.4" font-size="7.2" fill="#111" text-anchor="middle" dominant-baseline="central" stroke="#111" stroke-width="0.24">16</text><text x="204.2" y="232.3" font-size="7.2" fill="#111" text-anchor="middle" dominant-baseline="central" stroke="#111" stroke-width="0.24">17</text><text x="209.1" y="220.1" font-size="7.2" fill="#111" text-anchor="middle" dominant-baseline="central" stroke="#111" stroke-width="0.24">18</text><text x="216.1" y="208.9" font-size="7.2" fill="#111" text-anchor="middle" dominant-baseline="central" stroke="#111" stroke-width="0.24">19</text><text x="224.2" y="199.7" font-size="7.2" fill="#111" text-anchor="middle" dominant-baseline="central" stroke="#111" stroke-width="0.24">20</text><text x="233.5" y="192.1" font-size="7.2" fill="#111" text-anchor="middle" dominant-baseline="central" stroke="#111" stroke-width="0.24">21</text><text x="243" y="186.4" font-size="7.2" fill="#111" text-anchor="middle" dominant-baseline="central" stroke="#111" stroke-width="0.24">22</text><text x="254.5" y="182.2" font-size="7.2" fill="#111" text-anchor="middle" dominant-baseline="central" stroke="#111" stroke-width="0.24">X</text><text x="274.9" y="178.3" font-size="7.2" fill="#111" text-anchor="middle" dominant-baseline="central" stroke="#111" stroke-width="0.24">Y</text><text x="30" y="12" font-size="10" font-weight="bold" fill="#7f1787" stroke="#7f1787" stroke-width="0.18">A01</text><text x="327" y="11.6" font-size="10" font-weight="bold" fill="#7f1787" stroke="#7f1787" stroke-width="0.18">A12</text><text x="29" y="183.5" font-size="10" font-weight="bold" fill="#7f1787" stroke="#7f1787" stroke-width="0.18">A03</text><text x="327" y="184.4" font-size="10" font-weight="bold" fill="#7f1787" stroke="#7f1787" stroke-width="0.18">A08</text><text x="164.5" y="40.5" font-size="8.6" font-weight="bold" font-style="italic" fill="#1a1a8c" stroke="#1a1a8c" stroke-width="0.18">TGFBR2</text><line x1="170" y1="42" x2="164" y2="47" stroke="#333" stroke-width="0.5"/><text x="20.3" y="152.3" font-size="7.5" font-weight="bold" font-style="italic" fill="#cc2222" stroke="#cc2222" stroke-width="0.18">CCND1</text><line x1="50" y1="149" x2="60" y2="150.6" stroke="#333" stroke-width="0.5"/><text x="18.4" y="323.4" font-size="7.3" font-weight="bold" font-style="italic" fill="#cc2222" stroke="#cc2222" stroke-width="0.18">CCND1</text><line x1="47" y1="319.5" x2="60" y2="321.5" stroke="#333" stroke-width="0.5"/><text x="48.5" y="342.8" font-size="7.3" font-weight="bold" font-style="italic" fill="#cc2222" stroke="#cc2222" stroke-width="0.18">HRAS</text><line x1="66" y1="334" x2="70" y2="327" stroke="#333" stroke-width="0.5"/><text x="183.3" y="301.5" font-size="7.1" font-weight="bold" font-style="italic" fill="#cc2222" stroke="#cc2222" stroke-width="0.18">CCND2</text><text x="186.3" y="310.6" font-size="7.1" font-weight="bold" font-style="italic" fill="#cc2222" stroke="#cc2222" stroke-width="0.18">CDK4</text><text x="184.3" y="319.7" font-size="7.1" font-weight="bold" font-style="italic" fill="#cc2222" stroke="#cc2222" stroke-width="0.18">MDM2</text><line x1="210" y1="313" x2="215" y2="310" stroke="#333" stroke-width="0.5"/><rect x="168.3" y="144.3" width="45.3" height="59" fill="#fff" stroke="#bbb" stroke-width="0.6"/><text x="169.8" y="152.3" font-size="7" stroke="#000" stroke-width="0.24">CN</text><text x="172.5" y="159" font-size="4.8" stroke="#000" stroke-width="0.24">Total</text><text x="192" y="159" font-size="4.8" stroke="#000" stroke-width="0.24">Minor</text><rect x="171" y="162.2" width="5" height="6.5" fill="#cccccc" stroke="#999" stroke-width="0.3"/><text x="178" y="167.2" font-size="4.8" stroke="#000" stroke-width="0.24">0</text><rect x="171" y="168.7" width="5" height="6.5" fill="#ffffff" stroke="#999" stroke-width="0.3"/><text x="178" y="173.7" font-size="4.8" stroke="#000" stroke-width="0.24">1–2</text><rect x="171" y="175.2" width="5" height="6.5" fill="#fbdcdc" stroke="#999" stroke-width="0.3"/><text x="178" y="180.2" font-size="4.8" stroke="#000" stroke-width="0.24">3</text><rect x="171" y="181.7" width="5" height="6.5" fill="#ee9a9a" stroke="#999" stroke-width="0.3"/><text x="178" y="186.7" font-size="4.8" stroke="#000" stroke-width="0.24">4–5</text><rect x="171" y="188.2" width="5" height="6.5" fill="#de5a5a" stroke="#999" stroke-width="0.3"/><text x="178" y="193.2" font-size="4.8" stroke="#000" stroke-width="0.24">6–7</text><rect x="171" y="194.7" width="5" height="6.5" fill="#cc1b1b" stroke="#999" stroke-width="0.3"/><text x="178" y="199.7" font-size="4.8" stroke="#000" stroke-width="0.24">>8</text><rect x="192.3" y="162.2" width="5.3" height="6.6" fill="#000099"/><rect x="192.3" y="168.8" width="5.3" height="6.6" fill="#fff" stroke="#999" stroke-width="0.3"/><text x="199.5" y="167.2" font-size="4.8" stroke="#000" stroke-width="0.24">0</text><text x="199.5" y="173.8" font-size="4.8" stroke="#000" stroke-width="0.24">&gt;1</text><defs><pattern id="pW" width="12" height="12" patternUnits="userSpaceOnUse"><path d="M9.6 3.9h1v1h-1zM2.9 9.9h1v1h-1zM1.4 5.7h1v1h-1zM6.7 7.3h1v1h-1zM1.7 7.6h1v1h-1zM6 10.2h1v1h-1zM0.3 11.5h1v1h-1zM2.1 9.8h1v1h-1zM6.1 10h1v1h-1zM2.2 3.9h1v1h-1zM1 9.3h1v1h-1zM6.4 2.5h1v1h-1zM2.3 1h1v1h-1zM2.4 6.7h1v1h-1zM5.3 8.5h1v1h-1zM0.9 10.1h1v1h-1zM11.8 8.9h1v1h-1zM8.9 10.2h1v1h-1zM1.1 5.5h1v1h-1zM1 9.4h1v1h-1zM6.5 1.3h1v1h-1zM5.3 9.3h1v1h-1zM6.6 1.5h1v1h-1zM11.2 0.7h1v1h-1zM10.1 11.7h1v1h-1zM9 11.4h1v1h-1zM6.4 2.6h1v1h-1zM5.7 8.9h1v1h-1zM9.2 4.6h1v1h-1zM11.4 0.4h1v1h-1zM5.9 0.5h1v1h-1zM4.3 11.9h1v1h-1zM1.4 11.8h1v1h-1zM10.9 8.3h1v1h-1zM0.7 5.7h1v1h-1zM8.3 1.1h1v1h-1zM3.6 1.1h1v1h-1zM10.1 11h1v1h-1zM11.1 9h1v1h-1zM6.9 0.7h1v1h-1zM5.8 9.1h1v1h-1zM9.1 0.3h1v1h-1zM0.1 1.1h1v1h-1zM11.1 1.4h1v1h-1zM4.7 5.7h1v1h-1zM10.6 1.6h1v1h-1zM3.1 9.3h1v1h-1zM1 2h1v1h-1zM0.3 11.5h1v1h-1zM2.8 6h1v1h-1zM4.5 11.8h1v1h-1zM8.5 7.2h1v1h-1zM5.9 3.2h1v1h-1zM10.1 1.2h1v1h-1zM7.5 3.5h1v1h-1zM3.3 5.4h1v1h-1zM2.3 7.1h1v1h-1zM0.8 0.2h1v1h-1zM1.7 1.1h1v1h-1zM10.5 6.1h1v1h-1zM8.1 9.3h1v1h-1zM2 11.4h1v1h-1zM4.6 5.5h1v1h-1zM5.9 8.3h1v1h-1zM9.2 2.3h1v1h-1zM9.9 5.1h1v1h-1zM3 10.4h1v1h-1zM10.5 10.3h1v1h-1zM3.9 11h1v1h-1zM9.3 11.6h1v1h-1zM9.1 12h1v1h-1zM5.7 9h1v1h-1zM9.4 6.3h1v1h-1zM6.1 4.8h1v1h-1zM10.4 4.5h1v1h-1zM9 6.7h1v1h-1zM8.5 3.7h1v1h-1zM0.9 8.1h1v1h-1zM1.7 4.3h1v1h-1zM9.4 0.6h1v1h-1zM10.9 7.1h1v1h-1zM6.7 8.1h1v1h-1zM0.7 0.3h1v1h-1zM8.6 7h1v1h-1zM7.7 9.9h1v1h-1zM3.3 1.9h1v1h-1zM11.6 0.7h1v1h-1zM6.2 7.5h1v1h-1zM11.5 1h1v1h-1zM8.4 0.9h1v1h-1z" fill="#fff"/></pattern><linearGradient id="fU" x1="0" y1="1" x2="0" y2="0"><stop offset="0" stop-color="#fff" stop-opacity="0.25"/><stop offset="1" stop-color="#fff"/></linearGradient><linearGradient id="fD" x1="0" y1="0" x2="0" y2="1"><stop offset="0" stop-color="#fff" stop-opacity="0.25"/><stop offset="1" stop-color="#fff"/></linearGradient><mask id="mU" maskContentUnits="objectBoundingBox"><rect width="1" height="1" fill="url(#fU)"/></mask><mask id="mD" maskContentUnits="objectBoundingBox"><rect width="1" height="1" fill="url(#fD)"/></mask><linearGradient id="gLu" x1="0" y1="1" x2="0" y2="0"><stop offset="0" stop-color="#52b6fa" stop-opacity="0.95"/><stop offset="1" stop-color="#52b6fa" stop-opacity="0.15"/></linearGradient><linearGradient id="gLd" x1="0" y1="0" x2="0" y2="1"><stop offset="0" stop-color="#52b6fa" stop-opacity="0.95"/><stop offset="0.7" stop-color="#52b6fa" stop-opacity="0.6"/><stop offset="1" stop-color="#52b6fa" stop-opacity="0.15"/></linearGradient><linearGradient id="gDu" x1="0" y1="1" x2="0" y2="0"><stop offset="0" stop-color="#157cf2" stop-opacity="0.95"/><stop offset="1" stop-color="#157cf2" stop-opacity="0.15"/></linearGradient><linearGradient id="gDd" x1="0" y1="0" x2="0" y2="1"><stop offset="0" stop-color="#157cf2" stop-opacity="0.95"/><stop offset="0.7" stop-color="#157cf2" stop-opacity="0.6"/><stop offset="1" stop-color="#157cf2" stop-opacity="0.15"/></linearGradient><linearGradient id="ampL" x1="0" y1="0" x2="0" y2="1"><stop offset="0" stop-color="#52b6fa" stop-opacity="0.3"/><stop offset="0.4" stop-color="#52b6fa" stop-opacity="0.9"/><stop offset="1" stop-color="#52b6fa" stop-opacity="0.4"/></linearGradient></defs><text x="0.2" y="364" font-size="14" font-weight="bold" stroke="#000" stroke-width="0.18">B</text><path d="M95 356.5h22l-11 4.5z" fill="#cfcfcf"/><path d="M275 356.5h22l-11 4.5z" fill="#cfcfcf"/><text transform="translate(8.8 427.5) rotate(-90)" font-size="6.8" text-anchor="middle" stroke="#000" stroke-width="0.24">CN log ratio</text><rect x="20.5" y="363.5" width="237" height="122.5" fill="#fff" stroke="#c4c4c4" stroke-width="0.8"/><line x1="41.21" y1="364" x2="41.21" y2="485.6" stroke="#e6e6e6" stroke-width="0.6"/><line x1="59.95" y1="364" x2="59.95" y2="485.6" stroke="#e6e6e6" stroke-width="0.6"/><line x1="75.21" y1="364" x2="75.21" y2="485.6" stroke="#e6e6e6" stroke-width="0.6"/><line x1="89.95" y1="364" x2="89.95" y2="485.6" stroke="#e6e6e6" stroke-width="0.6"/><line x1="103.89" y1="364" x2="103.89" y2="485.6" stroke="#e6e6e6" stroke-width="0.6"/><line x1="117.08" y1="364" x2="117.08" y2="485.6" stroke="#e6e6e6" stroke-width="0.6"/><line x1="129.34" y1="364" x2="129.34" y2="485.6" stroke="#e6e6e6" stroke-width="0.6"/><line x1="140.62" y1="364" x2="140.62" y2="485.6" stroke="#e6e6e6" stroke-width="0.6"/><line x1="151.51" y1="364" x2="151.51" y2="485.6" stroke="#e6e6e6" stroke-width="0.6"/><line x1="161.95" y1="364" x2="161.95" y2="485.6" stroke="#e6e6e6" stroke-width="0.6"/><line x1="172.35" y1="364" x2="172.35" y2="485.6" stroke="#e6e6e6" stroke-width="0.6"/><line x1="182.67" y1="364" x2="182.67" y2="485.6" stroke="#e6e6e6" stroke-width="0.6"/><line x1="191.55" y1="364" x2="191.55" y2="485.6" stroke="#e6e6e6" stroke-width="0.6"/><line x1="199.82" y1="364" x2="199.82" y2="485.6" stroke="#e6e6e6" stroke-width="0.6"/><line x1="207.72" y1="364" x2="207.72" y2="485.6" stroke="#e6e6e6" stroke-width="0.6"/><line x1="214.68" y1="364" x2="214.68" y2="485.6" stroke="#e6e6e6" stroke-width="0.6"/><line x1="220.94" y1="364" x2="220.94" y2="485.6" stroke="#e6e6e6" stroke-width="0.6"/><line x1="226.96" y1="364" x2="226.96" y2="485.6" stroke="#e6e6e6" stroke-width="0.6"/><line x1="231.51" y1="364" x2="231.51" y2="485.6" stroke="#e6e6e6" stroke-width="0.6"/><line x1="236.37" y1="364" x2="236.37" y2="485.6" stroke="#e6e6e6" stroke-width="0.6"/><line x1="240.08" y1="364" x2="240.08" y2="485.6" stroke="#e6e6e6" stroke-width="0.6"/><line x1="244.03" y1="364" x2="244.03" y2="485.6" stroke="#e6e6e6" stroke-width="0.6"/><rect x="22" y="420.5" width="9.01" height="41.6" fill="#52b6fa"/><rect x="22" y="416.98" width="9.01" height="3.52" fill="url(#gLu)"/><rect x="22" y="416.98" width="9.01" height="3.52" fill="url(#pW)" mask="url(#mU)"/><rect x="22" y="462.1" width="9.01" height="20.32" fill="url(#gLd)"/><rect x="22" y="462.1" width="9.01" height="20.32" fill="url(#pW)" mask="url(#mD)"/><rect x="22" y="440.75" width="9.01" height="1.1" fill="#b3262a"/><rect x="32.21" y="415.7" width="9.01" height="41.6" fill="#52b6fa"/><rect x="32.21" y="412.18" width="9.01" height="3.52" fill="url(#gLu)"/><rect x="32.21" y="412.18" width="9.01" height="3.52" fill="url(#pW)" mask="url(#mU)"/><rect x="32.21" y="457.3" width="9.01" height="20.8" fill="url(#gLd)"/><rect x="32.21" y="457.3" width="9.01" height="20.8" fill="url(#pW)" mask="url(#mD)"/><rect x="32.21" y="435.95" width="9.01" height="1.1" fill="#b3262a"/><rect x="41.21" y="420.5" width="18.74" height="41.6" fill="#157cf2"/><rect x="41.21" y="416.98" width="18.74" height="3.52" fill="url(#gDu)"/><rect x="41.21" y="416.98" width="18.74" height="3.52" fill="url(#pW)" mask="url(#mU)"/><rect x="41.21" y="462.1" width="18.74" height="20.32" fill="url(#gDd)"/><rect x="41.21" y="462.1" width="18.74" height="20.32" fill="url(#pW)" mask="url(#mD)"/><rect x="41.21" y="440.75" width="18.74" height="1.1" fill="#b3262a"/><rect x="59.95" y="420.5" width="15.26" height="40.8" fill="#52b6fa"/><rect x="59.95" y="416.98" width="15.26" height="3.52" fill="url(#gLu)"/><rect x="59.95" y="416.98" width="15.26" height="3.52" fill="url(#pW)" mask="url(#mU)"/><rect x="59.95" y="461.3" width="15.26" height="20.8" fill="url(#gLd)"/><rect x="59.95" y="461.3" width="15.26" height="20.8" fill="url(#pW)" mask="url(#mD)"/><rect x="75.21" y="420.5" width="14.73" height="41.6" fill="#157cf2"/><rect x="75.21" y="416.98" width="14.73" height="3.52" fill="url(#gDu)"/><rect x="75.21" y="416.98" width="14.73" height="3.52" fill="url(#pW)" mask="url(#mU)"/><rect x="75.21" y="462.1" width="14.73" height="20.32" fill="url(#gDd)"/><rect x="75.21" y="462.1" width="14.73" height="20.32" fill="url(#pW)" mask="url(#mD)"/><rect x="75.21" y="440.75" width="14.73" height="1.1" fill="#b3262a"/><rect x="89.95" y="415.7" width="13.94" height="41.6" fill="#52b6fa"/><rect x="89.95" y="412.18" width="13.94" height="3.52" fill="url(#gLu)"/><rect x="89.95" y="412.18" width="13.94" height="3.52" fill="url(#pW)" mask="url(#mU)"/><rect x="89.95" y="457.3" width="13.94" height="20.8" fill="url(#gLd)"/><rect x="89.95" y="457.3" width="13.94" height="20.8" fill="url(#pW)" mask="url(#mD)"/><rect x="89.95" y="435.95" width="13.94" height="1.1" fill="#b3262a"/><rect x="103.89" y="414.9" width="5.93" height="41.6" fill="#157cf2"/><rect x="103.89" y="411.38" width="5.93" height="3.52" fill="url(#gDu)"/><rect x="103.89" y="411.38" width="5.93" height="3.52" fill="url(#pW)" mask="url(#mU)"/><rect x="103.89" y="456.5" width="5.93" height="20.8" fill="url(#gDd)"/><rect x="103.89" y="456.5" width="5.93" height="20.8" fill="url(#pW)" mask="url(#mD)"/><rect x="103.89" y="435.15" width="5.93" height="1.1" fill="#b3262a"/><rect x="109.82" y="426.1" width="7.25" height="41.6" fill="#157cf2"/><rect x="109.82" y="422.58" width="7.25" height="3.52" fill="url(#gDu)"/><rect x="109.82" y="422.58" width="7.25" height="3.52" fill="url(#pW)" mask="url(#mU)"/><rect x="109.82" y="467.7" width="7.25" height="14.72" fill="url(#gDd)"/><rect x="109.82" y="467.7" width="7.25" height="14.72" fill="url(#pW)" mask="url(#mD)"/><rect x="109.82" y="446.35" width="7.25" height="1.1" fill="#b3262a"/><rect x="117.08" y="415.7" width="12.26" height="41.6" fill="#52b6fa"/><rect x="117.08" y="412.18" width="12.26" height="3.52" fill="url(#gLu)"/><rect x="117.08" y="412.18" width="12.26" height="3.52" fill="url(#pW)" mask="url(#mU)"/><rect x="117.08" y="457.3" width="12.26" height="20.8" fill="url(#gLd)"/><rect x="117.08" y="457.3" width="12.26" height="20.8" fill="url(#pW)" mask="url(#mD)"/><rect x="117.08" y="435.95" width="12.26" height="1.1" fill="#b3262a"/><rect x="129.34" y="421.3" width="11.28" height="41.6" fill="#157cf2"/><rect x="129.34" y="417.78" width="11.28" height="3.52" fill="url(#gDu)"/><rect x="129.34" y="417.78" width="11.28" height="3.52" fill="url(#pW)" mask="url(#mU)"/><rect x="129.34" y="462.9" width="11.28" height="19.52" fill="url(#gDd)"/><rect x="129.34" y="462.9" width="11.28" height="19.52" fill="url(#pW)" mask="url(#mD)"/><rect x="129.34" y="441.55" width="11.28" height="1.1" fill="#b3262a"/><rect x="140.62" y="421.3" width="10.88" height="41.6" fill="#52b6fa"/><rect x="140.62" y="417.78" width="10.88" height="3.52" fill="url(#gLu)"/><rect x="140.62" y="417.78" width="10.88" height="3.52" fill="url(#pW)" mask="url(#mU)"/><rect x="140.62" y="462.9" width="10.88" height="19.52" fill="url(#gLd)"/><rect x="140.62" y="462.9" width="10.88" height="19.52" fill="url(#pW)" mask="url(#mD)"/><rect x="140.62" y="441.55" width="10.88" height="1.1" fill="#b3262a"/><rect x="151.51" y="420.5" width="10.44" height="41.6" fill="#157cf2"/><rect x="151.51" y="416.98" width="10.44" height="3.52" fill="url(#gDu)"/><rect x="151.51" y="416.98" width="10.44" height="3.52" fill="url(#pW)" mask="url(#mU)"/><rect x="151.51" y="462.1" width="10.44" height="20.32" fill="url(#gDd)"/><rect x="151.51" y="462.1" width="10.44" height="20.32" fill="url(#pW)" mask="url(#mD)"/><rect x="151.51" y="440.75" width="10.44" height="1.1" fill="#b3262a"/><rect x="161.95" y="420.5" width="10.4" height="40.8" fill="#52b6fa"/><rect x="161.95" y="416.98" width="10.4" height="3.52" fill="url(#gLu)"/><rect x="161.95" y="416.98" width="10.4" height="3.52" fill="url(#pW)" mask="url(#mU)"/><rect x="161.95" y="461.3" width="10.4" height="20.8" fill="url(#gLd)"/><rect x="161.95" y="461.3" width="10.4" height="20.8" fill="url(#pW)" mask="url(#mD)"/><rect x="172.35" y="420.5" width="10.32" height="41.6" fill="#157cf2"/><rect x="172.35" y="416.98" width="10.32" height="3.52" fill="url(#gDu)"/><rect x="172.35" y="416.98" width="10.32" height="3.52" fill="url(#pW)" mask="url(#mU)"/><rect x="172.35" y="462.1" width="10.32" height="20.32" fill="url(#gDd)"/><rect x="172.35" y="462.1" width="10.32" height="20.32" fill="url(#pW)" mask="url(#mD)"/><rect x="172.35" y="440.75" width="10.32" height="1.1" fill="#b3262a"/><rect x="182.67" y="427.7" width="8.88" height="41.6" fill="#52b6fa"/><rect x="182.67" y="424.18" width="8.88" height="3.52" fill="url(#gLu)"/><rect x="182.67" y="424.18" width="8.88" height="3.52" fill="url(#pW)" mask="url(#mU)"/><rect x="182.67" y="469.3" width="8.88" height="13.12" fill="url(#gLd)"/><rect x="182.67" y="469.3" width="8.88" height="13.12" fill="url(#pW)" mask="url(#mD)"/><rect x="182.67" y="447.95" width="8.88" height="1.1" fill="#b3262a"/><rect x="191.55" y="420.5" width="8.27" height="41.6" fill="#157cf2"/><rect x="191.55" y="416.98" width="8.27" height="3.52" fill="url(#gDu)"/><rect x="191.55" y="416.98" width="8.27" height="3.52" fill="url(#pW)" mask="url(#mU)"/><rect x="191.55" y="462.1" width="8.27" height="20.32" fill="url(#gDd)"/><rect x="191.55" y="462.1" width="8.27" height="20.32" fill="url(#pW)" mask="url(#mD)"/><rect x="191.55" y="440.75" width="8.27" height="1.1" fill="#b3262a"/><rect x="199.82" y="424.5" width="7.9" height="41.6" fill="#52b6fa"/><rect x="199.82" y="420.98" width="7.9" height="3.52" fill="url(#gLu)"/><rect x="199.82" y="420.98" width="7.9" height="3.52" fill="url(#pW)" mask="url(#mU)"/><rect x="199.82" y="466.1" width="7.9" height="16.32" fill="url(#gLd)"/><rect x="199.82" y="466.1" width="7.9" height="16.32" fill="url(#pW)" mask="url(#mD)"/><rect x="199.82" y="444.75" width="7.9" height="1.1" fill="#b3262a"/><rect x="207.72" y="414.9" width="6.96" height="41.6" fill="#157cf2"/><rect x="207.72" y="411.38" width="6.96" height="3.52" fill="url(#gDu)"/><rect x="207.72" y="411.38" width="6.96" height="3.52" fill="url(#pW)" mask="url(#mU)"/><rect x="207.72" y="456.5" width="6.96" height="20.8" fill="url(#gDd)"/><rect x="207.72" y="456.5" width="6.96" height="20.8" fill="url(#pW)" mask="url(#mD)"/><rect x="207.72" y="435.15" width="6.96" height="1.1" fill="#b3262a"/><rect x="214.68" y="411.7" width="6.26" height="41.6" fill="#52b6fa"/><rect x="214.68" y="408.18" width="6.26" height="3.52" fill="url(#gLu)"/><rect x="214.68" y="408.18" width="6.26" height="3.52" fill="url(#pW)" mask="url(#mU)"/><rect x="214.68" y="453.3" width="6.26" height="20.8" fill="url(#gLd)"/><rect x="214.68" y="453.3" width="6.26" height="20.8" fill="url(#pW)" mask="url(#mD)"/><rect x="214.68" y="431.95" width="6.26" height="1.1" fill="#b3262a"/><rect x="220.94" y="420.5" width="6.02" height="41.6" fill="#157cf2"/><rect x="220.94" y="416.98" width="6.02" height="3.52" fill="url(#gDu)"/><rect x="220.94" y="416.98" width="6.02" height="3.52" fill="url(#pW)" mask="url(#mU)"/><rect x="220.94" y="462.1" width="6.02" height="20.32" fill="url(#gDd)"/><rect x="220.94" y="462.1" width="6.02" height="20.32" fill="url(#pW)" mask="url(#mD)"/><rect x="220.94" y="440.75" width="6.02" height="1.1" fill="#b3262a"/><rect x="226.96" y="414.9" width="4.55" height="41.6" fill="#52b6fa"/><rect x="226.96" y="411.38" width="4.55" height="3.52" fill="url(#gLu)"/><rect x="226.96" y="411.38" width="4.55" height="3.52" fill="url(#pW)" mask="url(#mU)"/><rect x="226.96" y="456.5" width="4.55" height="20.8" fill="url(#gLd)"/><rect x="226.96" y="456.5" width="4.55" height="20.8" fill="url(#pW)" mask="url(#mD)"/><rect x="226.96" y="435.15" width="4.55" height="1.1" fill="#b3262a"/><rect x="231.51" y="414.9" width="4.86" height="41.6" fill="#157cf2"/><rect x="231.51" y="411.38" width="4.86" height="3.52" fill="url(#gDu)"/><rect x="231.51" y="411.38" width="4.86" height="3.52" fill="url(#pW)" mask="url(#mU)"/><rect x="231.51" y="456.5" width="4.86" height="20.8" fill="url(#gDd)"/><rect x="231.51" y="456.5" width="4.86" height="20.8" fill="url(#pW)" mask="url(#mD)"/><rect x="231.51" y="435.15" width="4.86" height="1.1" fill="#b3262a"/><rect x="236.37" y="421.3" width="3.71" height="41.6" fill="#52b6fa"/><rect x="236.37" y="417.78" width="3.71" height="3.52" fill="url(#gLu)"/><rect x="236.37" y="417.78" width="3.71" height="3.52" fill="url(#pW)" mask="url(#mU)"/><rect x="236.37" y="462.9" width="3.71" height="19.52" fill="url(#gLd)"/><rect x="236.37" y="462.9" width="3.71" height="19.52" fill="url(#pW)" mask="url(#mD)"/><rect x="236.37" y="441.55" width="3.71" height="1.1" fill="#b3262a"/><rect x="240.08" y="420.5" width="3.95" height="41.6" fill="#157cf2"/><rect x="240.08" y="416.98" width="3.95" height="3.52" fill="url(#gDu)"/><rect x="240.08" y="416.98" width="3.95" height="3.52" fill="url(#pW)" mask="url(#mU)"/><rect x="240.08" y="462.1" width="3.95" height="20.32" fill="url(#gDd)"/><rect x="240.08" y="462.1" width="3.95" height="20.32" fill="url(#pW)" mask="url(#mD)"/><rect x="240.08" y="440.75" width="3.95" height="1.1" fill="#b3262a"/><rect x="244.03" y="420.5" width="11.97" height="40.8" fill="#52b6fa"/><rect x="244.03" y="416.98" width="11.97" height="3.52" fill="url(#gLu)"/><rect x="244.03" y="416.98" width="11.97" height="3.52" fill="url(#pW)" mask="url(#mU)"/><rect x="244.03" y="461.3" width="11.97" height="20.8" fill="url(#gLd)"/><rect x="244.03" y="461.3" width="11.97" height="20.8" fill="url(#pW)" mask="url(#mD)"/><rect x="61" y="383" width="5" height="21" fill="url(#ampL)"/><rect x="67.5" y="383" width="3.5" height="21" fill="url(#ampL)"/><rect x="72" y="383" width="3" height="21" fill="url(#ampL)"/><rect x="160.8" y="381" width="11.2" height="28" fill="url(#ampL)"/><rect x="243.5" y="380" width="12.3" height="30" fill="url(#ampL)" opacity="0.6"/><path d="M27.8 482.8h0.8v0.8h-0.8zM26.2 412.6h0.8v0.8h-0.8zM27.2 415.6h0.8v0.8h-0.8zM33.6 478.6h0.8v0.8h-0.8zM37.8 412.2h0.8v0.8h-0.8zM40.1 410.8h0.8v0.8h-0.8zM41.1 479.2h0.8v0.8h-0.8zM40.9 481.7h0.8v0.8h-0.8zM34 481.9h0.8v0.8h-0.8zM40.9 479.2h0.8v0.8h-0.8zM61.3 411.7h0.8v0.8h-0.8zM74 402.5h0.8v0.8h-0.8zM68.3 414.8h0.8v0.8h-0.8zM62.7 416.1h0.8v0.8h-0.8zM70.5 482.7h0.8v0.8h-0.8zM66.1 411.9h0.8v0.8h-0.8zM60.8 482.2h0.8v0.8h-0.8zM67.5 482.5h0.8v0.8h-0.8zM72 413.8h0.8v0.8h-0.8zM96.7 481.9h0.8v0.8h-0.8zM94 481.5h0.8v0.8h-0.8zM98 407.7h0.8v0.8h-0.8zM93.4 480.1h0.8v0.8h-0.8zM101.3 483.2h0.8v0.8h-0.8zM94.8 482.4h0.8v0.8h-0.8zM101.5 401.8h0.8v0.8h-0.8zM103.3 480.5h0.8v0.8h-0.8zM96.6 482.2h0.8v0.8h-0.8zM121.7 481h0.8v0.8h-0.8zM120 478.1h0.8v0.8h-0.8zM122 409.2h0.8v0.8h-0.8zM118.5 479.6h0.8v0.8h-0.8zM117.5 478.4h0.8v0.8h-0.8zM123.8 407.3h0.8v0.8h-0.8zM128.8 479.8h0.8v0.8h-0.8zM127 479.6h0.8v0.8h-0.8zM118.8 480.8h0.8v0.8h-0.8zM146 414.2h0.8v0.8h-0.8zM143.5 392.6h0.8v0.8h-0.8zM171.4 414.2h0.8v0.8h-0.8zM170.8 415h0.8v0.8h-0.8zM170.6 406.8h0.8v0.8h-0.8zM169.2 415.1h0.8v0.8h-0.8zM170.1 482.6h0.8v0.8h-0.8zM165.4 412h0.8v0.8h-0.8zM170.4 415.5h0.8v0.8h-0.8zM186 423.8h0.8v0.8h-0.8zM183.9 422.1h0.8v0.8h-0.8zM186 417.5h0.8v0.8h-0.8zM206.1 413.8h0.8v0.8h-0.8zM200.2 404h0.8v0.8h-0.8zM205.2 420.3h0.8v0.8h-0.8zM217.2 408h0.8v0.8h-0.8zM215.9 395.9h0.8v0.8h-0.8zM217.7 474.1h0.8v0.8h-0.8zM217.6 477.2h0.8v0.8h-0.8zM217.4 474.4h0.8v0.8h-0.8zM227.1 478.8h0.8v0.8h-0.8zM231.2 480.9h0.8v0.8h-0.8zM229.1 477.7h0.8v0.8h-0.8zM244.1 408.5h0.8v0.8h-0.8zM248.9 412.5h0.8v0.8h-0.8zM245.2 404.2h0.8v0.8h-0.8zM249.9 482.3h0.8v0.8h-0.8zM246.9 414.1h0.8v0.8h-0.8zM244.8 414h0.8v0.8h-0.8zM247.7 416.8h0.8v0.8h-0.8zM255.7 413h0.8v0.8h-0.8zM63 391.4h0.8v0.8h-0.8zM61.4 381.8h0.8v0.8h-0.8zM61.5 391.8h0.8v0.8h-0.8zM65.6 394.3h0.8v0.8h-0.8zM65.3 377.4h0.8v0.8h-0.8zM61.1 391.7h0.8v0.8h-0.8zM63.4 393.1h0.8v0.8h-0.8zM62.9 395.5h0.8v0.8h-0.8zM64.6 408.2h0.8v0.8h-0.8zM62.5 387.8h0.8v0.8h-0.8zM65.1 377.9h0.8v0.8h-0.8zM61.6 381.7h0.8v0.8h-0.8zM61.4 402h0.8v0.8h-0.8zM65.1 381.8h0.8v0.8h-0.8zM61.6 371.6h0.8v0.8h-0.8zM62.2 371.7h0.8v0.8h-0.8zM63.1 393.4h0.8v0.8h-0.8zM62.2 370.7h0.8v0.8h-0.8zM64.5 370.1h0.8v0.8h-0.8zM62 380.6h0.8v0.8h-0.8zM62.9 372.3h0.8v0.8h-0.8zM63.1 381.8h0.8v0.8h-0.8zM64.8 392.5h0.8v0.8h-0.8zM65.5 396.8h0.8v0.8h-0.8zM64.8 393.3h0.8v0.8h-0.8zM69 403.9h0.8v0.8h-0.8zM69.8 410h0.8v0.8h-0.8zM70 398.9h0.8v0.8h-0.8zM68.4 403.7h0.8v0.8h-0.8zM68.8 373.7h0.8v0.8h-0.8zM67.7 375.5h0.8v0.8h-0.8zM68.4 397.7h0.8v0.8h-0.8zM68.5 370.8h0.8v0.8h-0.8zM70.2 392.5h0.8v0.8h-0.8zM67.6 370.2h0.8v0.8h-0.8zM68 383.7h0.8v0.8h-0.8zM70.5 409.8h0.8v0.8h-0.8zM69.6 378.2h0.8v0.8h-0.8zM69 383.9h0.8v0.8h-0.8zM68.7 368.5h0.8v0.8h-0.8zM69.5 404.4h0.8v0.8h-0.8zM70 372.2h0.8v0.8h-0.8zM69.4 375.5h0.8v0.8h-0.8zM70 387.6h0.8v0.8h-0.8zM70.8 403h0.8v0.8h-0.8zM67.9 382h0.8v0.8h-0.8zM70.7 388.3h0.8v0.8h-0.8zM69 387.4h0.8v0.8h-0.8zM70.2 409.2h0.8v0.8h-0.8zM69.4 410.7h0.8v0.8h-0.8zM73.8 372.6h0.8v0.8h-0.8zM74.4 386.5h0.8v0.8h-0.8zM72.2 411h0.8v0.8h-0.8zM72.1 393.4h0.8v0.8h-0.8zM73.4 406.8h0.8v0.8h-0.8zM73.2 377.5h0.8v0.8h-0.8zM72.8 376.9h0.8v0.8h-0.8zM73.7 383.7h0.8v0.8h-0.8zM74.3 378.6h0.8v0.8h-0.8zM73.1 378.9h0.8v0.8h-0.8zM74.9 405h0.8v0.8h-0.8zM74.5 395.2h0.8v0.8h-0.8zM73.2 374.3h0.8v0.8h-0.8zM74.5 389.6h0.8v0.8h-0.8zM72.1 375.5h0.8v0.8h-0.8zM72.3 399.6h0.8v0.8h-0.8zM74.7 376.8h0.8v0.8h-0.8zM74.4 382.3h0.8v0.8h-0.8zM74 406h0.8v0.8h-0.8zM73.9 403.2h0.8v0.8h-0.8zM73.1 368.4h0.8v0.8h-0.8zM73.5 393.8h0.8v0.8h-0.8zM72.6 385.1h0.8v0.8h-0.8zM73 369.2h0.8v0.8h-0.8zM72.9 384.8h0.8v0.8h-0.8zM166.1 402.1h0.8v0.8h-0.8zM165.3 413.3h0.8v0.8h-0.8zM169.9 411h0.8v0.8h-0.8zM168.6 400.8h0.8v0.8h-0.8zM166.8 405.9h0.8v0.8h-0.8zM164.9 397.7h0.8v0.8h-0.8zM168.4 394.9h0.8v0.8h-0.8zM164 377.1h0.8v0.8h-0.8zM161.8 388.2h0.8v0.8h-0.8zM167.3 404.4h0.8v0.8h-0.8zM168.8 386.3h0.8v0.8h-0.8zM171.2 385h0.8v0.8h-0.8zM168.8 376.9h0.8v0.8h-0.8zM169.2 400.8h0.8v0.8h-0.8zM171.5 409.9h0.8v0.8h-0.8zM168.5 407.5h0.8v0.8h-0.8zM169.1 398.4h0.8v0.8h-0.8zM163.1 394.7h0.8v0.8h-0.8zM170.8 383.6h0.8v0.8h-0.8zM171.7 395.8h0.8v0.8h-0.8zM165.2 374.1h0.8v0.8h-0.8zM165.2 381.1h0.8v0.8h-0.8zM168.1 410h0.8v0.8h-0.8zM171 398.5h0.8v0.8h-0.8zM165.1 378.4h0.8v0.8h-0.8zM168.5 396.1h0.8v0.8h-0.8zM168.8 389h0.8v0.8h-0.8zM170.7 382.5h0.8v0.8h-0.8zM164.2 384.7h0.8v0.8h-0.8zM167.8 409.9h0.8v0.8h-0.8zM162.7 399.3h0.8v0.8h-0.8zM169.4 383h0.8v0.8h-0.8zM161.5 396.6h0.8v0.8h-0.8zM170.1 409.1h0.8v0.8h-0.8zM169 390.7h0.8v0.8h-0.8zM165.6 395.2h0.8v0.8h-0.8zM170.9 386.1h0.8v0.8h-0.8zM163.9 398.2h0.8v0.8h-0.8zM171.6 381.5h0.8v0.8h-0.8zM161.1 378.6h0.8v0.8h-0.8zM250.4 395.4h0.8v0.8h-0.8zM245.8 375.9h0.8v0.8h-0.8zM250.8 397.4h0.8v0.8h-0.8zM252 401.3h0.8v0.8h-0.8zM244.3 389.8h0.8v0.8h-0.8zM253.8 412h0.8v0.8h-0.8zM247.4 407h0.8v0.8h-0.8zM251.4 410.6h0.8v0.8h-0.8zM246.3 399.7h0.8v0.8h-0.8zM253.8 389.4h0.8v0.8h-0.8zM244.7 376.1h0.8v0.8h-0.8zM245.4 371.4h0.8v0.8h-0.8zM245.4 395.9h0.8v0.8h-0.8zM244.8 402.6h0.8v0.8h-0.8zM252.6 405.4h0.8v0.8h-0.8zM253.4 400.5h0.8v0.8h-0.8zM254.9 412h0.8v0.8h-0.8zM251.2 412.4h0.8v0.8h-0.8zM244.8 371.8h0.8v0.8h-0.8zM244.3 376.7h0.8v0.8h-0.8zM248.1 388.6h0.8v0.8h-0.8zM251.9 401.9h0.8v0.8h-0.8zM244.5 386h0.8v0.8h-0.8zM250.2 384.6h0.8v0.8h-0.8zM244.9 395.1h0.8v0.8h-0.8zM248.1 399.1h0.8v0.8h-0.8zM249.6 412.2h0.8v0.8h-0.8zM255.1 370.4h0.8v0.8h-0.8zM252.8 400.9h0.8v0.8h-0.8zM247.1 372.5h0.8v0.8h-0.8zM249.4 383.6h0.8v0.8h-0.8zM252.6 410.2h0.8v0.8h-0.8zM248.2 380.7h0.8v0.8h-0.8zM249.6 399.8h0.8v0.8h-0.8zM253.2 394.1h0.8v0.8h-0.8zM247.1 382.8h0.8v0.8h-0.8zM253.9 391.4h0.8v0.8h-0.8zM244.1 386.8h0.8v0.8h-0.8zM246.4 398.3h0.8v0.8h-0.8zM244.4 379.7h0.8v0.8h-0.8zM244.7 389.4h0.8v0.8h-0.8zM255.6 392.4h0.8v0.8h-0.8zM248.3 410.9h0.8v0.8h-0.8zM244.6 383.7h0.8v0.8h-0.8zM253.5 367.2h0.8v0.8h-0.8zM252.9 384h0.8v0.8h-0.8zM243.7 378.8h0.8v0.8h-0.8zM249.1 385h0.8v0.8h-0.8zM249.9 369.5h0.8v0.8h-0.8zM246.2 412.8h0.8v0.8h-0.8zM248.9 389.2h0.8v0.8h-0.8zM244.5 380.1h0.8v0.8h-0.8zM255.2 399.3h0.8v0.8h-0.8zM249.7 369.5h0.8v0.8h-0.8zM248.3 403.6h0.8v0.8h-0.8zM248.8 394.9h0.8v0.8h-0.8zM254.6 397.3h0.8v0.8h-0.8zM251.3 368.7h0.8v0.8h-0.8zM243.8 403.2h0.8v0.8h-0.8zM248.6 408.1h0.8v0.8h-0.8zM253.7 410h0.8v0.8h-0.8zM248.2 414h0.8v0.8h-0.8zM252.8 408.9h0.8v0.8h-0.8zM245.3 403.7h0.8v0.8h-0.8zM248.7 412.7h0.8v0.8h-0.8zM255.7 377.2h0.8v0.8h-0.8zM248.7 379.7h0.8v0.8h-0.8zM249.3 380.5h0.8v0.8h-0.8zM251.7 372.8h0.8v0.8h-0.8zM245.6 388.5h0.8v0.8h-0.8zM244.4 384.9h0.8v0.8h-0.8zM254.5 408.6h0.8v0.8h-0.8zM245.9 367.9h0.8v0.8h-0.8zM253.7 412.2h0.8v0.8h-0.8zM250.9 373.4h0.8v0.8h-0.8zM246.4 410.2h0.8v0.8h-0.8zM255 368.5h0.8v0.8h-0.8zM245.8 387.2h0.8v0.8h-0.8zM246.8 402.4h0.8v0.8h-0.8zM248.1 403.4h0.8v0.8h-0.8zM245.4 391.4h0.8v0.8h-0.8zM255.5 400h0.8v0.8h-0.8zM244.6 372.2h0.8v0.8h-0.8zM251.4 384.6h0.8v0.8h-0.8zM248 389.5h0.8v0.8h-0.8zM250.7 412.4h0.8v0.8h-0.8zM246.5 393.7h0.8v0.8h-0.8zM246.7 392.6h0.8v0.8h-0.8zM252.5 373.3h0.8v0.8h-0.8zM249.4 400.2h0.8v0.8h-0.8z" fill="#52b6fa"/><path d="M48 416.1h0.8v0.8h-0.8zM42.4 411.8h0.8v0.8h-0.8zM42.3 482.5h0.8v0.8h-0.8zM55.3 482.5h0.8v0.8h-0.8zM56 412.1h0.8v0.8h-0.8zM41.4 415.9h0.8v0.8h-0.8zM59.1 409.1h0.8v0.8h-0.8zM57.3 400.7h0.8v0.8h-0.8zM81.2 414.3h0.8v0.8h-0.8zM82.6 416.5h0.8v0.8h-0.8zM108.2 402.9h0.8v0.8h-0.8zM107.3 479h0.8v0.8h-0.8zM107.6 480.5h0.8v0.8h-0.8zM108.2 410.4h0.8v0.8h-0.8zM113 483.2h0.8v0.8h-0.8zM114.8 482.6h0.8v0.8h-0.8zM113.2 422.3h0.8v0.8h-0.8zM110.8 421.5h0.8v0.8h-0.8zM111.2 419.1h0.8v0.8h-0.8zM133.3 482.4h0.8v0.8h-0.8zM133.6 416.3h0.8v0.8h-0.8zM134 394.5h0.8v0.8h-0.8zM157.1 415h0.8v0.8h-0.8zM159.3 482.5h0.8v0.8h-0.8zM160.8 482.5h0.8v0.8h-0.8zM159.6 412.2h0.8v0.8h-0.8zM182.7 482.6h0.8v0.8h-0.8zM181 411.2h0.8v0.8h-0.8zM182.2 482.9h0.8v0.8h-0.8zM175.4 482.9h0.8v0.8h-0.8zM178.7 416h0.8v0.8h-0.8zM178.8 416.3h0.8v0.8h-0.8zM197.8 482.9h0.8v0.8h-0.8zM193.5 409.5h0.8v0.8h-0.8zM192.3 482.7h0.8v0.8h-0.8zM209.4 406.1h0.8v0.8h-0.8zM210.1 410.6h0.8v0.8h-0.8zM213.5 482.5h0.8v0.8h-0.8zM210.7 479.6h0.8v0.8h-0.8zM211.8 481.6h0.8v0.8h-0.8zM221.9 414.4h0.8v0.8h-0.8zM223.3 482.9h0.8v0.8h-0.8zM222.5 416h0.8v0.8h-0.8zM222.7 413.3h0.8v0.8h-0.8zM234.8 405.1h0.8v0.8h-0.8zM235.1 410.1h0.8v0.8h-0.8zM231.6 410.9h0.8v0.8h-0.8zM243 483h0.8v0.8h-0.8zM242.6 396.2h0.8v0.8h-0.8z" fill="#157cf2"/><rect x="60" y="428.7" width="15" height="2.6" fill="#c41e24" opacity="0.9"/><rect x="60" y="444.7" width="15" height="2.6" fill="#c41e24" opacity="0.9"/><rect x="161" y="425.7" width="11" height="2.6" fill="#c41e24" opacity="0.9"/><rect x="161" y="443.7" width="11" height="2.6" fill="#c41e24" opacity="0.9"/><rect x="243.5" y="428.7" width="12.5" height="2.6" fill="#c41e24" opacity="0.9"/><rect x="243.5" y="444.7" width="12.5" height="2.6" fill="#c41e24" opacity="0.9"/><rect x="61" y="395.7" width="14" height="2.6" fill="#c41e24" opacity="0.9"/><rect x="161" y="393.7" width="11" height="2.6" fill="#c41e24" opacity="0.9"/><rect x="244" y="395.7" width="12" height="2.6" fill="#c41e24" opacity="0.9"/><path d="M60.1 430.2h0.9v0.9h-0.9zM67.6 428.5h0.9v0.9h-0.9zM69.2 430.1h0.9v0.9h-0.9zM67.5 429.5h0.9v0.9h-0.9zM60.6 429h0.9v0.9h-0.9zM60.3 430.9h0.9v0.9h-0.9zM64.5 427.9h0.9v0.9h-0.9zM73.9 430.7h0.9v0.9h-0.9zM65.6 427.7h0.9v0.9h-0.9zM74.1 429.6h0.9v0.9h-0.9zM74.2 431.3h0.9v0.9h-0.9zM62.5 429.9h0.9v0.9h-0.9zM74 431.4h0.9v0.9h-0.9zM71 430.8h0.9v0.9h-0.9zM67.9 427.4h0.9v0.9h-0.9zM64.5 432.2h0.9v0.9h-0.9zM68.3 430.4h0.9v0.9h-0.9zM65.3 429.3h0.9v0.9h-0.9zM67.4 429.1h0.9v0.9h-0.9zM66.8 429.6h0.9v0.9h-0.9zM60.9 431.2h0.9v0.9h-0.9zM62.2 430.7h0.9v0.9h-0.9zM74.5 429.9h0.9v0.9h-0.9zM71.8 431.2h0.9v0.9h-0.9zM71.1 429.8h0.9v0.9h-0.9zM69.4 432.8h0.9v0.9h-0.9zM65.8 429.2h0.9v0.9h-0.9zM64 429.2h0.9v0.9h-0.9zM73.1 427h0.9v0.9h-0.9zM62.7 431.2h0.9v0.9h-0.9zM62.1 432.3h0.9v0.9h-0.9zM68.4 430.8h0.9v0.9h-0.9zM60.1 432.7h0.9v0.9h-0.9zM67.4 430.8h0.9v0.9h-0.9zM73.1 431.9h0.9v0.9h-0.9zM61.8 430.5h0.9v0.9h-0.9zM70.8 428.4h0.9v0.9h-0.9zM63.3 428.7h0.9v0.9h-0.9zM74.2 430.4h0.9v0.9h-0.9zM70.3 430.4h0.9v0.9h-0.9zM61.4 431.5h0.9v0.9h-0.9zM69.7 430.7h0.9v0.9h-0.9zM73.4 429.9h0.9v0.9h-0.9zM69.6 429.4h0.9v0.9h-0.9zM72.7 431.8h0.9v0.9h-0.9zM63.9 431.7h0.9v0.9h-0.9zM64.5 432.5h0.9v0.9h-0.9zM67.7 430h0.9v0.9h-0.9zM73.5 429.1h0.9v0.9h-0.9zM63.2 430.2h0.9v0.9h-0.9zM64 431h0.9v0.9h-0.9zM61.3 429.7h0.9v0.9h-0.9zM65.3 431.4h0.9v0.9h-0.9zM69.3 430.8h0.9v0.9h-0.9zM69.8 430.4h0.9v0.9h-0.9zM67.4 430.7h0.9v0.9h-0.9zM70.3 428.1h0.9v0.9h-0.9zM73.7 430.6h0.9v0.9h-0.9zM62.2 429.8h0.9v0.9h-0.9zM68 431.7h0.9v0.9h-0.9zM73.5 443.9h0.9v0.9h-0.9zM66.3 445.2h0.9v0.9h-0.9zM71.8 446.6h0.9v0.9h-0.9zM61.6 444.9h0.9v0.9h-0.9zM63.9 444h0.9v0.9h-0.9zM64 448.5h0.9v0.9h-0.9zM69.4 443.6h0.9v0.9h-0.9zM61.7 443.1h0.9v0.9h-0.9zM71.5 445.6h0.9v0.9h-0.9zM69.5 446.6h0.9v0.9h-0.9zM72.7 445.6h0.9v0.9h-0.9zM74.6 445.8h0.9v0.9h-0.9zM65.8 444.4h0.9v0.9h-0.9zM63.9 444.2h0.9v0.9h-0.9zM66.1 445.7h0.9v0.9h-0.9zM61 446.6h0.9v0.9h-0.9zM70.8 443.4h0.9v0.9h-0.9zM60.9 447.6h0.9v0.9h-0.9zM64.5 447.5h0.9v0.9h-0.9zM71.9 449.3h0.9v0.9h-0.9zM73.4 445.3h0.9v0.9h-0.9zM66.2 446h0.9v0.9h-0.9zM63.4 447.9h0.9v0.9h-0.9zM64.3 446.3h0.9v0.9h-0.9zM61.6 442.5h0.9v0.9h-0.9zM74.2 445.7h0.9v0.9h-0.9zM67 448.1h0.9v0.9h-0.9zM61.7 447.5h0.9v0.9h-0.9zM68.1 449.8h0.9v0.9h-0.9zM68.1 448.2h0.9v0.9h-0.9zM66.6 445.7h0.9v0.9h-0.9zM74.6 447.9h0.9v0.9h-0.9zM66.4 446.5h0.9v0.9h-0.9zM73.8 447.7h0.9v0.9h-0.9zM65.7 443.8h0.9v0.9h-0.9zM64.9 443.5h0.9v0.9h-0.9zM72.2 445.2h0.9v0.9h-0.9zM60.8 445.9h0.9v0.9h-0.9zM74.1 444.4h0.9v0.9h-0.9zM73.8 446.3h0.9v0.9h-0.9zM68.6 444.8h0.9v0.9h-0.9zM71.2 446h0.9v0.9h-0.9zM63.8 443.5h0.9v0.9h-0.9zM69.1 446.5h0.9v0.9h-0.9zM62 446.7h0.9v0.9h-0.9zM70.9 448.2h0.9v0.9h-0.9zM61.5 446.8h0.9v0.9h-0.9zM62.5 446h0.9v0.9h-0.9zM61.3 444h0.9v0.9h-0.9zM72.9 446.7h0.9v0.9h-0.9zM62.4 445.8h0.9v0.9h-0.9zM68.7 445.3h0.9v0.9h-0.9zM63.8 445.7h0.9v0.9h-0.9zM70.8 446.4h0.9v0.9h-0.9zM61.8 446.1h0.9v0.9h-0.9zM68.9 444.6h0.9v0.9h-0.9zM69.6 443h0.9v0.9h-0.9zM73.8 446.2h0.9v0.9h-0.9zM64.2 444.5h0.9v0.9h-0.9zM62 448.7h0.9v0.9h-0.9zM165.6 423.5h0.9v0.9h-0.9zM162.4 429.1h0.9v0.9h-0.9zM168.2 427.1h0.9v0.9h-0.9zM161 424.6h0.9v0.9h-0.9zM171.4 425.9h0.9v0.9h-0.9zM168.3 429.7h0.9v0.9h-0.9zM165.6 428.2h0.9v0.9h-0.9zM164.7 425.1h0.9v0.9h-0.9zM169.1 424.6h0.9v0.9h-0.9zM167.8 426.9h0.9v0.9h-0.9zM169.8 427.9h0.9v0.9h-0.9zM161 428.5h0.9v0.9h-0.9zM169.7 427.4h0.9v0.9h-0.9zM161.5 424.2h0.9v0.9h-0.9zM166.9 426.3h0.9v0.9h-0.9zM163.2 427.1h0.9v0.9h-0.9zM171.7 427.7h0.9v0.9h-0.9zM170.1 426.1h0.9v0.9h-0.9zM168.2 425.4h0.9v0.9h-0.9zM163.5 428.4h0.9v0.9h-0.9zM164 429.2h0.9v0.9h-0.9zM167.4 427.1h0.9v0.9h-0.9zM169.2 425.4h0.9v0.9h-0.9zM164.4 427h0.9v0.9h-0.9zM169.1 425.6h0.9v0.9h-0.9zM169.3 428.4h0.9v0.9h-0.9zM165.9 426.8h0.9v0.9h-0.9zM163.9 426.5h0.9v0.9h-0.9zM170.2 427.3h0.9v0.9h-0.9zM161.2 427.4h0.9v0.9h-0.9zM169.4 428.3h0.9v0.9h-0.9zM165.8 428h0.9v0.9h-0.9zM169.8 425.2h0.9v0.9h-0.9zM161.3 427.3h0.9v0.9h-0.9zM169.7 427.2h0.9v0.9h-0.9zM170.2 424.9h0.9v0.9h-0.9zM167.8 426.4h0.9v0.9h-0.9zM167.8 424.1h0.9v0.9h-0.9zM161.2 430.4h0.9v0.9h-0.9zM163.2 424h0.9v0.9h-0.9zM161.7 426.6h0.9v0.9h-0.9zM165.1 427.6h0.9v0.9h-0.9zM162 427h0.9v0.9h-0.9zM165.7 427.1h0.9v0.9h-0.9zM164.3 444.8h0.9v0.9h-0.9zM162.8 443.5h0.9v0.9h-0.9zM171.5 446.8h0.9v0.9h-0.9zM163.4 443.6h0.9v0.9h-0.9zM165.4 443.5h0.9v0.9h-0.9zM161.3 445.5h0.9v0.9h-0.9zM166 445.3h0.9v0.9h-0.9zM170.5 442.7h0.9v0.9h-0.9zM168.5 445.2h0.9v0.9h-0.9zM171.1 442h0.9v0.9h-0.9zM169.7 443.1h0.9v0.9h-0.9zM168.2 446.1h0.9v0.9h-0.9zM170.7 444.6h0.9v0.9h-0.9zM163.1 443.4h0.9v0.9h-0.9zM164.6 445h0.9v0.9h-0.9zM169.5 447.3h0.9v0.9h-0.9zM163.1 442.2h0.9v0.9h-0.9zM165 444.4h0.9v0.9h-0.9zM162 443.9h0.9v0.9h-0.9zM162.6 444.1h0.9v0.9h-0.9zM164.2 445.9h0.9v0.9h-0.9zM165.7 445h0.9v0.9h-0.9zM162.2 446.9h0.9v0.9h-0.9zM171.5 445.1h0.9v0.9h-0.9zM170.2 443.4h0.9v0.9h-0.9zM161.9 448h0.9v0.9h-0.9zM162.7 445.5h0.9v0.9h-0.9zM167.6 445h0.9v0.9h-0.9zM169.3 442.3h0.9v0.9h-0.9zM166 445.4h0.9v0.9h-0.9zM171.1 443.6h0.9v0.9h-0.9zM162.9 443.8h0.9v0.9h-0.9zM165.7 442.4h0.9v0.9h-0.9zM163.5 446h0.9v0.9h-0.9zM164.2 445.2h0.9v0.9h-0.9zM166.9 444.5h0.9v0.9h-0.9zM163.4 444h0.9v0.9h-0.9zM162 443.3h0.9v0.9h-0.9zM169 443.9h0.9v0.9h-0.9zM170.4 445.7h0.9v0.9h-0.9zM169.6 444.2h0.9v0.9h-0.9zM162.4 447.1h0.9v0.9h-0.9zM166.7 446.9h0.9v0.9h-0.9zM171.1 446.1h0.9v0.9h-0.9zM251.5 431.7h0.9v0.9h-0.9zM249.4 430.5h0.9v0.9h-0.9zM249 430.7h0.9v0.9h-0.9zM249.1 431h0.9v0.9h-0.9zM244.4 429.5h0.9v0.9h-0.9zM247.1 429h0.9v0.9h-0.9zM244.6 428.9h0.9v0.9h-0.9zM247.1 433.3h0.9v0.9h-0.9zM244.7 428h0.9v0.9h-0.9zM244.6 433h0.9v0.9h-0.9zM247.8 430.6h0.9v0.9h-0.9zM249.3 432.2h0.9v0.9h-0.9zM244.7 430.9h0.9v0.9h-0.9zM252.1 429h0.9v0.9h-0.9zM249.2 430.4h0.9v0.9h-0.9zM246.4 429.6h0.9v0.9h-0.9zM247.1 429.7h0.9v0.9h-0.9zM249.8 432.8h0.9v0.9h-0.9zM247.8 427.1h0.9v0.9h-0.9zM250.6 429.9h0.9v0.9h-0.9zM249.1 428.9h0.9v0.9h-0.9zM248.6 428.3h0.9v0.9h-0.9zM248.8 431.1h0.9v0.9h-0.9zM254.5 431.2h0.9v0.9h-0.9zM247.3 428.6h0.9v0.9h-0.9zM250.9 431.5h0.9v0.9h-0.9zM245.7 427.7h0.9v0.9h-0.9zM244 430.8h0.9v0.9h-0.9zM244.9 430.1h0.9v0.9h-0.9zM244.3 426.7h0.9v0.9h-0.9zM244.5 429.1h0.9v0.9h-0.9zM251.7 429.1h0.9v0.9h-0.9zM243.9 429.1h0.9v0.9h-0.9zM247.7 430.2h0.9v0.9h-0.9zM252.2 427.1h0.9v0.9h-0.9zM254 429.8h0.9v0.9h-0.9zM251.2 430.5h0.9v0.9h-0.9zM249.4 429.2h0.9v0.9h-0.9zM247.5 429.5h0.9v0.9h-0.9zM254.6 429.5h0.9v0.9h-0.9zM248.1 430.8h0.9v0.9h-0.9zM255.3 426.5h0.9v0.9h-0.9zM248.4 433.2h0.9v0.9h-0.9zM245.1 426h0.9v0.9h-0.9zM252.8 429.8h0.9v0.9h-0.9zM247 428.4h0.9v0.9h-0.9zM245.7 427h0.9v0.9h-0.9zM248.5 431.8h0.9v0.9h-0.9zM246.7 428.8h0.9v0.9h-0.9zM251.2 428.9h0.9v0.9h-0.9zM249.2 445.9h0.9v0.9h-0.9zM253.7 446.4h0.9v0.9h-0.9zM251.7 446.1h0.9v0.9h-0.9zM250.8 447.8h0.9v0.9h-0.9zM249.8 448.1h0.9v0.9h-0.9zM247.3 444.5h0.9v0.9h-0.9zM247.7 445.3h0.9v0.9h-0.9zM255.2 445.4h0.9v0.9h-0.9zM244.1 444.8h0.9v0.9h-0.9zM250.1 446h0.9v0.9h-0.9zM244.1 446.7h0.9v0.9h-0.9zM253.4 450.4h0.9v0.9h-0.9zM246.3 445.6h0.9v0.9h-0.9zM245 446.1h0.9v0.9h-0.9zM245.9 447.3h0.9v0.9h-0.9zM246.6 445.9h0.9v0.9h-0.9zM244.3 449.8h0.9v0.9h-0.9zM252.8 449.1h0.9v0.9h-0.9zM255 447.3h0.9v0.9h-0.9zM246.7 443.8h0.9v0.9h-0.9zM245.6 445.9h0.9v0.9h-0.9zM245.7 446.5h0.9v0.9h-0.9zM252.5 445.8h0.9v0.9h-0.9zM247.3 446h0.9v0.9h-0.9zM254.1 447.4h0.9v0.9h-0.9zM252.6 444h0.9v0.9h-0.9zM254.9 444.6h0.9v0.9h-0.9zM250.7 445.5h0.9v0.9h-0.9zM247 447.1h0.9v0.9h-0.9zM249.2 446.3h0.9v0.9h-0.9zM245 447h0.9v0.9h-0.9zM248.1 446.5h0.9v0.9h-0.9zM255.5 443.2h0.9v0.9h-0.9zM252.8 446.2h0.9v0.9h-0.9zM250.9 445.3h0.9v0.9h-0.9zM247.5 447.3h0.9v0.9h-0.9zM251.4 447.6h0.9v0.9h-0.9zM247.2 443.9h0.9v0.9h-0.9zM245.4 448h0.9v0.9h-0.9zM246.4 446.1h0.9v0.9h-0.9zM243.6 445.7h0.9v0.9h-0.9zM246.1 447h0.9v0.9h-0.9zM251.8 444.9h0.9v0.9h-0.9zM252.6 445.4h0.9v0.9h-0.9zM246.1 446.7h0.9v0.9h-0.9zM250.9 445.6h0.9v0.9h-0.9zM252.3 445.8h0.9v0.9h-0.9zM254.4 444.3h0.9v0.9h-0.9zM251.4 445.8h0.9v0.9h-0.9zM245.8 445.4h0.9v0.9h-0.9zM67.5 396.4h0.9v0.9h-0.9zM71.4 396.8h0.9v0.9h-0.9zM65.9 395.2h0.9v0.9h-0.9zM72.7 397.3h0.9v0.9h-0.9zM65.2 395.1h0.9v0.9h-0.9zM70.2 396.2h0.9v0.9h-0.9zM65.4 396.7h0.9v0.9h-0.9zM69.4 398.7h0.9v0.9h-0.9zM70 398.1h0.9v0.9h-0.9zM68.8 398.2h0.9v0.9h-0.9zM63.7 399.8h0.9v0.9h-0.9zM61.3 399.1h0.9v0.9h-0.9zM68 396.9h0.9v0.9h-0.9zM64.8 397.4h0.9v0.9h-0.9zM63.3 394.3h0.9v0.9h-0.9zM62.1 398.9h0.9v0.9h-0.9zM65.9 396.3h0.9v0.9h-0.9zM61.3 395h0.9v0.9h-0.9zM64.2 396.4h0.9v0.9h-0.9zM67.2 400.1h0.9v0.9h-0.9zM64.6 395.3h0.9v0.9h-0.9zM63.1 397.2h0.9v0.9h-0.9zM70.3 396.7h0.9v0.9h-0.9zM68.5 395.3h0.9v0.9h-0.9zM71.8 399h0.9v0.9h-0.9zM61.6 396.4h0.9v0.9h-0.9zM68.1 396.3h0.9v0.9h-0.9zM70.6 395.9h0.9v0.9h-0.9zM66.1 395.5h0.9v0.9h-0.9zM70.4 395.6h0.9v0.9h-0.9zM74 396.4h0.9v0.9h-0.9zM70.9 394.7h0.9v0.9h-0.9zM64.2 395.4h0.9v0.9h-0.9zM61.9 395.6h0.9v0.9h-0.9zM71.6 397.3h0.9v0.9h-0.9zM68.3 398.7h0.9v0.9h-0.9zM71.1 397.2h0.9v0.9h-0.9zM74.2 395.3h0.9v0.9h-0.9zM67.2 392.8h0.9v0.9h-0.9zM65.5 395.1h0.9v0.9h-0.9zM71 397.6h0.9v0.9h-0.9zM71.9 396.8h0.9v0.9h-0.9zM70.1 394.4h0.9v0.9h-0.9zM73 396.3h0.9v0.9h-0.9zM63.1 394.9h0.9v0.9h-0.9zM70.8 397.2h0.9v0.9h-0.9zM74.4 397.9h0.9v0.9h-0.9zM61.9 394.3h0.9v0.9h-0.9zM67 400.1h0.9v0.9h-0.9zM71.6 395.1h0.9v0.9h-0.9zM65.7 397.2h0.9v0.9h-0.9zM70.3 395.2h0.9v0.9h-0.9zM69.9 398.6h0.9v0.9h-0.9zM74.6 395.2h0.9v0.9h-0.9zM67.9 394.8h0.9v0.9h-0.9zM68.9 397.1h0.9v0.9h-0.9zM161.5 396.3h0.9v0.9h-0.9zM166.5 394.7h0.9v0.9h-0.9zM161.5 396.3h0.9v0.9h-0.9zM164.1 398.2h0.9v0.9h-0.9zM164.3 395.4h0.9v0.9h-0.9zM168.3 394h0.9v0.9h-0.9zM167.3 396.4h0.9v0.9h-0.9zM164.6 394h0.9v0.9h-0.9zM163.8 395h0.9v0.9h-0.9zM162.3 395h0.9v0.9h-0.9zM162.6 394h0.9v0.9h-0.9zM171.4 397.4h0.9v0.9h-0.9zM164.9 395h0.9v0.9h-0.9zM167.9 396.2h0.9v0.9h-0.9zM166.3 396.4h0.9v0.9h-0.9zM164 396.2h0.9v0.9h-0.9zM162.6 395.2h0.9v0.9h-0.9zM165.8 394.3h0.9v0.9h-0.9zM169.4 392.1h0.9v0.9h-0.9zM164.5 394.2h0.9v0.9h-0.9zM171.4 398.1h0.9v0.9h-0.9zM165.7 395.9h0.9v0.9h-0.9zM161 394.7h0.9v0.9h-0.9zM168.9 399.5h0.9v0.9h-0.9zM169.1 395.1h0.9v0.9h-0.9zM164.4 394.8h0.9v0.9h-0.9zM166.1 397.8h0.9v0.9h-0.9zM162.6 393.2h0.9v0.9h-0.9zM171.9 393.8h0.9v0.9h-0.9zM161.9 394.6h0.9v0.9h-0.9zM165.7 393.4h0.9v0.9h-0.9zM164.4 394.8h0.9v0.9h-0.9zM171.4 393.7h0.9v0.9h-0.9zM169.6 395.2h0.9v0.9h-0.9zM163.7 394.4h0.9v0.9h-0.9zM163.6 395.3h0.9v0.9h-0.9zM172 393.7h0.9v0.9h-0.9zM168.4 393.7h0.9v0.9h-0.9zM168.4 393.6h0.9v0.9h-0.9zM162.6 394.8h0.9v0.9h-0.9zM161.3 396.1h0.9v0.9h-0.9zM161.1 396.1h0.9v0.9h-0.9zM168.4 394.4h0.9v0.9h-0.9zM164.5 395.9h0.9v0.9h-0.9zM249.9 397.7h0.9v0.9h-0.9zM249.8 399.8h0.9v0.9h-0.9zM244.8 399.7h0.9v0.9h-0.9zM250.9 398.6h0.9v0.9h-0.9zM247.5 396.9h0.9v0.9h-0.9zM254.7 396.6h0.9v0.9h-0.9zM255.2 396.8h0.9v0.9h-0.9zM249.1 396.6h0.9v0.9h-0.9zM254 396.1h0.9v0.9h-0.9zM246.8 396.4h0.9v0.9h-0.9zM244.8 396.1h0.9v0.9h-0.9zM249.3 396.9h0.9v0.9h-0.9zM254.7 398.4h0.9v0.9h-0.9zM253.4 396h0.9v0.9h-0.9zM245.6 399.8h0.9v0.9h-0.9zM249.8 396h0.9v0.9h-0.9zM254.6 395.8h0.9v0.9h-0.9zM247.9 401h0.9v0.9h-0.9zM255.1 398.8h0.9v0.9h-0.9zM252.7 394h0.9v0.9h-0.9zM244.9 396.6h0.9v0.9h-0.9zM254.9 399.2h0.9v0.9h-0.9zM252.2 398.3h0.9v0.9h-0.9zM248.1 397.3h0.9v0.9h-0.9zM246.1 397.3h0.9v0.9h-0.9zM248.5 398.8h0.9v0.9h-0.9zM247.2 393.9h0.9v0.9h-0.9zM251.2 398.9h0.9v0.9h-0.9zM253 397.3h0.9v0.9h-0.9zM254.6 396.8h0.9v0.9h-0.9zM245.1 397.8h0.9v0.9h-0.9zM253 399.3h0.9v0.9h-0.9zM251.4 394.6h0.9v0.9h-0.9zM249.1 397.4h0.9v0.9h-0.9zM246.3 397.1h0.9v0.9h-0.9zM244.4 397.7h0.9v0.9h-0.9zM255.4 398.3h0.9v0.9h-0.9zM248.9 396.6h0.9v0.9h-0.9zM247.3 397.3h0.9v0.9h-0.9zM246 395.3h0.9v0.9h-0.9zM254.6 397.4h0.9v0.9h-0.9zM249.5 396.8h0.9v0.9h-0.9zM246.7 396.1h0.9v0.9h-0.9zM247.6 395.9h0.9v0.9h-0.9zM247.6 395.6h0.9v0.9h-0.9zM249.9 395.9h0.9v0.9h-0.9zM252.2 393.4h0.9v0.9h-0.9zM249.3 397.6h0.9v0.9h-0.9z" fill="#c8161c"/><circle cx="163" cy="386" r="1.2" fill="#ffe100" stroke="#8a7a00" stroke-width="0.3"/><circle cx="163" cy="390" r="1.2" fill="#ffe100" stroke="#8a7a00" stroke-width="0.3"/><circle cx="163" cy="394" r="1.2" fill="#ffe100" stroke="#8a7a00" stroke-width="0.3"/><circle cx="163" cy="398" r="1.2" fill="#ffe100" stroke="#8a7a00" stroke-width="0.3"/><circle cx="167" cy="389" r="1.2" fill="#ffe100" stroke="#8a7a00" stroke-width="0.3"/><circle cx="167" cy="393" r="1.2" fill="#ffe100" stroke="#8a7a00" stroke-width="0.3"/><circle cx="167" cy="398" r="1.2" fill="#ffe100" stroke="#8a7a00" stroke-width="0.3"/><circle cx="163" cy="429" r="1.2" fill="#ffe100" stroke="#8a7a00" stroke-width="0.3"/><circle cx="167" cy="428" r="1.2" fill="#ffe100" stroke="#8a7a00" stroke-width="0.3"/><text x="126" y="384.5" font-size="6.5" font-weight="bold" font-style="italic" stroke="#000" stroke-width="0.18">HRAS</text><text x="181.5" y="384.5" font-size="6.5" font-weight="bold" font-style="italic" stroke="#000" stroke-width="0.18">CCND1</text><polyline points="141,382.5 163,386" fill="none" stroke="#444" stroke-width="0.4"/><polyline points="182,382.5 167,389" fill="none" stroke="#444" stroke-width="0.4"/><text x="24" y="375.2" font-size="10" font-weight="bold" fill="#7f1787" stroke="#7f1787" stroke-width="0.18">A03</text><text x="17.5" y="379" font-size="7" text-anchor="end" stroke="#000" stroke-width="0.24">4</text><line x1="18.3" y1="376.5" x2="20.1" y2="376.5" stroke="#888" stroke-width="0.5"/><text x="17.5" y="411" font-size="7" text-anchor="end" stroke="#000" stroke-width="0.24">2</text><line x1="18.3" y1="408.5" x2="20.1" y2="408.5" stroke="#888" stroke-width="0.5"/><text x="17.5" y="443" font-size="7" text-anchor="end" stroke="#000" stroke-width="0.24">0</text><line x1="18.3" y1="440.5" x2="20.1" y2="440.5" stroke="#888" stroke-width="0.5"/><text x="17.5" y="475" font-size="7" text-anchor="end" stroke="#000" stroke-width="0.24">−2</text><line x1="18.3" y1="472.5" x2="20.1" y2="472.5" stroke="#888" stroke-width="0.5"/><line x1="31.61" y1="486" x2="31.61" y2="487.6" stroke="#888" stroke-width="0.4"/><line x1="50.58" y1="486" x2="50.58" y2="487.6" stroke="#888" stroke-width="0.4"/><line x1="67.58" y1="486" x2="67.58" y2="487.6" stroke="#888" stroke-width="0.4"/><line x1="82.58" y1="486" x2="82.58" y2="487.6" stroke="#888" stroke-width="0.4"/><line x1="96.92" y1="486" x2="96.92" y2="487.6" stroke="#888" stroke-width="0.4"/><line x1="110.48" y1="486" x2="110.48" y2="487.6" stroke="#888" stroke-width="0.4"/><line x1="123.21" y1="486" x2="123.21" y2="487.6" stroke="#888" stroke-width="0.4"/><line x1="134.98" y1="486" x2="134.98" y2="487.6" stroke="#888" stroke-width="0.4"/><line x1="146.06" y1="486" x2="146.06" y2="487.6" stroke="#888" stroke-width="0.4"/><line x1="156.73" y1="486" x2="156.73" y2="487.6" stroke="#888" stroke-width="0.4"/><line x1="167.15" y1="486" x2="167.15" y2="487.6" stroke="#888" stroke-width="0.4"/><line x1="177.51" y1="486" x2="177.51" y2="487.6" stroke="#888" stroke-width="0.4"/><line x1="187.11" y1="486" x2="187.11" y2="487.6" stroke="#888" stroke-width="0.4"/><line x1="195.68" y1="486" x2="195.68" y2="487.6" stroke="#888" stroke-width="0.4"/><line x1="203.77" y1="486" x2="203.77" y2="487.6" stroke="#888" stroke-width="0.4"/><line x1="211.2" y1="486" x2="211.2" y2="487.6" stroke="#888" stroke-width="0.4"/><line x1="217.81" y1="486" x2="217.81" y2="487.6" stroke="#888" stroke-width="0.4"/><line x1="223.95" y1="486" x2="223.95" y2="487.6" stroke="#888" stroke-width="0.4"/><line x1="229.24" y1="486" x2="229.24" y2="487.6" stroke="#888" stroke-width="0.4"/><line x1="233.94" y1="486" x2="233.94" y2="487.6" stroke="#888" stroke-width="0.4"/><line x1="238.22" y1="486" x2="238.22" y2="487.6" stroke="#888" stroke-width="0.4"/><line x1="242.05" y1="486" x2="242.05" y2="487.6" stroke="#888" stroke-width="0.4"/><line x1="250.02" y1="486" x2="250.02" y2="487.6" stroke="#888" stroke-width="0.4"/><text x="32" y="495.2" font-size="5.7" text-anchor="middle" stroke="#000" stroke-width="0.24">1</text><text x="50" y="495.2" font-size="5.7" text-anchor="middle" stroke="#000" stroke-width="0.24">2</text><text x="67.5" y="497.4" font-size="8.8" font-weight="bold" fill="#7f1787" text-anchor="middle" stroke="#7f1787" stroke-width="0.18">3</text><text x="82" y="495.2" font-size="5.7" text-anchor="middle" stroke="#000" stroke-width="0.24">4</text><text x="96" y="495.2" font-size="5.7" text-anchor="middle" stroke="#000" stroke-width="0.24">5</text><text x="110.8" y="495.2" font-size="5.7" text-anchor="middle" stroke="#000" stroke-width="0.24">6</text><text x="123" y="495.2" font-size="5.7" text-anchor="middle" stroke="#000" stroke-width="0.24">7</text><text x="134.8" y="495.2" font-size="5.7" text-anchor="middle" stroke="#000" stroke-width="0.24">8</text><text x="145.6" y="495.2" font-size="5.7" text-anchor="middle" stroke="#000" stroke-width="0.24">9</text><text x="155.5" y="495.2" font-size="5.7" text-anchor="middle" stroke="#000" stroke-width="0.24">10</text><text x="166" y="497.4" font-size="8.8" font-weight="bold" fill="#7f1787" text-anchor="middle" stroke="#7f1787" stroke-width="0.18">11</text><text x="175.7" y="495.2" font-size="5.7" text-anchor="middle" stroke="#000" stroke-width="0.24">12</text><text x="183" y="495.2" font-size="5.7" text-anchor="middle" stroke="#000" stroke-width="0.24">13</text><text x="190.2" y="495.2" font-size="5.7" text-anchor="middle" stroke="#000" stroke-width="0.24">14</text><text x="197.8" y="495.2" font-size="5.7" text-anchor="middle" stroke="#000" stroke-width="0.24">15</text><text x="204.6" y="495.2" font-size="5.7" text-anchor="middle" stroke="#000" stroke-width="0.24">16</text><text x="210.8" y="495.2" font-size="5.7" text-anchor="middle" stroke="#000" stroke-width="0.24">17</text><text x="217.5" y="495.2" font-size="5.7" text-anchor="middle" stroke="#000" stroke-width="0.24">18</text><text x="223" y="495.2" font-size="5.7" text-anchor="middle" stroke="#000" stroke-width="0.24">19</text><text x="229.8" y="495.2" font-size="5.7" text-anchor="middle" stroke="#000" stroke-width="0.24">20</text><text x="235.4" y="495.2" font-size="5.7" text-anchor="middle" stroke="#000" stroke-width="0.24">21</text><text x="241.5" y="495.2" font-size="5.7" text-anchor="middle" stroke="#000" stroke-width="0.24">22</text><text x="249.8" y="497.4" font-size="8.8" font-weight="bold" fill="#7f1787" text-anchor="middle" stroke="#7f1787" stroke-width="0.18">X</text><text x="9.6" y="494.6" font-size="5.8" stroke="#000" stroke-width="0.24">Chr</text><rect x="271.75" y="363.5" width="236.25" height="122.5" fill="#fff" stroke="#c4c4c4" stroke-width="0.8"/><line x1="292.21" y1="364" x2="292.21" y2="485.6" stroke="#e6e6e6" stroke-width="0.6"/><line x1="310.95" y1="364" x2="310.95" y2="485.6" stroke="#e6e6e6" stroke-width="0.6"/><line x1="326.21" y1="364" x2="326.21" y2="485.6" stroke="#e6e6e6" stroke-width="0.6"/><line x1="340.95" y1="364" x2="340.95" y2="485.6" stroke="#e6e6e6" stroke-width="0.6"/><line x1="354.89" y1="364" x2="354.89" y2="485.6" stroke="#e6e6e6" stroke-width="0.6"/><line x1="368.08" y1="364" x2="368.08" y2="485.6" stroke="#e6e6e6" stroke-width="0.6"/><line x1="380.34" y1="364" x2="380.34" y2="485.6" stroke="#e6e6e6" stroke-width="0.6"/><line x1="391.62" y1="364" x2="391.62" y2="485.6" stroke="#e6e6e6" stroke-width="0.6"/><line x1="402.51" y1="364" x2="402.51" y2="485.6" stroke="#e6e6e6" stroke-width="0.6"/><line x1="412.95" y1="364" x2="412.95" y2="485.6" stroke="#e6e6e6" stroke-width="0.6"/><line x1="423.35" y1="364" x2="423.35" y2="485.6" stroke="#e6e6e6" stroke-width="0.6"/><line x1="433.67" y1="364" x2="433.67" y2="485.6" stroke="#e6e6e6" stroke-width="0.6"/><line x1="442.55" y1="364" x2="442.55" y2="485.6" stroke="#e6e6e6" stroke-width="0.6"/><line x1="450.82" y1="364" x2="450.82" y2="485.6" stroke="#e6e6e6" stroke-width="0.6"/><line x1="458.72" y1="364" x2="458.72" y2="485.6" stroke="#e6e6e6" stroke-width="0.6"/><line x1="465.68" y1="364" x2="465.68" y2="485.6" stroke="#e6e6e6" stroke-width="0.6"/><line x1="471.94" y1="364" x2="471.94" y2="485.6" stroke="#e6e6e6" stroke-width="0.6"/><line x1="477.96" y1="364" x2="477.96" y2="485.6" stroke="#e6e6e6" stroke-width="0.6"/><line x1="482.51" y1="364" x2="482.51" y2="485.6" stroke="#e6e6e6" stroke-width="0.6"/><line x1="487.37" y1="364" x2="487.37" y2="485.6" stroke="#e6e6e6" stroke-width="0.6"/><line x1="491.08" y1="364" x2="491.08" y2="485.6" stroke="#e6e6e6" stroke-width="0.6"/><line x1="495.03" y1="364" x2="495.03" y2="485.6" stroke="#e6e6e6" stroke-width="0.6"/><rect x="273" y="420.5" width="10.07" height="41.6" fill="#52b6fa"/><rect x="273" y="416.98" width="10.07" height="3.52" fill="url(#gLu)"/><rect x="273" y="416.98" width="10.07" height="3.52" fill="url(#pW)" mask="url(#mU)"/><rect x="273" y="462.1" width="10.07" height="20.32" fill="url(#gLd)"/><rect x="273" y="462.1" width="10.07" height="20.32" fill="url(#pW)" mask="url(#mD)"/><rect x="273" y="440.75" width="10.07" height="1.1" fill="#b3262a"/><rect x="284.07" y="405.3" width="8.14" height="41.6" fill="#52b6fa"/><rect x="284.07" y="401.78" width="8.14" height="3.52" fill="url(#gLu)"/><rect x="284.07" y="401.78" width="8.14" height="3.52" fill="url(#pW)" mask="url(#mU)"/><rect x="284.07" y="446.9" width="8.14" height="20.8" fill="url(#gLd)"/><rect x="284.07" y="446.9" width="8.14" height="20.8" fill="url(#pW)" mask="url(#mD)"/><rect x="284.07" y="425.55" width="8.14" height="1.1" fill="#b3262a"/><rect x="292.21" y="420.5" width="18.74" height="41.6" fill="#157cf2"/><rect x="292.21" y="416.98" width="18.74" height="3.52" fill="url(#gDu)"/><rect x="292.21" y="416.98" width="18.74" height="3.52" fill="url(#pW)" mask="url(#mU)"/><rect x="292.21" y="462.1" width="18.74" height="20.32" fill="url(#gDd)"/><rect x="292.21" y="462.1" width="18.74" height="20.32" fill="url(#pW)" mask="url(#mD)"/><rect x="292.21" y="440.75" width="18.74" height="1.1" fill="#b3262a"/><rect x="310.95" y="435.7" width="15.26" height="41.6" fill="#52b6fa"/><rect x="310.95" y="432.18" width="15.26" height="3.52" fill="url(#gLu)"/><rect x="310.95" y="432.18" width="15.26" height="3.52" fill="url(#pW)" mask="url(#mU)"/><rect x="310.95" y="477.3" width="15.26" height="5.12" fill="url(#gLd)"/><rect x="310.95" y="477.3" width="15.26" height="5.12" fill="url(#pW)" mask="url(#mD)"/><rect x="310.95" y="455.95" width="15.26" height="1.1" fill="#b3262a"/><rect x="326.21" y="435.7" width="14.73" height="41.6" fill="#157cf2"/><rect x="326.21" y="432.18" width="14.73" height="3.52" fill="url(#gDu)"/><rect x="326.21" y="432.18" width="14.73" height="3.52" fill="url(#pW)" mask="url(#mU)"/><rect x="326.21" y="477.3" width="14.73" height="5.12" fill="url(#gDd)"/><rect x="326.21" y="477.3" width="14.73" height="5.12" fill="url(#pW)" mask="url(#mD)"/><rect x="326.21" y="455.95" width="14.73" height="1.1" fill="#b3262a"/><rect x="340.95" y="420.5" width="13.94" height="41.6" fill="#52b6fa"/><rect x="340.95" y="416.98" width="13.94" height="3.52" fill="url(#gLu)"/><rect x="340.95" y="416.98" width="13.94" height="3.52" fill="url(#pW)" mask="url(#mU)"/><rect x="340.95" y="462.1" width="13.94" height="20.32" fill="url(#gLd)"/><rect x="340.95" y="462.1" width="13.94" height="20.32" fill="url(#pW)" mask="url(#mD)"/><rect x="340.95" y="440.75" width="13.94" height="1.1" fill="#b3262a"/><rect x="354.89" y="419.7" width="13.19" height="41.6" fill="#157cf2"/><rect x="354.89" y="416.18" width="13.19" height="3.52" fill="url(#gDu)"/><rect x="354.89" y="416.18" width="13.19" height="3.52" fill="url(#pW)" mask="url(#mU)"/><rect x="354.89" y="461.3" width="13.19" height="20.8" fill="url(#gDd)"/><rect x="354.89" y="461.3" width="13.19" height="20.8" fill="url(#pW)" mask="url(#mD)"/><rect x="354.89" y="439.95" width="13.19" height="1.1" fill="#b3262a"/><rect x="368.08" y="405.3" width="12.26" height="41.6" fill="#52b6fa"/><rect x="368.08" y="401.78" width="12.26" height="3.52" fill="url(#gLu)"/><rect x="368.08" y="401.78" width="12.26" height="3.52" fill="url(#pW)" mask="url(#mU)"/><rect x="368.08" y="446.9" width="12.26" height="20.8" fill="url(#gLd)"/><rect x="368.08" y="446.9" width="12.26" height="20.8" fill="url(#pW)" mask="url(#mD)"/><rect x="368.08" y="425.55" width="12.26" height="1.1" fill="#b3262a"/><rect x="380.34" y="421.3" width="11.28" height="41.6" fill="#157cf2"/><rect x="380.34" y="417.78" width="11.28" height="3.52" fill="url(#gDu)"/><rect x="380.34" y="417.78" width="11.28" height="3.52" fill="url(#pW)" mask="url(#mU)"/><rect x="380.34" y="462.9" width="11.28" height="19.52" fill="url(#gDd)"/><rect x="380.34" y="462.9" width="11.28" height="19.52" fill="url(#pW)" mask="url(#mD)"/><rect x="380.34" y="441.55" width="11.28" height="1.1" fill="#b3262a"/><rect x="391.62" y="435.7" width="10.88" height="41.6" fill="#52b6fa"/><rect x="391.62" y="432.18" width="10.88" height="3.52" fill="url(#gLu)"/><rect x="391.62" y="432.18" width="10.88" height="3.52" fill="url(#pW)" mask="url(#mU)"/><rect x="391.62" y="477.3" width="10.88" height="5.12" fill="url(#gLd)"/><rect x="391.62" y="477.3" width="10.88" height="5.12" fill="url(#pW)" mask="url(#mD)"/><rect x="391.62" y="455.95" width="10.88" height="1.1" fill="#b3262a"/><rect x="402.51" y="421.3" width="10.44" height="41.6" fill="#157cf2"/><rect x="402.51" y="417.78" width="10.44" height="3.52" fill="url(#gDu)"/><rect x="402.51" y="417.78" width="10.44" height="3.52" fill="url(#pW)" mask="url(#mU)"/><rect x="402.51" y="462.9" width="10.44" height="19.52" fill="url(#gDd)"/><rect x="402.51" y="462.9" width="10.44" height="19.52" fill="url(#pW)" mask="url(#mD)"/><rect x="402.51" y="441.55" width="10.44" height="1.1" fill="#b3262a"/><rect x="412.95" y="421.3" width="10.4" height="41.6" fill="#52b6fa"/><rect x="412.95" y="417.78" width="10.4" height="3.52" fill="url(#gLu)"/><rect x="412.95" y="417.78" width="10.4" height="3.52" fill="url(#pW)" mask="url(#mU)"/><rect x="412.95" y="462.9" width="10.4" height="19.52" fill="url(#gLd)"/><rect x="412.95" y="462.9" width="10.4" height="19.52" fill="url(#pW)" mask="url(#mD)"/><rect x="412.95" y="441.55" width="10.4" height="1.1" fill="#b3262a"/><rect x="423.35" y="369.5" width="10.32" height="111.5" fill="#157cf2"/><rect x="433.67" y="434.1" width="8.88" height="41.6" fill="#52b6fa"/><rect x="433.67" y="430.58" width="8.88" height="3.52" fill="url(#gLu)"/><rect x="433.67" y="430.58" width="8.88" height="3.52" fill="url(#pW)" mask="url(#mU)"/><rect x="433.67" y="475.7" width="8.88" height="6.72" fill="url(#gLd)"/><rect x="433.67" y="475.7" width="8.88" height="6.72" fill="url(#pW)" mask="url(#mD)"/><rect x="433.67" y="454.35" width="8.88" height="1.1" fill="#b3262a"/><rect x="442.55" y="419.7" width="8.27" height="41.6" fill="#157cf2"/><rect x="442.55" y="416.18" width="8.27" height="3.52" fill="url(#gDu)"/><rect x="442.55" y="416.18" width="8.27" height="3.52" fill="url(#pW)" mask="url(#mU)"/><rect x="442.55" y="461.3" width="8.27" height="20.8" fill="url(#gDd)"/><rect x="442.55" y="461.3" width="8.27" height="20.8" fill="url(#pW)" mask="url(#mD)"/><rect x="442.55" y="439.95" width="8.27" height="1.1" fill="#b3262a"/><rect x="450.82" y="419.7" width="7.9" height="41.6" fill="#52b6fa"/><rect x="450.82" y="416.18" width="7.9" height="3.52" fill="url(#gLu)"/><rect x="450.82" y="416.18" width="7.9" height="3.52" fill="url(#pW)" mask="url(#mU)"/><rect x="450.82" y="461.3" width="7.9" height="20.8" fill="url(#gLd)"/><rect x="450.82" y="461.3" width="7.9" height="20.8" fill="url(#pW)" mask="url(#mD)"/><rect x="450.82" y="439.95" width="7.9" height="1.1" fill="#b3262a"/><rect x="458.72" y="422.9" width="6.96" height="41.6" fill="#157cf2"/><rect x="458.72" y="419.38" width="6.96" height="3.52" fill="url(#gDu)"/><rect x="458.72" y="419.38" width="6.96" height="3.52" fill="url(#pW)" mask="url(#mU)"/><rect x="458.72" y="464.5" width="6.96" height="17.92" fill="url(#gDd)"/><rect x="458.72" y="464.5" width="6.96" height="17.92" fill="url(#pW)" mask="url(#mD)"/><rect x="458.72" y="443.15" width="6.96" height="1.1" fill="#b3262a"/><rect x="465.68" y="420.5" width="6.26" height="41.6" fill="#52b6fa"/><rect x="465.68" y="416.98" width="6.26" height="3.52" fill="url(#gLu)"/><rect x="465.68" y="416.98" width="6.26" height="3.52" fill="url(#pW)" mask="url(#mU)"/><rect x="465.68" y="462.1" width="6.26" height="20.32" fill="url(#gLd)"/><rect x="465.68" y="462.1" width="6.26" height="20.32" fill="url(#pW)" mask="url(#mD)"/><rect x="465.68" y="440.75" width="6.26" height="1.1" fill="#b3262a"/><rect x="471.94" y="412.5" width="6.02" height="41.6" fill="#157cf2"/><rect x="471.94" y="408.98" width="6.02" height="3.52" fill="url(#gDu)"/><rect x="471.94" y="408.98" width="6.02" height="3.52" fill="url(#pW)" mask="url(#mU)"/><rect x="471.94" y="454.1" width="6.02" height="20.8" fill="url(#gDd)"/><rect x="471.94" y="454.1" width="6.02" height="20.8" fill="url(#pW)" mask="url(#mD)"/><rect x="471.94" y="432.75" width="6.02" height="1.1" fill="#b3262a"/><rect x="477.96" y="418.1" width="4.55" height="41.6" fill="#52b6fa"/><rect x="477.96" y="414.58" width="4.55" height="3.52" fill="url(#gLu)"/><rect x="477.96" y="414.58" width="4.55" height="3.52" fill="url(#pW)" mask="url(#mU)"/><rect x="477.96" y="459.7" width="4.55" height="20.8" fill="url(#gLd)"/><rect x="477.96" y="459.7" width="4.55" height="20.8" fill="url(#pW)" mask="url(#mD)"/><rect x="477.96" y="438.35" width="4.55" height="1.1" fill="#b3262a"/><rect x="482.51" y="419.7" width="4.86" height="41.6" fill="#157cf2"/><rect x="482.51" y="416.18" width="4.86" height="3.52" fill="url(#gDu)"/><rect x="482.51" y="416.18" width="4.86" height="3.52" fill="url(#pW)" mask="url(#mU)"/><rect x="482.51" y="461.3" width="4.86" height="20.8" fill="url(#gDd)"/><rect x="482.51" y="461.3" width="4.86" height="20.8" fill="url(#pW)" mask="url(#mD)"/><rect x="482.51" y="439.95" width="4.86" height="1.1" fill="#b3262a"/><rect x="487.37" y="421.3" width="3.71" height="41.6" fill="#52b6fa"/><rect x="487.37" y="417.78" width="3.71" height="3.52" fill="url(#gLu)"/><rect x="487.37" y="417.78" width="3.71" height="3.52" fill="url(#pW)" mask="url(#mU)"/><rect x="487.37" y="462.9" width="3.71" height="19.52" fill="url(#gLd)"/><rect x="487.37" y="462.9" width="3.71" height="19.52" fill="url(#pW)" mask="url(#mD)"/><rect x="487.37" y="441.55" width="3.71" height="1.1" fill="#b3262a"/><rect x="491.08" y="420.5" width="3.95" height="41.6" fill="#157cf2"/><rect x="491.08" y="416.98" width="3.95" height="3.52" fill="url(#gDu)"/><rect x="491.08" y="416.98" width="3.95" height="3.52" fill="url(#pW)" mask="url(#mU)"/><rect x="491.08" y="462.1" width="3.95" height="20.32" fill="url(#gDd)"/><rect x="491.08" y="462.1" width="3.95" height="20.32" fill="url(#pW)" mask="url(#mD)"/><rect x="491.08" y="440.75" width="3.95" height="1.1" fill="#b3262a"/><rect x="495.03" y="426.9" width="11.97" height="41.6" fill="#52b6fa"/><rect x="495.03" y="423.38" width="11.97" height="3.52" fill="url(#gLu)"/><rect x="495.03" y="423.38" width="11.97" height="3.52" fill="url(#pW)" mask="url(#mU)"/><rect x="495.03" y="468.5" width="11.97" height="13.92" fill="url(#gLd)"/><rect x="495.03" y="468.5" width="11.97" height="13.92" fill="url(#pW)" mask="url(#mD)"/><rect x="495.03" y="447.15" width="11.97" height="1.1" fill="#b3262a"/><path d="M275.3 482.9h0.8v0.8h-0.8zM280.1 415.4h0.8v0.8h-0.8zM283.1 411.2h0.8v0.8h-0.8zM274.9 482.7h0.8v0.8h-0.8zM275.4 415.2h0.8v0.8h-0.8zM274.1 390.2h0.8v0.8h-0.8zM284.6 469.2h0.8v0.8h-0.8zM289.4 395.2h0.8v0.8h-0.8zM288.1 475.1h0.8v0.8h-0.8zM288.8 401.4h0.8v0.8h-0.8zM291.8 468.4h0.8v0.8h-0.8zM291.8 471.9h0.8v0.8h-0.8zM314.5 428.9h0.8v0.8h-0.8zM312.4 431.5h0.8v0.8h-0.8zM318.9 422.9h0.8v0.8h-0.8zM311.9 431.3h0.8v0.8h-0.8zM316.3 482.4h0.8v0.8h-0.8zM323.7 420.5h0.8v0.8h-0.8zM326.1 483h0.8v0.8h-0.8zM325.8 431.7h0.8v0.8h-0.8zM350 411.7h0.8v0.8h-0.8zM354.6 415h0.8v0.8h-0.8zM345.1 483.1h0.8v0.8h-0.8zM345.3 411.7h0.8v0.8h-0.8zM372.8 472.5h0.8v0.8h-0.8zM380.3 472.6h0.8v0.8h-0.8zM369.8 471.4h0.8v0.8h-0.8zM369.1 474.2h0.8v0.8h-0.8zM379.2 468h0.8v0.8h-0.8zM375.5 471.1h0.8v0.8h-0.8zM372 387.7h0.8v0.8h-0.8zM378.6 469.2h0.8v0.8h-0.8zM378.2 471.8h0.8v0.8h-0.8zM393.1 429.2h0.8v0.8h-0.8zM393.5 482.6h0.8v0.8h-0.8zM419.4 411.3h0.8v0.8h-0.8zM413.8 412.9h0.8v0.8h-0.8zM419.5 482.8h0.8v0.8h-0.8zM423.3 412.6h0.8v0.8h-0.8zM414.7 415.2h0.8v0.8h-0.8zM436.7 421.3h0.8v0.8h-0.8zM437 482.5h0.8v0.8h-0.8zM436.4 429.1h0.8v0.8h-0.8zM436.9 426h0.8v0.8h-0.8zM452.2 406.5h0.8v0.8h-0.8zM452.5 483h0.8v0.8h-0.8zM457.8 415.5h0.8v0.8h-0.8zM451.1 482.9h0.8v0.8h-0.8zM468.3 416.1h0.8v0.8h-0.8zM467.3 483.1h0.8v0.8h-0.8zM481.1 481.2h0.8v0.8h-0.8zM489.1 408.9h0.8v0.8h-0.8zM498.2 395.8h0.8v0.8h-0.8zM496.7 418.3h0.8v0.8h-0.8zM504.2 420.6h0.8v0.8h-0.8zM505.6 483.1h0.8v0.8h-0.8zM501 419.7h0.8v0.8h-0.8z" fill="#52b6fa"/><path d="M308.7 414.5h0.8v0.8h-0.8zM308.7 408.9h0.8v0.8h-0.8zM295.9 412.8h0.8v0.8h-0.8zM301.8 403.9h0.8v0.8h-0.8zM301.7 483.2h0.8v0.8h-0.8zM296.8 414.6h0.8v0.8h-0.8zM297.2 414.3h0.8v0.8h-0.8zM307.8 483h0.8v0.8h-0.8zM299.6 410.9h0.8v0.8h-0.8zM310.5 408.8h0.8v0.8h-0.8zM297.8 408.9h0.8v0.8h-0.8zM298.6 413.8h0.8v0.8h-0.8zM328.5 427.3h0.8v0.8h-0.8zM332.9 428.9h0.8v0.8h-0.8zM332 430.7h0.8v0.8h-0.8zM329.1 431.5h0.8v0.8h-0.8zM326.5 429h0.8v0.8h-0.8zM333.6 483.1h0.8v0.8h-0.8zM359.7 412.4h0.8v0.8h-0.8zM361.9 483.1h0.8v0.8h-0.8zM355.8 483.1h0.8v0.8h-0.8zM360.4 406.3h0.8v0.8h-0.8zM358.5 407h0.8v0.8h-0.8zM361.5 403.9h0.8v0.8h-0.8zM360.3 397.3h0.8v0.8h-0.8zM365.3 483h0.8v0.8h-0.8zM387.1 415.8h0.8v0.8h-0.8zM384.4 413.7h0.8v0.8h-0.8zM382.1 415h0.8v0.8h-0.8zM385.2 482.8h0.8v0.8h-0.8zM382.9 416.7h0.8v0.8h-0.8zM388.8 417.5h0.8v0.8h-0.8zM386.7 405.8h0.8v0.8h-0.8zM409.6 482.9h0.8v0.8h-0.8zM411.1 482.8h0.8v0.8h-0.8zM406.6 415.2h0.8v0.8h-0.8zM412.4 411.1h0.8v0.8h-0.8zM444.7 483.2h0.8v0.8h-0.8zM449.7 410.6h0.8v0.8h-0.8zM464.7 405.8h0.8v0.8h-0.8zM458.7 482.7h0.8v0.8h-0.8zM472.1 405.2h0.8v0.8h-0.8zM476.1 406.1h0.8v0.8h-0.8zM476.1 404.8h0.8v0.8h-0.8zM475.6 407.7h0.8v0.8h-0.8zM484 482.4h0.8v0.8h-0.8zM493.5 415.4h0.8v0.8h-0.8z" fill="#157cf2"/><path d="M424.1 418.4h0.9v0.9h-0.9zM429.2 424h0.9v0.9h-0.9zM428.1 464h0.9v0.9h-0.9zM428.4 447.7h0.9v0.9h-0.9zM432.5 455.7h0.9v0.9h-0.9zM428.8 423.3h0.9v0.9h-0.9zM427 418.4h0.9v0.9h-0.9zM427.7 421.4h0.9v0.9h-0.9zM424.5 413.7h0.9v0.9h-0.9zM430.1 459.9h0.9v0.9h-0.9zM428.2 406.8h0.9v0.9h-0.9zM425.6 458.2h0.9v0.9h-0.9zM427.3 456.5h0.9v0.9h-0.9zM428 418.7h0.9v0.9h-0.9zM425.6 423.7h0.9v0.9h-0.9zM423.9 413.7h0.9v0.9h-0.9zM431.2 435.4h0.9v0.9h-0.9zM431.8 449h0.9v0.9h-0.9zM427.3 419.3h0.9v0.9h-0.9zM428.1 427.8h0.9v0.9h-0.9zM428.8 457.1h0.9v0.9h-0.9zM424.2 413.4h0.9v0.9h-0.9zM424.3 451.2h0.9v0.9h-0.9zM430.9 422h0.9v0.9h-0.9zM428.3 452h0.9v0.9h-0.9zM426.6 423.9h0.9v0.9h-0.9zM430.6 423.9h0.9v0.9h-0.9zM425.3 432.5h0.9v0.9h-0.9zM428.7 423.8h0.9v0.9h-0.9zM430.6 401.2h0.9v0.9h-0.9zM430.1 420.5h0.9v0.9h-0.9zM431.6 415h0.9v0.9h-0.9zM431.5 451.6h0.9v0.9h-0.9zM432.5 422.1h0.9v0.9h-0.9zM425 462.8h0.9v0.9h-0.9zM430.7 454.9h0.9v0.9h-0.9zM429 428h0.9v0.9h-0.9zM427.6 421.9h0.9v0.9h-0.9zM430.9 450.5h0.9v0.9h-0.9zM423.9 422.9h0.9v0.9h-0.9zM429.3 419.4h0.9v0.9h-0.9zM425.5 447.4h0.9v0.9h-0.9zM425 462.9h0.9v0.9h-0.9zM430.2 461.1h0.9v0.9h-0.9zM429.7 454.4h0.9v0.9h-0.9zM424.4 408.1h0.9v0.9h-0.9zM432.6 421.2h0.9v0.9h-0.9zM427.5 422.8h0.9v0.9h-0.9zM424.3 424.4h0.9v0.9h-0.9zM427.6 454.9h0.9v0.9h-0.9zM428 461.1h0.9v0.9h-0.9zM430.9 454h0.9v0.9h-0.9zM431.4 418h0.9v0.9h-0.9zM427.7 452.4h0.9v0.9h-0.9zM431.3 410.5h0.9v0.9h-0.9zM424.5 448.2h0.9v0.9h-0.9zM424.5 459.1h0.9v0.9h-0.9zM424.8 461.5h0.9v0.9h-0.9zM426.5 418.2h0.9v0.9h-0.9zM430.7 425.8h0.9v0.9h-0.9zM425.8 449.2h0.9v0.9h-0.9zM427.8 421.8h0.9v0.9h-0.9zM429.9 427.9h0.9v0.9h-0.9zM424.9 419.3h0.9v0.9h-0.9zM426.7 432.6h0.9v0.9h-0.9zM430.3 456.7h0.9v0.9h-0.9zM429 408.7h0.9v0.9h-0.9zM424.2 424.6h0.9v0.9h-0.9zM429.4 457.2h0.9v0.9h-0.9zM428.8 449.3h0.9v0.9h-0.9zM424.6 420.7h0.9v0.9h-0.9zM429.7 474.8h0.9v0.9h-0.9zM428.9 411.8h0.9v0.9h-0.9zM425.9 424.9h0.9v0.9h-0.9zM428 407.1h0.9v0.9h-0.9zM427.1 455.6h0.9v0.9h-0.9zM424.5 419.7h0.9v0.9h-0.9zM430.2 449h0.9v0.9h-0.9zM431.1 449.8h0.9v0.9h-0.9zM429 455.4h0.9v0.9h-0.9zM432.4 419.4h0.9v0.9h-0.9zM424.9 445.6h0.9v0.9h-0.9zM425.4 423h0.9v0.9h-0.9zM424.2 465.6h0.9v0.9h-0.9zM429.2 421.6h0.9v0.9h-0.9zM426.6 459.2h0.9v0.9h-0.9zM427.5 422.8h0.9v0.9h-0.9zM427.4 463.9h0.9v0.9h-0.9zM426.4 454.6h0.9v0.9h-0.9zM429.5 454.5h0.9v0.9h-0.9zM427 425h0.9v0.9h-0.9zM429.9 454.6h0.9v0.9h-0.9zM432.3 426.2h0.9v0.9h-0.9zM429.5 455.5h0.9v0.9h-0.9zM425.9 434.8h0.9v0.9h-0.9zM424 423.7h0.9v0.9h-0.9zM431.6 429.6h0.9v0.9h-0.9zM425.2 456h0.9v0.9h-0.9zM428.2 452.8h0.9v0.9h-0.9zM428.5 457.5h0.9v0.9h-0.9zM426.1 457.9h0.9v0.9h-0.9zM431 412.8h0.9v0.9h-0.9zM430.8 431h0.9v0.9h-0.9zM424.4 428.3h0.9v0.9h-0.9zM427.5 403h0.9v0.9h-0.9zM426.8 461.6h0.9v0.9h-0.9zM426.5 401.4h0.9v0.9h-0.9zM428.9 452.5h0.9v0.9h-0.9zM429.6 399.5h0.9v0.9h-0.9zM430.5 421.3h0.9v0.9h-0.9zM429.9 420h0.9v0.9h-0.9zM426.6 439.2h0.9v0.9h-0.9zM425.8 405.5h0.9v0.9h-0.9zM430.6 430.7h0.9v0.9h-0.9zM428.9 465.1h0.9v0.9h-0.9zM429.1 457.1h0.9v0.9h-0.9zM427.5 425.6h0.9v0.9h-0.9zM429.7 459.3h0.9v0.9h-0.9zM431.3 457.1h0.9v0.9h-0.9zM428.6 416.3h0.9v0.9h-0.9zM427.7 463.8h0.9v0.9h-0.9zM424.4 418.6h0.9v0.9h-0.9zM430.6 461.5h0.9v0.9h-0.9zM430.9 404.4h0.9v0.9h-0.9zM424.6 446.6h0.9v0.9h-0.9zM426.6 459.1h0.9v0.9h-0.9zM426.2 460.5h0.9v0.9h-0.9zM429.1 399.5h0.9v0.9h-0.9zM426.1 421.3h0.9v0.9h-0.9zM428.7 425.4h0.9v0.9h-0.9zM425.6 411.7h0.9v0.9h-0.9zM424.2 455.9h0.9v0.9h-0.9zM430.5 417.8h0.9v0.9h-0.9zM430.1 422.4h0.9v0.9h-0.9zM427.3 455.1h0.9v0.9h-0.9zM426.8 456.4h0.9v0.9h-0.9zM424.6 427.1h0.9v0.9h-0.9zM430.1 453.1h0.9v0.9h-0.9zM431.4 413.3h0.9v0.9h-0.9zM430.8 425.1h0.9v0.9h-0.9zM424.1 455h0.9v0.9h-0.9zM429 438h0.9v0.9h-0.9zM427.2 426.8h0.9v0.9h-0.9zM424.8 452.9h0.9v0.9h-0.9zM429 419.1h0.9v0.9h-0.9zM424.6 455.1h0.9v0.9h-0.9zM430.8 417.5h0.9v0.9h-0.9zM428.9 398.5h0.9v0.9h-0.9zM428 419.9h0.9v0.9h-0.9zM429 449.3h0.9v0.9h-0.9zM426.2 422.5h0.9v0.9h-0.9zM430.3 423.3h0.9v0.9h-0.9zM425.2 456.3h0.9v0.9h-0.9zM425.9 448h0.9v0.9h-0.9zM430.4 412.4h0.9v0.9h-0.9zM426.3 469.1h0.9v0.9h-0.9zM431.2 421h0.9v0.9h-0.9zM429.6 446.6h0.9v0.9h-0.9zM428.8 448.4h0.9v0.9h-0.9zM428.4 420.5h0.9v0.9h-0.9zM429.1 461.7h0.9v0.9h-0.9zM427.8 454.1h0.9v0.9h-0.9zM430.4 423.2h0.9v0.9h-0.9zM430.9 454.3h0.9v0.9h-0.9zM426.1 457.7h0.9v0.9h-0.9zM424.6 446.3h0.9v0.9h-0.9zM430.6 463.6h0.9v0.9h-0.9zM426.4 465.9h0.9v0.9h-0.9zM426.1 443.4h0.9v0.9h-0.9zM430.3 413h0.9v0.9h-0.9zM429.4 448.5h0.9v0.9h-0.9zM430.2 450.2h0.9v0.9h-0.9zM431.8 429.8h0.9v0.9h-0.9zM429.9 416.1h0.9v0.9h-0.9zM429.6 451.3h0.9v0.9h-0.9zM427.7 414.2h0.9v0.9h-0.9zM430.3 458.3h0.9v0.9h-0.9zM427.3 457.3h0.9v0.9h-0.9zM431.7 460.7h0.9v0.9h-0.9zM431.7 426.8h0.9v0.9h-0.9zM427.7 454.7h0.9v0.9h-0.9zM430.2 412.4h0.9v0.9h-0.9zM431.7 452.6h0.9v0.9h-0.9zM431.8 456h0.9v0.9h-0.9zM430.1 419.1h0.9v0.9h-0.9zM427.6 449.9h0.9v0.9h-0.9zM431.7 468.1h0.9v0.9h-0.9zM430.5 459.5h0.9v0.9h-0.9zM425.2 444.3h0.9v0.9h-0.9zM428.1 424.5h0.9v0.9h-0.9zM424.9 422.4h0.9v0.9h-0.9zM427 454h0.9v0.9h-0.9zM430 427.3h0.9v0.9h-0.9zM431.1 461.5h0.9v0.9h-0.9zM428.7 414.8h0.9v0.9h-0.9zM432.3 427.1h0.9v0.9h-0.9zM428.1 414.8h0.9v0.9h-0.9zM432.5 454h0.9v0.9h-0.9zM426.2 471.5h0.9v0.9h-0.9zM429.5 420.7h0.9v0.9h-0.9zM429.3 415.5h0.9v0.9h-0.9zM428.3 451.3h0.9v0.9h-0.9zM424.4 412.5h0.9v0.9h-0.9zM425.5 454.3h0.9v0.9h-0.9zM426.8 452.7h0.9v0.9h-0.9zM432.3 423.3h0.9v0.9h-0.9zM429.5 422.9h0.9v0.9h-0.9zM424.3 418h0.9v0.9h-0.9zM432.3 458.2h0.9v0.9h-0.9zM424.9 454.1h0.9v0.9h-0.9zM430.5 457.6h0.9v0.9h-0.9zM426.8 462.8h0.9v0.9h-0.9zM426.4 458.4h0.9v0.9h-0.9zM427.4 457.5h0.9v0.9h-0.9zM425.1 421.1h0.9v0.9h-0.9zM424.2 423.5h0.9v0.9h-0.9zM425.1 412.9h0.9v0.9h-0.9zM431 428.1h0.9v0.9h-0.9zM424.6 457.8h0.9v0.9h-0.9zM431.3 463h0.9v0.9h-0.9zM426.8 417.8h0.9v0.9h-0.9zM424.9 419.6h0.9v0.9h-0.9zM425.7 424.2h0.9v0.9h-0.9zM431.6 415.1h0.9v0.9h-0.9zM430.3 465.4h0.9v0.9h-0.9zM429.8 459.6h0.9v0.9h-0.9zM424.5 425.6h0.9v0.9h-0.9zM429.9 440h0.9v0.9h-0.9zM426.4 448.5h0.9v0.9h-0.9zM432.3 407.3h0.9v0.9h-0.9zM427.2 451.2h0.9v0.9h-0.9zM430.4 461.5h0.9v0.9h-0.9zM431.5 451h0.9v0.9h-0.9zM428.2 453.8h0.9v0.9h-0.9zM424.8 457.9h0.9v0.9h-0.9zM430.1 430.5h0.9v0.9h-0.9zM424.6 410.2h0.9v0.9h-0.9zM432.4 456.8h0.9v0.9h-0.9zM427.9 424.2h0.9v0.9h-0.9zM430.4 458.7h0.9v0.9h-0.9zM426.4 471.6h0.9v0.9h-0.9zM427.1 420.3h0.9v0.9h-0.9zM430.6 435.1h0.9v0.9h-0.9zM424.5 420.4h0.9v0.9h-0.9zM430.3 427.3h0.9v0.9h-0.9zM425.9 448.8h0.9v0.9h-0.9zM429.2 446.2h0.9v0.9h-0.9zM427.2 448.5h0.9v0.9h-0.9zM430.2 423h0.9v0.9h-0.9zM432.7 460.8h0.9v0.9h-0.9zM431.4 431.6h0.9v0.9h-0.9zM428.8 460.2h0.9v0.9h-0.9zM424.5 423.5h0.9v0.9h-0.9zM432.5 431.7h0.9v0.9h-0.9zM429.3 452.6h0.9v0.9h-0.9zM424.7 452.8h0.9v0.9h-0.9zM430 457.3h0.9v0.9h-0.9zM429.1 436.5h0.9v0.9h-0.9zM432.2 424.7h0.9v0.9h-0.9zM430.9 417h0.9v0.9h-0.9zM429.4 461.8h0.9v0.9h-0.9zM430.8 458.9h0.9v0.9h-0.9zM430.5 417.2h0.9v0.9h-0.9zM427.9 411.4h0.9v0.9h-0.9zM427.4 454.8h0.9v0.9h-0.9zM431.2 448.6h0.9v0.9h-0.9zM424.2 416.6h0.9v0.9h-0.9zM425.5 417.8h0.9v0.9h-0.9zM431.7 456.6h0.9v0.9h-0.9zM432.3 413.6h0.9v0.9h-0.9zM429.5 431.6h0.9v0.9h-0.9zM427.4 463.3h0.9v0.9h-0.9zM430.8 460.5h0.9v0.9h-0.9zM426.4 420.5h0.9v0.9h-0.9zM432.4 454.4h0.9v0.9h-0.9zM427.9 460.1h0.9v0.9h-0.9zM430.9 416.6h0.9v0.9h-0.9zM426.1 411.3h0.9v0.9h-0.9zM425.5 416.3h0.9v0.9h-0.9zM426.2 398.5h0.9v0.9h-0.9zM429.6 455.4h0.9v0.9h-0.9zM424.3 468.4h0.9v0.9h-0.9zM426.3 446.5h0.9v0.9h-0.9zM429.6 455.7h0.9v0.9h-0.9zM425 423.1h0.9v0.9h-0.9zM429.9 454.1h0.9v0.9h-0.9zM424.9 437.5h0.9v0.9h-0.9zM431.9 423.8h0.9v0.9h-0.9zM427.1 452.8h0.9v0.9h-0.9zM428.6 462.3h0.9v0.9h-0.9zM423.9 431h0.9v0.9h-0.9zM431.6 420.6h0.9v0.9h-0.9zM423.9 410.6h0.9v0.9h-0.9zM431.5 454.2h0.9v0.9h-0.9zM427.1 462.5h0.9v0.9h-0.9zM426.1 462.6h0.9v0.9h-0.9zM428 451.6h0.9v0.9h-0.9zM429.2 422.9h0.9v0.9h-0.9zM432.1 457.7h0.9v0.9h-0.9zM432.5 407.7h0.9v0.9h-0.9zM432.4 455.9h0.9v0.9h-0.9zM425.8 424.3h0.9v0.9h-0.9zM430.4 403h0.9v0.9h-0.9zM431.8 426.4h0.9v0.9h-0.9zM429 425.4h0.9v0.9h-0.9zM431.1 459.6h0.9v0.9h-0.9zM429.8 465.1h0.9v0.9h-0.9zM431.5 459.4h0.9v0.9h-0.9zM430.9 453.4h0.9v0.9h-0.9zM426.6 420.4h0.9v0.9h-0.9zM431.3 455.6h0.9v0.9h-0.9zM427.5 428.4h0.9v0.9h-0.9zM427.9 457.7h0.9v0.9h-0.9zM431.3 431.3h0.9v0.9h-0.9zM428.3 451.9h0.9v0.9h-0.9zM429.6 413.8h0.9v0.9h-0.9zM429.9 454.1h0.9v0.9h-0.9zM425.4 423.6h0.9v0.9h-0.9zM431.1 456.5h0.9v0.9h-0.9zM431.6 453.8h0.9v0.9h-0.9zM428.7 453.3h0.9v0.9h-0.9zM425.6 458.4h0.9v0.9h-0.9zM427.6 429.1h0.9v0.9h-0.9zM430.1 406.1h0.9v0.9h-0.9zM426.1 421.2h0.9v0.9h-0.9zM426.8 426.1h0.9v0.9h-0.9zM426.4 453.9h0.9v0.9h-0.9zM432.2 413.5h0.9v0.9h-0.9zM425.3 454h0.9v0.9h-0.9zM426.7 417.9h0.9v0.9h-0.9zM431.1 435.4h0.9v0.9h-0.9zM426.4 456.7h0.9v0.9h-0.9zM428.8 434.9h0.9v0.9h-0.9zM425.6 450.6h0.9v0.9h-0.9zM423.9 460.2h0.9v0.9h-0.9zM431.2 449.7h0.9v0.9h-0.9zM428.6 433.8h0.9v0.9h-0.9zM424.2 418.7h0.9v0.9h-0.9zM429.1 426.8h0.9v0.9h-0.9zM424.2 460.4h0.9v0.9h-0.9zM431.1 425.1h0.9v0.9h-0.9zM426.9 409h0.9v0.9h-0.9zM432.2 459.3h0.9v0.9h-0.9zM429.2 457.3h0.9v0.9h-0.9zM432.5 427.8h0.9v0.9h-0.9zM432.5 430.3h0.9v0.9h-0.9zM427.7 455.2h0.9v0.9h-0.9zM428.9 431.1h0.9v0.9h-0.9zM432.3 455.4h0.9v0.9h-0.9zM429.6 421.6h0.9v0.9h-0.9zM425.6 428.1h0.9v0.9h-0.9zM424 454.6h0.9v0.9h-0.9zM431.8 465.5h0.9v0.9h-0.9zM430.7 458.4h0.9v0.9h-0.9zM428.6 424.2h0.9v0.9h-0.9zM432 458.8h0.9v0.9h-0.9zM426.2 419.3h0.9v0.9h-0.9zM424.8 398.2h0.9v0.9h-0.9zM430.7 435h0.9v0.9h-0.9zM428.6 463.9h0.9v0.9h-0.9zM426.4 454.5h0.9v0.9h-0.9zM432 454.3h0.9v0.9h-0.9zM430.7 467.3h0.9v0.9h-0.9zM426 453.4h0.9v0.9h-0.9zM428.5 438.3h0.9v0.9h-0.9zM424.4 456.8h0.9v0.9h-0.9zM432.4 415.2h0.9v0.9h-0.9zM432 417.9h0.9v0.9h-0.9zM427.3 399.3h0.9v0.9h-0.9zM425.1 420.8h0.9v0.9h-0.9zM427.8 455.3h0.9v0.9h-0.9zM431.9 414.1h0.9v0.9h-0.9zM424 428h0.9v0.9h-0.9zM424.6 418.4h0.9v0.9h-0.9zM430.9 438.3h0.9v0.9h-0.9zM429.5 463.9h0.9v0.9h-0.9zM425.4 458.6h0.9v0.9h-0.9zM427 460.9h0.9v0.9h-0.9zM428.8 454.3h0.9v0.9h-0.9zM432.5 433.1h0.9v0.9h-0.9zM432.5 401.7h0.9v0.9h-0.9zM424.4 454.7h0.9v0.9h-0.9zM429.2 451.3h0.9v0.9h-0.9zM432.6 450.9h0.9v0.9h-0.9zM431 451.6h0.9v0.9h-0.9zM424 455.6h0.9v0.9h-0.9zM425.2 431h0.9v0.9h-0.9zM432.4 451.3h0.9v0.9h-0.9zM427.5 444.8h0.9v0.9h-0.9zM429.4 437.5h0.9v0.9h-0.9zM425 460.7h0.9v0.9h-0.9zM432.6 468.8h0.9v0.9h-0.9zM431.7 455.3h0.9v0.9h-0.9zM430.9 431.5h0.9v0.9h-0.9zM428.3 458.9h0.9v0.9h-0.9zM424.4 461.5h0.9v0.9h-0.9zM429.3 419h0.9v0.9h-0.9zM432 416.1h0.9v0.9h-0.9zM432.1 445.3h0.9v0.9h-0.9zM424 413.1h0.9v0.9h-0.9zM430.1 412.3h0.9v0.9h-0.9zM431.4 424h0.9v0.9h-0.9zM426.7 452.4h0.9v0.9h-0.9zM424.6 409.8h0.9v0.9h-0.9zM427.3 449.8h0.9v0.9h-0.9zM426.5 454.8h0.9v0.9h-0.9zM431.4 462.5h0.9v0.9h-0.9zM430.1 427.3h0.9v0.9h-0.9zM426.2 426.3h0.9v0.9h-0.9zM432.6 450.5h0.9v0.9h-0.9zM430.3 456h0.9v0.9h-0.9zM430 461.1h0.9v0.9h-0.9zM426.9 431.4h0.9v0.9h-0.9zM429.8 425.2h0.9v0.9h-0.9zM424.2 454.7h0.9v0.9h-0.9zM430.7 433.8h0.9v0.9h-0.9zM426.8 427.8h0.9v0.9h-0.9zM426.9 403.8h0.9v0.9h-0.9zM432.4 463h0.9v0.9h-0.9zM427.6 426.6h0.9v0.9h-0.9zM426.6 446.8h0.9v0.9h-0.9zM424 455h0.9v0.9h-0.9zM428.8 423.7h0.9v0.9h-0.9zM424.8 421h0.9v0.9h-0.9zM429.9 416.7h0.9v0.9h-0.9zM429.9 402.2h0.9v0.9h-0.9zM425.8 445.4h0.9v0.9h-0.9zM428.2 424.8h0.9v0.9h-0.9zM424.4 465h0.9v0.9h-0.9zM427.6 416.2h0.9v0.9h-0.9zM432.6 454.7h0.9v0.9h-0.9zM424.9 427.1h0.9v0.9h-0.9zM424 422.9h0.9v0.9h-0.9zM429.8 460.3h0.9v0.9h-0.9zM431.5 447.6h0.9v0.9h-0.9zM426.1 416.6h0.9v0.9h-0.9zM430.7 428.1h0.9v0.9h-0.9zM430.2 419h0.9v0.9h-0.9zM428.6 424.2h0.9v0.9h-0.9zM425.2 458.7h0.9v0.9h-0.9zM429.9 419.6h0.9v0.9h-0.9zM431.4 429.4h0.9v0.9h-0.9zM430.6 418.8h0.9v0.9h-0.9zM426.5 422.3h0.9v0.9h-0.9zM424.5 422.3h0.9v0.9h-0.9zM426.3 421.4h0.9v0.9h-0.9zM431.7 404h0.9v0.9h-0.9zM426.2 410.9h0.9v0.9h-0.9zM429.4 468.8h0.9v0.9h-0.9zM432 425.4h0.9v0.9h-0.9zM430.3 458.7h0.9v0.9h-0.9zM425.5 457.5h0.9v0.9h-0.9zM428.3 421.7h0.9v0.9h-0.9zM432.1 408.6h0.9v0.9h-0.9zM429.1 464.7h0.9v0.9h-0.9zM430.2 404.9h0.9v0.9h-0.9zM428.3 427.4h0.9v0.9h-0.9zM424.3 455.1h0.9v0.9h-0.9zM430.1 412.7h0.9v0.9h-0.9zM429.5 453.9h0.9v0.9h-0.9zM432.1 455.5h0.9v0.9h-0.9zM424 457.4h0.9v0.9h-0.9zM425.4 427.9h0.9v0.9h-0.9zM427.7 454.7h0.9v0.9h-0.9zM427.7 415.3h0.9v0.9h-0.9zM426.6 456.3h0.9v0.9h-0.9zM424.9 422.6h0.9v0.9h-0.9zM425.7 456h0.9v0.9h-0.9zM426.4 455.7h0.9v0.9h-0.9zM424.3 456.5h0.9v0.9h-0.9zM424.4 449.6h0.9v0.9h-0.9zM427.5 460.6h0.9v0.9h-0.9zM426.1 420h0.9v0.9h-0.9zM424.1 457.5h0.9v0.9h-0.9zM426.7 451.3h0.9v0.9h-0.9zM432.5 460h0.9v0.9h-0.9zM425.8 459.8h0.9v0.9h-0.9zM424.3 423.2h0.9v0.9h-0.9zM427.9 436.1h0.9v0.9h-0.9zM431 462.4h0.9v0.9h-0.9z" fill="#c8161c"/><rect x="427.65" y="374.4" width="2.4" height="1.7" fill="#ffe600" stroke="#6a5a00" stroke-width="0.3"/><rect x="427.65" y="376.25" width="2.4" height="1.7" fill="#ffe600" stroke="#6a5a00" stroke-width="0.3"/><rect x="427.65" y="378.1" width="2.4" height="1.7" fill="#ffe600" stroke="#6a5a00" stroke-width="0.3"/><rect x="427.65" y="379.95" width="2.4" height="1.7" fill="#ffe600" stroke="#6a5a00" stroke-width="0.3"/><rect x="427.65" y="381.8" width="2.4" height="1.7" fill="#ffe600" stroke="#6a5a00" stroke-width="0.3"/><rect x="427.65" y="383.65" width="2.4" height="1.7" fill="#ffe600" stroke="#6a5a00" stroke-width="0.3"/><rect x="427.65" y="385.5" width="2.4" height="1.7" fill="#ffe600" stroke="#6a5a00" stroke-width="0.3"/><rect x="427.65" y="387.35" width="2.4" height="1.7" fill="#ffe600" stroke="#6a5a00" stroke-width="0.3"/><rect x="427.65" y="389.2" width="2.4" height="1.7" fill="#ffe600" stroke="#6a5a00" stroke-width="0.3"/><rect x="422.95" y="401.8" width="2.3" height="1.7" fill="#ffe600" stroke="#6a5a00" stroke-width="0.3"/><rect x="422.95" y="403.6" width="2.3" height="1.7" fill="#ffe600" stroke="#6a5a00" stroke-width="0.3"/><rect x="422.95" y="405.4" width="2.3" height="1.7" fill="#ffe600" stroke="#6a5a00" stroke-width="0.3"/><rect x="422.95" y="407.2" width="2.3" height="1.7" fill="#ffe600" stroke="#6a5a00" stroke-width="0.3"/><rect x="422.95" y="409" width="2.3" height="1.7" fill="#ffe600" stroke="#6a5a00" stroke-width="0.3"/><rect x="422.95" y="410.8" width="2.3" height="1.7" fill="#ffe600" stroke="#6a5a00" stroke-width="0.3"/><rect x="422.95" y="412.6" width="2.3" height="1.7" fill="#ffe600" stroke="#6a5a00" stroke-width="0.3"/><rect x="422.95" y="414.4" width="2.3" height="1.7" fill="#ffe600" stroke="#6a5a00" stroke-width="0.3"/><rect x="422.95" y="416.2" width="2.3" height="1.7" fill="#ffe600" stroke="#6a5a00" stroke-width="0.3"/><rect x="422.95" y="418" width="2.3" height="1.7" fill="#ffe600" stroke="#6a5a00" stroke-width="0.3"/><text x="438.8" y="375.6" font-size="6.5" font-weight="bold" font-style="italic" stroke="#000" stroke-width="0.18">CDK4</text><text x="461.6" y="375.6" font-size="6.5" font-weight="bold" font-style="italic" stroke="#000" stroke-width="0.18">MDM2</text><text x="386.7" y="397.2" font-size="6.5" font-weight="bold" font-style="italic" stroke="#000" stroke-width="0.18">CCND2</text><polyline points="438,377 430.35,380" fill="none" stroke="#444" stroke-width="0.4"/><polyline points="410,398 422.85,405" fill="none" stroke="#444" stroke-width="0.4"/><text x="274.5" y="375.2" font-size="10" font-weight="bold" fill="#7f1787" stroke="#7f1787" stroke-width="0.18">A08</text><text x="268.5" y="379" font-size="7" text-anchor="end" stroke="#000" stroke-width="0.24">4</text><line x1="269.3" y1="376.5" x2="271.1" y2="376.5" stroke="#888" stroke-width="0.5"/><text x="268.5" y="411" font-size="7" text-anchor="end" stroke="#000" stroke-width="0.24">2</text><line x1="269.3" y1="408.5" x2="271.1" y2="408.5" stroke="#888" stroke-width="0.5"/><text x="268.5" y="443" font-size="7" text-anchor="end" stroke="#000" stroke-width="0.24">0</text><line x1="269.3" y1="440.5" x2="271.1" y2="440.5" stroke="#888" stroke-width="0.5"/><text x="268.5" y="475" font-size="7" text-anchor="end" stroke="#000" stroke-width="0.24">−2</text><line x1="269.3" y1="472.5" x2="271.1" y2="472.5" stroke="#888" stroke-width="0.5"/><line x1="282.61" y1="486" x2="282.61" y2="487.6" stroke="#888" stroke-width="0.4"/><line x1="301.58" y1="486" x2="301.58" y2="487.6" stroke="#888" stroke-width="0.4"/><line x1="318.58" y1="486" x2="318.58" y2="487.6" stroke="#888" stroke-width="0.4"/><line x1="333.58" y1="486" x2="333.58" y2="487.6" stroke="#888" stroke-width="0.4"/><line x1="347.92" y1="486" x2="347.92" y2="487.6" stroke="#888" stroke-width="0.4"/><line x1="361.48" y1="486" x2="361.48" y2="487.6" stroke="#888" stroke-width="0.4"/><line x1="374.21" y1="486" x2="374.21" y2="487.6" stroke="#888" stroke-width="0.4"/><line x1="385.98" y1="486" x2="385.98" y2="487.6" stroke="#888" stroke-width="0.4"/><line x1="397.06" y1="486" x2="397.06" y2="487.6" stroke="#888" stroke-width="0.4"/><line x1="407.73" y1="486" x2="407.73" y2="487.6" stroke="#888" stroke-width="0.4"/><line x1="418.15" y1="486" x2="418.15" y2="487.6" stroke="#888" stroke-width="0.4"/><line x1="428.51" y1="486" x2="428.51" y2="487.6" stroke="#888" stroke-width="0.4"/><line x1="438.11" y1="486" x2="438.11" y2="487.6" stroke="#888" stroke-width="0.4"/><line x1="446.68" y1="486" x2="446.68" y2="487.6" stroke="#888" stroke-width="0.4"/><line x1="454.77" y1="486" x2="454.77" y2="487.6" stroke="#888" stroke-width="0.4"/><line x1="462.2" y1="486" x2="462.2" y2="487.6" stroke="#888" stroke-width="0.4"/><line x1="468.81" y1="486" x2="468.81" y2="487.6" stroke="#888" stroke-width="0.4"/><line x1="474.95" y1="486" x2="474.95" y2="487.6" stroke="#888" stroke-width="0.4"/><line x1="480.24" y1="486" x2="480.24" y2="487.6" stroke="#888" stroke-width="0.4"/><line x1="484.94" y1="486" x2="484.94" y2="487.6" stroke="#888" stroke-width="0.4"/><line x1="489.22" y1="486" x2="489.22" y2="487.6" stroke="#888" stroke-width="0.4"/><line x1="493.05" y1="486" x2="493.05" y2="487.6" stroke="#888" stroke-width="0.4"/><line x1="501.02" y1="486" x2="501.02" y2="487.6" stroke="#888" stroke-width="0.4"/><text x="281.25" y="495.2" font-size="5.7" text-anchor="middle" stroke="#000" stroke-width="0.24">1</text><text x="300" y="495.2" font-size="5.7" text-anchor="middle" stroke="#000" stroke-width="0.24">2</text><text x="316.25" y="495.2" font-size="5.7" text-anchor="middle" stroke="#000" stroke-width="0.24">3</text><text x="331.25" y="495.2" font-size="5.7" text-anchor="middle" stroke="#000" stroke-width="0.24">4</text><text x="345.5" y="495.2" font-size="5.7" text-anchor="middle" stroke="#000" stroke-width="0.24">5</text><text x="359.5" y="495.2" font-size="5.7" text-anchor="middle" stroke="#000" stroke-width="0.24">6</text><text x="373" y="495.2" font-size="5.7" text-anchor="middle" stroke="#000" stroke-width="0.24">7</text><text x="384" y="495.2" font-size="5.7" text-anchor="middle" stroke="#000" stroke-width="0.24">8</text><text x="394.2" y="495.2" font-size="5.7" text-anchor="middle" stroke="#000" stroke-width="0.24">9</text><text x="405" y="495.2" font-size="5.7" text-anchor="middle" stroke="#000" stroke-width="0.24">10</text><text x="414.5" y="495.2" font-size="5.7" text-anchor="middle" stroke="#000" stroke-width="0.24">11</text><text x="426" y="497.4" font-size="8.8" font-weight="bold" fill="#7f1787" text-anchor="middle" stroke="#7f1787" stroke-width="0.18">12</text><text x="434" y="495.2" font-size="5.7" text-anchor="middle" stroke="#000" stroke-width="0.24">13</text><text x="441.2" y="495.2" font-size="5.7" text-anchor="middle" stroke="#000" stroke-width="0.24">14</text><text x="448.6" y="495.2" font-size="5.7" text-anchor="middle" stroke="#000" stroke-width="0.24">15</text><text x="454.2" y="495.2" font-size="5.7" text-anchor="middle" stroke="#000" stroke-width="0.24">16</text><text x="459.3" y="495.2" font-size="5.7" text-anchor="middle" stroke="#000" stroke-width="0.24">17</text><text x="464" y="495.2" font-size="5.7" text-anchor="middle" stroke="#000" stroke-width="0.24">18</text><text x="468.6" y="495.2" font-size="5.7" text-anchor="middle" stroke="#000" stroke-width="0.24">19</text><text x="473.6" y="495.2" font-size="5.7" text-anchor="middle" stroke="#000" stroke-width="0.24">20</text><text x="477.8" y="495.2" font-size="5.7" text-anchor="middle" stroke="#000" stroke-width="0.24">21</text><text x="482.3" y="495.2" font-size="5.7" text-anchor="middle" stroke="#000" stroke-width="0.24">22</text><text x="497.5" y="495.2" font-size="5.7" text-anchor="middle" stroke="#000" stroke-width="0.24">X</text><text x="1" y="512.5" font-size="14" font-weight="bold" stroke="#000" stroke-width="0.18">C</text><text transform="translate(64.43 524.6) rotate(-90)" font-size="6.6" stroke="#000" stroke-width="0.24">A01</text><text transform="translate(71.9 524.6) rotate(-90)" font-size="6.6" stroke="#000" stroke-width="0.24">A02</text><text transform="translate(79.36 524.6) rotate(-90)" font-size="6.6" stroke="#000" stroke-width="0.24">A03</text><text transform="translate(86.83 524.6) rotate(-90)" font-size="6.6" stroke="#000" stroke-width="0.24">A04</text><text transform="translate(94.29 524.6) rotate(-90)" font-size="6.6" stroke="#000" stroke-width="0.24">A05</text><text transform="translate(101.76 524.6) rotate(-90)" font-size="6.6" stroke="#000" stroke-width="0.24">A06</text><text transform="translate(109.22 524.6) rotate(-90)" font-size="6.6" stroke="#000" stroke-width="0.24">A07</text><text transform="translate(116.69 524.6) rotate(-90)" font-size="6.6" stroke="#000" stroke-width="0.24">A08</text><text transform="translate(124.15 524.6) rotate(-90)" font-size="6.6" stroke="#000" stroke-width="0.24">A09</text><text transform="translate(131.62 524.6) rotate(-90)" font-size="6.6" stroke="#000" stroke-width="0.24">A10</text><text transform="translate(139.08 524.6) rotate(-90)" font-size="6.6" stroke="#000" stroke-width="0.24">A11</text><text transform="translate(146.55 524.6) rotate(-90)" font-size="6.6" stroke="#000" stroke-width="0.24">A12</text><text transform="translate(154.01 524.6) rotate(-90)" font-size="6.6" stroke="#000" stroke-width="0.24">A13</text><text transform="translate(161.48 524.6) rotate(-90)" font-size="6.6" stroke="#000" stroke-width="0.24">A14</text><text transform="translate(168.94 524.6) rotate(-90)" font-size="6.6" stroke="#000" stroke-width="0.24">A15</text><text transform="translate(176.41 524.6) rotate(-90)" font-size="6.6" stroke="#000" stroke-width="0.24">A16</text><text transform="translate(183.87 524.6) rotate(-90)" font-size="6.6" stroke="#000" stroke-width="0.24">A17</text><text transform="translate(191.34 524.6) rotate(-90)" font-size="6.6" stroke="#000" stroke-width="0.24">A18</text><text transform="translate(198.8 524.6) rotate(-90)" font-size="6.6" stroke="#000" stroke-width="0.24">A19</text><text transform="translate(206.27 524.6) rotate(-90)" font-size="6.6" stroke="#000" stroke-width="0.24">A20</text><rect x="58.5" y="525.6" width="7.46" height="7.7" fill="#22e022"/><rect x="65.97" y="525.6" width="7.46" height="7.7" fill="#22e022"/><rect x="73.43" y="525.6" width="7.46" height="7.7" fill="#22e022"/><rect x="80.89" y="525.6" width="7.46" height="7.7" fill="#1a78c8"/><rect x="88.36" y="525.6" width="7.46" height="7.7" fill="#1a78c8"/><rect x="95.83" y="525.6" width="7.46" height="7.7" fill="#1a78c8"/><rect x="103.29" y="525.6" width="7.46" height="7.7" fill="#22e022"/><rect x="110.75" y="525.6" width="7.46" height="7.7" fill="#22e022"/><rect x="118.22" y="525.6" width="7.46" height="7.7" fill="#1a78c8"/><rect x="125.69" y="525.6" width="7.46" height="7.7" fill="#1a78c8"/><rect x="133.15" y="525.6" width="7.46" height="7.7" fill="#1a78c8"/><rect x="140.62" y="525.6" width="7.46" height="7.7" fill="#22e022"/><rect x="148.08" y="525.6" width="7.46" height="7.7" fill="#1a78c8"/><rect x="155.55" y="525.6" width="7.46" height="7.7" fill="#22e022"/><rect x="163.01" y="525.6" width="7.46" height="7.7" fill="#22e022"/><rect x="170.47" y="525.6" width="7.46" height="7.7" fill="#22e022"/><rect x="177.94" y="525.6" width="7.46" height="7.7" fill="#22e022"/><rect x="185.41" y="525.6" width="7.46" height="7.7" fill="#1a78c8"/><rect x="192.87" y="525.6" width="7.46" height="7.7" fill="#1a78c8"/><rect x="200.34" y="525.6" width="7.46" height="7.7" fill="#22e022"/><rect x="58.5" y="525.6" width="149.3" height="7.7" fill="none" stroke="#222" stroke-width="0.5"/><line x1="65.97" y1="525.6" x2="65.97" y2="533.3" stroke="#222" stroke-width="0.35"/><line x1="73.43" y1="525.6" x2="73.43" y2="533.3" stroke="#222" stroke-width="0.35"/><line x1="80.89" y1="525.6" x2="80.89" y2="533.3" stroke="#222" stroke-width="0.35"/><line x1="88.36" y1="525.6" x2="88.36" y2="533.3" stroke="#222" stroke-width="0.35"/><line x1="95.83" y1="525.6" x2="95.83" y2="533.3" stroke="#222" stroke-width="0.35"/><line x1="103.29" y1="525.6" x2="103.29" y2="533.3" stroke="#222" stroke-width="0.35"/><line x1="110.75" y1="525.6" x2="110.75" y2="533.3" stroke="#222" stroke-width="0.35"/><line x1="118.22" y1="525.6" x2="118.22" y2="533.3" stroke="#222" stroke-width="0.35"/><line x1="125.69" y1="525.6" x2="125.69" y2="533.3" stroke="#222" stroke-width="0.35"/><line x1="133.15" y1="525.6" x2="133.15" y2="533.3" stroke="#222" stroke-width="0.35"/><line x1="140.62" y1="525.6" x2="140.62" y2="533.3" stroke="#222" stroke-width="0.35"/><line x1="148.08" y1="525.6" x2="148.08" y2="533.3" stroke="#222" stroke-width="0.35"/><line x1="155.55" y1="525.6" x2="155.55" y2="533.3" stroke="#222" stroke-width="0.35"/><line x1="163.01" y1="525.6" x2="163.01" y2="533.3" stroke="#222" stroke-width="0.35"/><line x1="170.47" y1="525.6" x2="170.47" y2="533.3" stroke="#222" stroke-width="0.35"/><line x1="177.94" y1="525.6" x2="177.94" y2="533.3" stroke="#222" stroke-width="0.35"/><line x1="185.41" y1="525.6" x2="185.41" y2="533.3" stroke="#222" stroke-width="0.35"/><line x1="192.87" y1="525.6" x2="192.87" y2="533.3" stroke="#222" stroke-width="0.35"/><line x1="200.34" y1="525.6" x2="200.34" y2="533.3" stroke="#222" stroke-width="0.35"/><rect x="58.5" y="534.4" width="149.3" height="90.02" fill="#efefef"/><rect x="65.97" y="534.4" width="7.46" height="6.43" fill="#9400d3"/><rect x="125.69" y="534.4" width="7.46" height="6.43" fill="#9400d3"/><rect x="133.15" y="534.4" width="7.46" height="6.43" fill="#9400d3"/><rect x="177.94" y="540.83" width="7.46" height="6.43" fill="#9400d3"/><rect x="58.5" y="547.26" width="7.46" height="6.43" fill="#9400d3"/><rect x="65.97" y="547.26" width="7.46" height="6.43" fill="#9400d3"/><rect x="73.43" y="547.26" width="7.46" height="6.43" fill="#9400d3"/><rect x="80.89" y="547.26" width="7.46" height="6.43" fill="#9400d3"/><rect x="88.36" y="547.26" width="7.46" height="6.43" fill="#9400d3"/><rect x="140.62" y="547.26" width="7.46" height="6.43" fill="#9400d3"/><rect x="148.08" y="547.26" width="7.46" height="6.43" fill="#9400d3"/><rect x="140.62" y="553.69" width="7.46" height="6.43" fill="#9400d3"/><rect x="170.47" y="560.12" width="7.46" height="6.43" fill="#9400d3"/><rect x="148.08" y="566.55" width="7.46" height="6.43" fill="#9400d3"/><rect x="170.47" y="566.55" width="7.46" height="6.43" fill="#9400d3"/><rect x="155.55" y="572.98" width="7.46" height="6.43" fill="#9400d3"/><rect x="163.01" y="572.98" width="7.46" height="6.43" fill="#9400d3"/><rect x="170.47" y="579.41" width="7.46" height="6.43" fill="#9400d3"/><rect x="58.5" y="585.84" width="7.46" height="6.43" fill="#9400d3"/><rect x="65.97" y="585.84" width="7.46" height="6.43" fill="#9400d3"/><rect x="73.43" y="585.84" width="7.46" height="6.43" fill="#9400d3"/><rect x="80.89" y="585.84" width="7.46" height="6.43" fill="#9400d3"/><rect x="88.36" y="585.84" width="7.46" height="6.43" fill="#9400d3"/><rect x="140.62" y="585.84" width="7.46" height="6.43" fill="#9400d3"/><rect x="148.08" y="585.84" width="7.46" height="6.43" fill="#9400d3"/><rect x="103.29" y="592.27" width="7.46" height="6.43" fill="#9400d3"/><rect x="110.75" y="592.27" width="7.46" height="6.43" fill="#9400d3"/><rect x="118.22" y="592.27" width="7.46" height="6.43" fill="#9400d3"/><rect x="140.62" y="592.27" width="7.46" height="6.43" fill="#9400d3"/><rect x="58.5" y="598.7" width="7.46" height="6.43" fill="#9400d3"/><rect x="148.08" y="605.13" width="7.46" height="6.43" fill="#9400d3"/><rect x="58.5" y="611.56" width="7.46" height="6.43" fill="#9400d3"/><rect x="73.43" y="617.99" width="7.46" height="6.43" fill="#9400d3"/><path d="M58.5 534.4V624.42M65.97 534.4V624.42M73.43 534.4V624.42M80.89 534.4V624.42M88.36 534.4V624.42M95.83 534.4V624.42M103.29 534.4V624.42M110.75 534.4V624.42M118.22 534.4V624.42M125.69 534.4V624.42M133.15 534.4V624.42M140.62 534.4V624.42M148.08 534.4V624.42M155.55 534.4V624.42M163.01 534.4V624.42M170.47 534.4V624.42M177.94 534.4V624.42M185.41 534.4V624.42M192.87 534.4V624.42M200.34 534.4V624.42M207.8 534.4V624.42M58.5 534.4H207.8M58.5 540.83H207.8M58.5 547.26H207.8M58.5 553.69H207.8M58.5 560.12H207.8M58.5 566.55H207.8M58.5 572.98H207.8M58.5 579.41H207.8M58.5 585.84H207.8M58.5 592.27H207.8M58.5 598.7H207.8M58.5 605.13H207.8M58.5 611.56H207.8M58.5 617.99H207.8M58.5 624.42H207.8" stroke="#8a8a8a" stroke-width="0.55" fill="none"/><line x1="65.97" y1="534.4" x2="65.97" y2="624.42" stroke="#555" stroke-width="0.5"/><line x1="95.83" y1="534.4" x2="95.83" y2="624.42" stroke="#555" stroke-width="0.5"/><line x1="103.29" y1="534.4" x2="103.29" y2="624.42" stroke="#555" stroke-width="0.5"/><line x1="125.69" y1="534.4" x2="125.69" y2="624.42" stroke="#555" stroke-width="0.5"/><line x1="140.62" y1="534.4" x2="140.62" y2="624.42" stroke="#555" stroke-width="0.5"/><line x1="155.55" y1="534.4" x2="155.55" y2="624.42" stroke="#555" stroke-width="0.5"/><line x1="58.5" y1="579.41" x2="207.8" y2="579.41" stroke="#555" stroke-width="0.6"/><text x="57" y="539.71" font-size="5.7" text-anchor="end" stroke="#000" stroke-width="0.24">1</text><text x="208.3" y="539.81" font-size="5.75" stroke="#000" stroke-width="0.24">15%</text><text x="57" y="546.14" font-size="5.7" text-anchor="end" stroke="#000" stroke-width="0.24">2</text><text x="208.3" y="546.24" font-size="5.75" stroke="#000" stroke-width="0.24">5%</text><text x="57" y="552.57" font-size="5.7" text-anchor="end" stroke="#000" stroke-width="0.24">3</text><text x="208.3" y="552.67" font-size="5.75" stroke="#000" stroke-width="0.24">35%</text><text x="57" y="559" font-size="5.7" text-anchor="end" stroke="#000" stroke-width="0.24">5</text><text x="208.3" y="559.1" font-size="5.75" stroke="#000" stroke-width="0.24">5%</text><text x="57" y="565.43" font-size="5.7" text-anchor="end" stroke="#000" stroke-width="0.24">6</text><text x="208.3" y="565.53" font-size="5.75" stroke="#000" stroke-width="0.24">5%</text><text x="57" y="571.86" font-size="5.7" text-anchor="end" stroke="#000" stroke-width="0.24">7</text><text x="208.3" y="571.96" font-size="5.75" stroke="#000" stroke-width="0.24">10%</text><text x="57" y="578.29" font-size="5.7" text-anchor="end" stroke="#000" stroke-width="0.24">8</text><text x="208.3" y="578.39" font-size="5.75" stroke="#000" stroke-width="0.24">10%</text><text x="57" y="584.72" font-size="5.7" text-anchor="end" stroke="#000" stroke-width="0.24">9</text><text x="208.3" y="584.82" font-size="5.75" stroke="#000" stroke-width="0.24">5%</text><text x="57" y="591.15" font-size="5.7" text-anchor="end" stroke="#000" stroke-width="0.24">11</text><text x="208.3" y="591.25" font-size="5.75" stroke="#000" stroke-width="0.24">35%</text><text x="57" y="597.58" font-size="5.7" text-anchor="end" stroke="#000" stroke-width="0.24">12</text><text x="208.3" y="597.68" font-size="5.75" stroke="#000" stroke-width="0.24">20%</text><text x="57" y="604.01" font-size="5.7" text-anchor="end" stroke="#000" stroke-width="0.24">13</text><text x="208.3" y="604.11" font-size="5.75" stroke="#000" stroke-width="0.24">5%</text><text x="57" y="610.44" font-size="5.7" text-anchor="end" stroke="#000" stroke-width="0.24">15</text><text x="208.3" y="610.54" font-size="5.75" stroke="#000" stroke-width="0.24">5%</text><text x="57" y="616.87" font-size="5.7" text-anchor="end" stroke="#000" stroke-width="0.24">22</text><text x="208.3" y="616.97" font-size="5.75" stroke="#000" stroke-width="0.24">5%</text><text x="57" y="623.3" font-size="5.7" text-anchor="end" stroke="#000" stroke-width="0.24">X</text><text x="208.3" y="623.4" font-size="5.75" stroke="#000" stroke-width="0.24">5%</text><rect x="19.2" y="523.4" width="5.4" height="5.3" fill="#22e022"/><text x="27" y="528.6" font-size="5.6" stroke="#000" stroke-width="0.24">WGS</text><rect x="19.2" y="530.3" width="5.4" height="5.3" fill="#1a78c8"/><text x="27" y="535.5" font-size="5.6" stroke="#000" stroke-width="0.24">tNGS</text><text x="4.4" y="565.6" font-size="6.3" font-weight="bold" stroke="#000" stroke-width="0.18">Chromothriptic</text><text x="4.4" y="572.9" font-size="6.3" font-weight="bold" stroke="#000" stroke-width="0.18">Chromosome</text><rect x="19.2" y="580" width="5.4" height="5.3" fill="#9400d3"/><text x="27" y="585.2" font-size="5.6" stroke="#000" stroke-width="0.24">ChrT</text><rect x="19.2" y="587.7" width="5.4" height="5.3" fill="#efefef" stroke="#999" stroke-width="0.4"/><text x="27" y="592.6" font-size="5.6" stroke="#000" stroke-width="0.24">No ChrT</text><rect x="58.5" y="627.3" width="44.79" height="5.35" fill="#f00000"/><text x="57.9" y="631.6" font-size="5.6" fill="#f00000" text-anchor="end" stroke="#f00000" stroke-width="0.24"><tspan font-style="italic">CCND1</tspan> 11q13</text><rect x="58.5" y="632.6" width="7.46" height="5.35" fill="#0a14f0"/><rect x="148.08" y="632.6" width="7.46" height="5.35" fill="#0a14f0"/><text x="57.9" y="636.9" font-size="5.6" fill="#0a14f0" text-anchor="end" stroke="#0a14f0" stroke-width="0.24"><tspan font-style="italic">TGFBR2</tspan> 3p24</text><rect x="65.97" y="637.9" width="7.46" height="5.35" fill="#f00000"/><text x="65.37" y="642.2" font-size="5.6" fill="#f00000" text-anchor="end" stroke="#f00000" stroke-width="0.24"><tspan font-style="italic">IKBKE</tspan> 1p32</text><rect x="65.97" y="643.2" width="7.46" height="5.35" fill="#f00000"/><text x="65.37" y="647.5" font-size="5.6" fill="#f00000" text-anchor="end" stroke="#f00000" stroke-width="0.24"><tspan font-style="italic">MDM4</tspan> 1p32</text><rect x="73.43" y="648.5" width="7.46" height="5.35" fill="#f00000"/><text x="72.83" y="652.8" font-size="5.6" fill="#f00000" text-anchor="end" stroke="#f00000" stroke-width="0.24"><tspan font-style="italic">HRAS</tspan> 11p15</text><rect x="80.89" y="653.8" width="22.39" height="5.35" fill="#f00000"/><text x="80.3" y="658.1" font-size="5.6" fill="#f00000" text-anchor="end" stroke="#f00000" stroke-width="0.24"><tspan font-style="italic">FGF</tspan> 11q13</text><rect x="88.36" y="659.1" width="7.46" height="5.35" fill="#0a14f0"/><text x="87.76" y="663.4" font-size="5.6" fill="#0a14f0" text-anchor="end" stroke="#0a14f0" stroke-width="0.24"><tspan font-style="italic">MEN1</tspan> 11q13</text><rect x="103.29" y="664.4" width="22.39" height="5.35" fill="#f00000"/><text x="102.69" y="668.7" font-size="5.6" fill="#f00000" text-anchor="end" stroke="#f00000" stroke-width="0.24"><tspan font-style="italic">CCND2</tspan> 12q13</text><rect x="103.29" y="669.7" width="22.39" height="5.35" fill="#f00000"/><text x="102.69" y="674" font-size="5.6" fill="#f00000" text-anchor="end" stroke="#f00000" stroke-width="0.24"><tspan font-style="italic">CDK4</tspan> 12q13</text><rect x="103.29" y="675" width="14.93" height="5.35" fill="#f00000"/><text x="102.69" y="679.3" font-size="5.6" fill="#f00000" text-anchor="end" stroke="#f00000" stroke-width="0.24"><tspan font-style="italic">MDM2</tspan> 12q15</text><rect x="103.29" y="680.3" width="7.46" height="5.35" fill="#f00000"/><text x="102.69" y="684.6" font-size="5.6" fill="#f00000" text-anchor="end" stroke="#f00000" stroke-width="0.24"><tspan font-style="italic">KRAS</tspan> 12p12</text><rect x="110.75" y="685.6" width="7.46" height="5.35" fill="#f00000"/><text x="110.16" y="689.9" font-size="5.6" fill="#f00000" text-anchor="end" stroke="#f00000" stroke-width="0.24"><tspan font-style="italic">ERBB3</tspan> 12q13</text><rect x="110.75" y="690.9" width="7.46" height="5.35" fill="#f00000"/><text x="110.16" y="695.2" font-size="5.6" fill="#f00000" text-anchor="end" stroke="#f00000" stroke-width="0.24"><tspan font-style="italic">KDM5A</tspan> 12p13</text><rect x="125.69" y="696.2" width="14.93" height="5.35" fill="#f00000"/><text x="125.09" y="700.5" font-size="5.6" fill="#f00000" text-anchor="end" stroke="#f00000" stroke-width="0.24"><tspan font-style="italic">MYCL1</tspan> 1p34</text><rect x="125.69" y="701.5" width="7.46" height="5.35" fill="#0a14f0"/><text x="125.09" y="705.8" font-size="5.6" fill="#0a14f0" text-anchor="end" stroke="#0a14f0" stroke-width="0.24"><tspan font-style="italic">ARID1A</tspan> 1p36</text><rect x="148.08" y="706.8" width="7.46" height="5.35" fill="#0a14f0"/><text x="147.48" y="711.1" font-size="5.6" fill="#0a14f0" text-anchor="end" stroke="#0a14f0" stroke-width="0.24"><tspan font-style="italic">FOXP1</tspan> 3p13</text><rect x="170.47" y="712.1" width="7.46" height="5.35" fill="#f00000"/><text x="169.88" y="716.4" font-size="5.6" fill="#f00000" text-anchor="end" stroke="#f00000" stroke-width="0.24"><tspan font-style="italic">EGFR</tspan> 7p11</text><rect x="170.47" y="717.4" width="7.46" height="5.35" fill="#f00000"/><text x="169.88" y="721.7" font-size="5.6" fill="#f00000" text-anchor="end" stroke="#f00000" stroke-width="0.24"><tspan font-style="italic">CDK6</tspan> 7q21</text><rect x="170.47" y="722.7" width="7.46" height="5.35" fill="#f00000"/><text x="169.88" y="727" font-size="5.6" fill="#f00000" text-anchor="end" stroke="#f00000" stroke-width="0.24"><tspan font-style="italic">MET</tspan> 7q31</text><text x="4.9" y="673.2" font-size="6.4" font-weight="bold" stroke="#000" stroke-width="0.18">Oncogenic CNA</text><text x="4.9" y="680.9" font-size="6.4" font-weight="bold" stroke="#000" stroke-width="0.18">on chromothriptic</text><text x="4.9" y="688.6" font-size="6.4" font-weight="bold" stroke="#000" stroke-width="0.18">Chromosomes</text><rect x="19" y="706.7" width="5" height="4.9" fill="#f00000"/><text x="27" y="711.3" font-size="5.6" stroke="#000" stroke-width="0.24">Amplification</text><rect x="19" y="713.9" width="5" height="4.9" fill="#0a14f0"/><text x="27" y="718.5" font-size="5.6" stroke="#000" stroke-width="0.24">Deletion</text><text x="226.5" y="512.5" font-size="14" font-weight="bold" stroke="#000" stroke-width="0.18">D</text><text x="295.5" y="508.6" font-size="7.2" font-weight="bold" text-anchor="middle" stroke="#000" stroke-width="0.18">WGS</text><path d="M295.8 556.6L295.8 512.3A44.3 44.3 0 1 1 271.87 519.32Z" fill="#800080"/><path d="M295.8 556.6L271.87 519.32A44.3 44.3 0 0 1 295.8 512.3Z" fill="#4a7dcf"/><line x1="295.8" y1="556.6" x2="295.8" y2="512.3" stroke="#fff" stroke-width="0.5"/><line x1="295.8" y1="556.6" x2="271.87" y2="519.32" stroke="#fff" stroke-width="0.5"/><text x="287.3" y="519.5" font-size="5.7" font-weight="bold" fill="#fff" text-anchor="middle" stroke="#fff" stroke-width="0.18">MSI</text><text x="287.3" y="526.5" font-size="5.7" font-weight="bold" fill="#fff" text-anchor="middle" stroke="#fff" stroke-width="0.18">9%</text><text x="287.6" y="533.3" font-size="5.7" font-weight="bold" fill="#fff" text-anchor="middle" stroke="#fff" stroke-width="0.18">(<tspan font-style="italic">n</tspan> = 1)</text><text x="295.2" y="568.6" font-size="5.7" font-weight="bold" fill="#fff" text-anchor="middle" stroke="#fff" stroke-width="0.18">Chromothripsis</text><text x="295.2" y="576" font-size="5.7" font-weight="bold" fill="#fff" text-anchor="middle" stroke="#fff" stroke-width="0.18">91%</text><text x="295.2" y="583.6" font-size="5.7" font-weight="bold" fill="#fff" text-anchor="middle" stroke="#fff" stroke-width="0.18">(<tspan font-style="italic">n</tspan> = 10)</text><text x="295.5" y="611.3" font-size="7.2" font-weight="bold" text-anchor="middle" stroke="#000" stroke-width="0.18">WGS + tNGS</text><path d="M295.6 614.7A46.6 46.6 0 1 1 295.59 614.7L295.59 632.1A29.2 29.2 0 1 0 295.6 632.1Z" fill="#ebebeb"/><path d="M295.6 632.1A29.2 29.2 0 1 1 268.45 650.55L288.72 658.58A7.4 7.4 0 1 0 295.6 653.9Z" fill="#800080"/><path d="M268.45 650.55A29.2 29.2 0 0 1 271.98 644.14L289.61 656.95A7.4 7.4 0 0 0 288.72 658.58Z" fill="#4a7dcf"/><path d="M271.98 644.14A29.2 29.2 0 0 1 295.6 632.1L295.6 653.9A7.4 7.4 0 0 0 289.61 656.95Z" fill="#f7efd9"/><path d="M295.6 614.7A46.6 46.6 0 0 1 341.92 656.19L324.62 658.1A29.2 29.2 0 0 0 295.6 632.1Z" fill="#ee1111"/><path d="M338.93 678.45A46.6 46.6 0 0 1 326.42 696.26L314.91 683.2A29.2 29.2 0 0 0 322.75 672.05Z" fill="#ee1111"/><path d="M325.48 696.41A46.1 46.1 0 0 1 316.82 702.23L309.27 687.67A29.7 29.7 0 0 0 314.85 683.92Z" fill="#ee1111"/><path d="M306.25 705.64A45.6 45.6 0 0 1 283.41 705.24L287.8 689.44A29.2 29.2 0 0 0 302.42 689.69Z" fill="#ee1111"/><path d="M260.22 634.15A44.6 44.6 0 0 1 268.45 625.92L277.82 638.13A29.2 29.2 0 0 0 272.43 643.52Z" fill="#ee1111"/><line x1="295.6" y1="653.9" x2="295.6" y2="614.7" stroke="#fff" stroke-width="0.7"/><line x1="302.48" y1="664.02" x2="338.93" y2="678.45" stroke="#fff" stroke-width="0.7"/><line x1="297.44" y1="668.47" x2="307.19" y2="706.44" stroke="#fff" stroke-width="0.7"/><line x1="292.04" y1="667.78" x2="273.15" y2="702.14" stroke="#fff" stroke-width="0.7"/><line x1="288.72" y1="658.58" x2="252.27" y2="644.15" stroke="#fff" stroke-width="0.7"/><line x1="289.61" y1="656.95" x2="257.9" y2="633.91" stroke="#fff" stroke-width="0.7"/><circle cx="295.6" cy="661.3" r="29.2" fill="none" stroke="#fff" stroke-width="0.6"/><line x1="322.75" y1="672.05" x2="344.51" y2="680.66" stroke="#111" stroke-width="0.6"/><line x1="281" y1="686.59" x2="270.3" y2="705.12" stroke="#111" stroke-width="0.6"/><line x1="270.31" y1="651.29" x2="247.62" y2="642.3" stroke="#111" stroke-width="0.6"/><line x1="271.98" y1="644.14" x2="255.47" y2="632.15" stroke="#111" stroke-width="0.6"/><line x1="320.8" y1="691.33" x2="330.7" y2="703.13" stroke="#111" stroke-width="0.6"/><circle cx="295.6" cy="661.3" r="7.4" fill="#fff"/><text x="311.3" y="651.6" font-size="5.85" font-weight="bold" fill="#fff" text-anchor="middle" stroke="#fff" stroke-width="0.18">Chr 11</text><text x="311.3" y="658.8" font-size="5.85" font-weight="bold" fill="#fff" text-anchor="middle" stroke="#fff" stroke-width="0.18">31%</text><text x="309.5" y="674.3" font-size="5.85" font-weight="bold" fill="#fff" text-anchor="middle" stroke="#fff" stroke-width="0.18">Chr 12</text><text x="309.5" y="681.3" font-size="5.85" font-weight="bold" fill="#fff" text-anchor="middle" stroke="#fff" stroke-width="0.18">15%</text><text x="290" y="679.6" font-size="5.85" font-weight="bold" fill="#fff" text-anchor="middle" stroke="#fff" stroke-width="0.18">Chr 1</text><text x="290" y="686.6" font-size="5.85" font-weight="bold" fill="#fff" text-anchor="middle" stroke="#fff" stroke-width="0.18">12%</text><text x="275.2" y="664.3" font-size="5.85" font-weight="bold" fill="#fff" text-anchor="middle" stroke="#fff" stroke-width="0.18">other</text><text x="275.2" y="671.3" font-size="5.85" font-weight="bold" fill="#fff" text-anchor="middle" stroke="#fff" stroke-width="0.18">23%</text><text x="286.5" y="643.6" font-size="5.5" font-weight="bold" fill="#222" text-anchor="middle" stroke="#222" stroke-width="0.18">none*</text><text x="286.5" y="650.6" font-size="5.5" font-weight="bold" fill="#222" text-anchor="middle" stroke="#222" stroke-width="0.18">15%</text><text x="279.9" y="654.2" font-size="4.6" font-weight="bold" fill="#fff" text-anchor="middle" transform="rotate(29 279.9 652.6)" stroke="#fff" stroke-width="0.18">MSI 4%</text><text x="317.5" y="634.5" font-size="6.4" fill="#fff" text-anchor="middle" stroke="#fff" stroke-width="0.24">75%</text><text x="321.2" y="687.3" font-size="6.4" fill="#fff" text-anchor="middle" stroke="#fff" stroke-width="0.24">50%</text><text x="313.5" y="697" font-size="6.4" fill="#fff" text-anchor="middle" stroke="#fff" stroke-width="0.24">25%</text><text x="295.5" y="704" font-size="6.4" fill="#fff" text-anchor="middle" stroke="#fff" stroke-width="0.24">67%</text><text x="268.7" y="636.6" font-size="6.4" fill="#fff" text-anchor="middle" stroke="#fff" stroke-width="0.24">25%</text><text x="326" y="621" font-size="5.6" font-style="italic" fill="#222" stroke="#222" stroke-width="0.24">CCND1</text><text x="244.5" y="626" font-size="5.6" font-style="italic" fill="#222" stroke="#222" stroke-width="0.24">CCND1</text><text x="347" y="692" font-size="5.6" font-style="italic" fill="#222" text-anchor="middle" stroke="#222" stroke-width="0.24">CCND2</text><text x="347" y="697.8" font-size="5.6" font-style="italic" fill="#222" text-anchor="middle" stroke="#222" stroke-width="0.24">MDM2</text><text x="347" y="703.6" font-size="5.6" font-style="italic" fill="#222" text-anchor="middle" stroke="#222" stroke-width="0.24">CDK4</text><text x="320.5" y="710.5" font-size="5.6" font-style="italic" fill="#222" text-anchor="middle" stroke="#222" stroke-width="0.24">CCND2</text><text x="320.5" y="716.4" font-size="5.6" font-style="italic" fill="#222" text-anchor="middle" stroke="#222" stroke-width="0.24">CDK4</text><text x="300" y="712.6" font-size="5.6" font-style="italic" fill="#222" text-anchor="middle" stroke="#222" stroke-width="0.24">MYCL</text><line x1="334" y1="622" x2="330" y2="628" stroke="#666" stroke-width="0.4"/><line x1="254" y1="627" x2="262" y2="631" stroke="#666" stroke-width="0.4"/><line x1="339" y1="689" x2="334" y2="686" stroke="#666" stroke-width="0.4"/><line x1="318" y1="705" x2="316" y2="700" stroke="#666" stroke-width="0.4"/><rect x="247.4" y="717.5" width="4.8" height="4.8" fill="#ee1111"/><text x="256" y="722" font-size="5.05" font-weight="bold" stroke="#000" stroke-width="0.18">Amplification</text><rect x="247.4" y="725" width="4.8" height="4.8" fill="#800080"/><text x="256" y="729.5" font-size="5.05" font-weight="bold" stroke="#000" stroke-width="0.18">Chromothripsis</text><rect x="297.5" y="717.5" width="4.8" height="4.8" fill="#ebebeb" stroke="#aaa" stroke-width="0.4"/><text x="307" y="722" font-size="5.05" font-weight="bold" stroke="#000" stroke-width="0.18">No amplification</text><text x="300" y="731.5" font-size="7" text-anchor="middle" font-weight="bold" stroke="#000" stroke-width="0.18">*</text><text x="307" y="729.5" font-size="5.05" font-weight="bold" stroke="#000" stroke-width="0.18">All tNGS</text><text x="372.8" y="11.8" font-size="14" font-weight="bold" stroke="#000" stroke-width="0.18">E</text><text x="458.5" y="10.8" font-size="8.35" text-anchor="middle" stroke="#000" stroke-width="0.24">Number of structural variants</text><text x="458.5" y="20" font-size="8.2" text-anchor="middle" stroke="#000" stroke-width="0.24">(WGS)</text><rect x="407.8" y="26.3" width="0.78" height="9" fill="#0b6b1e"/><rect x="408.58" y="26.3" width="0.78" height="9" fill="#1e88f0"/><rect x="409.36" y="26.3" width="1.3" height="9" fill="#f26b50"/><rect x="410.66" y="26.3" width="1.04" height="9" fill="#555555"/><text x="401" y="34" font-size="9" text-anchor="end" stroke="#000" stroke-width="0.24">A20</text><line x1="402" y1="30.8" x2="404.5" y2="30.8" stroke="#333" stroke-width="0.5"/><rect x="407.8" y="37.3" width="1.82" height="9" fill="#1e88f0"/><text x="401" y="45" font-size="9" text-anchor="end" stroke="#000" stroke-width="0.24">A17</text><line x1="402" y1="41.8" x2="404.5" y2="41.8" stroke="#333" stroke-width="0.5"/><rect x="407.8" y="48.1" width="2.41" height="9" fill="#0b6b1e"/><rect x="410.2" y="48.1" width="2.73" height="9" fill="#1e88f0"/><rect x="412.94" y="48.1" width="5.4" height="9" fill="#f26b50"/><rect x="418.33" y="48.1" width="10.21" height="9" fill="#555555"/><text x="401" y="55.8" font-size="9" text-anchor="end" stroke="#000" stroke-width="0.24">A16</text><line x1="402" y1="52.6" x2="404.5" y2="52.6" stroke="#333" stroke-width="0.5"/><rect x="407.8" y="59.5" width="2.73" height="9" fill="#0b6b1e"/><rect x="410.53" y="59.5" width="3.19" height="9" fill="#1e88f0"/><rect x="413.72" y="59.5" width="3.51" height="9" fill="#f26b50"/><rect x="417.23" y="59.5" width="0.58" height="9" fill="#555555"/><text x="401" y="67.2" font-size="9" text-anchor="end" stroke="#000" stroke-width="0.24">A15</text><line x1="402" y1="64" x2="404.5" y2="64" stroke="#333" stroke-width="0.5"/><rect x="407.8" y="70.5" width="0.78" height="9" fill="#0b6b1e"/><rect x="408.58" y="70.5" width="0.91" height="9" fill="#1e88f0"/><rect x="409.49" y="70.5" width="5.98" height="9" fill="#f26b50"/><text x="401" y="78.2" font-size="9" text-anchor="end" stroke="#000" stroke-width="0.24">A14</text><line x1="402" y1="75" x2="404.5" y2="75" stroke="#333" stroke-width="0.5"/><rect x="407.8" y="81.8" width="3.71" height="9" fill="#0b6b1e"/><rect x="411.5" y="81.8" width="7.02" height="9" fill="#1e88f0"/><rect x="418.52" y="81.8" width="5.98" height="9" fill="#f26b50"/><rect x="424.5" y="81.8" width="22.88" height="9" fill="#555555"/><text x="401" y="89.5" font-size="9" text-anchor="end" stroke="#000" stroke-width="0.24">A12</text><line x1="402" y1="86.3" x2="404.5" y2="86.3" stroke="#333" stroke-width="0.5"/><rect x="407.8" y="92.8" width="10.4" height="9" fill="#0b6b1e"/><rect x="418.2" y="92.8" width="22.3" height="9" fill="#1e88f0"/><rect x="440.5" y="92.8" width="12.68" height="9" fill="#f26b50"/><text x="401" y="100.5" font-size="9" text-anchor="end" stroke="#000" stroke-width="0.24">A08</text><line x1="402" y1="97.3" x2="404.5" y2="97.3" stroke="#333" stroke-width="0.5"/><rect x="407.8" y="104.1" width="5.92" height="9" fill="#0b6b1e"/><rect x="413.72" y="104.1" width="8.58" height="9" fill="#1e88f0"/><rect x="422.3" y="104.1" width="10.27" height="9" fill="#f26b50"/><rect x="432.56" y="104.1" width="4.49" height="9" fill="#555555"/><text x="401" y="111.8" font-size="9" text-anchor="end" stroke="#000" stroke-width="0.24">A07</text><line x1="402" y1="108.6" x2="404.5" y2="108.6" stroke="#333" stroke-width="0.5"/><rect x="407.8" y="115.1" width="14.5" height="9" fill="#0b6b1e"/><rect x="422.3" y="115.1" width="26.71" height="9" fill="#1e88f0"/><rect x="449.01" y="115.1" width="16.71" height="9" fill="#f26b50"/><rect x="465.71" y="115.1" width="23.53" height="9" fill="#555555"/><text x="401" y="122.8" font-size="9" text-anchor="end" stroke="#000" stroke-width="0.24">A03</text><line x1="402" y1="119.6" x2="404.5" y2="119.6" stroke="#333" stroke-width="0.5"/><rect x="407.8" y="126.5" width="0.78" height="9" fill="#0b6b1e"/><rect x="408.58" y="126.5" width="1.3" height="9" fill="#1e88f0"/><rect x="409.88" y="126.5" width="1.69" height="9" fill="#f26b50"/><rect x="411.57" y="126.5" width="0.52" height="9" fill="#555555"/><text x="401" y="134.2" font-size="9" text-anchor="end" stroke="#000" stroke-width="0.24">A02</text><line x1="402" y1="131" x2="404.5" y2="131" stroke="#333" stroke-width="0.5"/><rect x="407.8" y="137.3" width="9.43" height="9" fill="#0b6b1e"/><rect x="417.23" y="137.3" width="10.79" height="9" fill="#1e88f0"/><rect x="428.02" y="137.3" width="11.83" height="9" fill="#f26b50"/><rect x="439.85" y="137.3" width="44.46" height="9" fill="#555555"/><text x="401" y="145" font-size="9" text-anchor="end" stroke="#000" stroke-width="0.24">A01</text><line x1="402" y1="141.8" x2="404.5" y2="141.8" stroke="#333" stroke-width="0.5"/><rect x="493.7" y="115.1" width="15.1" height="9" fill="#555555"/><rect x="489.3" y="114" width="4.3" height="11" fill="#fff"/><path d="M404.5 23.8V147.5H488.5M493 147.5H509.8" fill="none" stroke="#444" stroke-width="1"/><line x1="407.8" y1="147.6" x2="407.8" y2="149.8" stroke="#333" stroke-width="0.5"/><line x1="433.8" y1="147.6" x2="433.8" y2="149.8" stroke="#333" stroke-width="0.5"/><line x1="459.8" y1="147.6" x2="459.8" y2="149.8" stroke="#333" stroke-width="0.5"/><line x1="485.8" y1="147.6" x2="485.8" y2="149.8" stroke="#333" stroke-width="0.5"/><line x1="494.8" y1="147.6" x2="494.8" y2="149.8" stroke="#333" stroke-width="0.5"/><line x1="508.6" y1="147.6" x2="508.6" y2="149.8" stroke="#333" stroke-width="0.5"/><text transform="translate(410.2 152) rotate(-45)" font-size="8" text-anchor="end" stroke="#000" stroke-width="0.24">0</text><text transform="translate(436.2 152) rotate(-45)" font-size="8" text-anchor="end" stroke="#000" stroke-width="0.24">400</text><text transform="translate(462.2 152) rotate(-45)" font-size="8" text-anchor="end" stroke="#000" stroke-width="0.24">800</text><text transform="translate(488.2 152) rotate(-45)" font-size="8" text-anchor="end" stroke="#000" stroke-width="0.24">1,200</text><text transform="translate(497.2 152) rotate(-45)" font-size="8" text-anchor="end" stroke="#000" stroke-width="0.24">1,800</text><text transform="translate(511 152) rotate(-45)" font-size="8" text-anchor="end" stroke="#000" stroke-width="0.24">1,900</text><rect x="462.2" y="23.7" width="52.6" height="31.6" fill="#fff" stroke="#ddd" stroke-width="0.5"/><rect x="464.9" y="27.6" width="5.4" height="5.8" fill="#555555"/><text x="472.5" y="32.4" font-size="6.4" stroke="#000" stroke-width="0.24">Translocation</text><rect x="464.9" y="34.1" width="5.4" height="5.8" fill="#f26b50"/><text x="472.5" y="38.9" font-size="6.4" stroke="#000" stroke-width="0.24">Deletion</text><rect x="464.9" y="40.6" width="5.4" height="5.8" fill="#1e88f0"/><text x="472.5" y="45.4" font-size="6.4" stroke="#000" stroke-width="0.24">Inversion</text><rect x="464.9" y="47.1" width="5.4" height="5.8" fill="#0b6b1e"/><text x="472.5" y="51.9" font-size="6.4" stroke="#000" stroke-width="0.24">Duplication</text><text x="373.6" y="188.8" font-size="14" font-weight="bold" stroke="#000" stroke-width="0.18">F</text><text x="456.8" y="187" font-size="8.4" text-anchor="middle" stroke="#000" stroke-width="0.24">Number of fusions</text><text x="456.8" y="197.5" font-size="8.1" text-anchor="middle" stroke="#000" stroke-width="0.24">(RNA-seq)</text><rect x="407.8" y="204.3" width="2.92" height="15" fill="#ffa500"/><text x="400.6" y="215" font-size="9" text-anchor="end" stroke="#000" stroke-width="0.24">A20</text><line x1="400.8" y1="211.8" x2="403" y2="211.8" stroke="#333" stroke-width="0.5"/><text x="400.6" y="232" font-size="9" text-anchor="end" stroke="#000" stroke-width="0.24">A17</text><line x1="400.8" y1="228.8" x2="403" y2="228.8" stroke="#333" stroke-width="0.5"/><rect x="407.8" y="238.3" width="20.44" height="16" fill="#0000ff"/><rect x="428.24" y="238.3" width="35.04" height="16" fill="#ffa500"/><rect x="463.28" y="238.3" width="20.44" height="16" fill="#666666"/><text x="400.6" y="249.5" font-size="9" text-anchor="end" stroke="#000" stroke-width="0.24">A12</text><line x1="400.8" y1="246.3" x2="403" y2="246.3" stroke="#333" stroke-width="0.5"/><rect x="407.8" y="256.05" width="2.92" height="15.5" fill="#0000ff"/><rect x="410.72" y="256.05" width="5.84" height="15.5" fill="#ffa500"/><rect x="416.56" y="256.05" width="2.92" height="15.5" fill="#666666"/><text x="400.6" y="267" font-size="9" text-anchor="end" stroke="#000" stroke-width="0.24">A10</text><line x1="400.8" y1="263.8" x2="403" y2="263.8" stroke="#333" stroke-width="0.5"/><rect x="407.8" y="273" width="14.6" height="16" fill="#0000ff"/><rect x="422.4" y="273" width="67.16" height="16" fill="#ffa500"/><rect x="489.56" y="273" width="14.6" height="16" fill="#666666"/><text x="400.6" y="284.2" font-size="9" text-anchor="end" stroke="#000" stroke-width="0.24">A08</text><line x1="400.8" y1="281" x2="403" y2="281" stroke="#333" stroke-width="0.5"/><rect x="407.8" y="290.3" width="11.68" height="16" fill="#0000ff"/><rect x="419.48" y="290.3" width="23.36" height="16" fill="#ffa500"/><rect x="442.84" y="290.3" width="32.12" height="16" fill="#666666"/><text x="400.6" y="301.5" font-size="9" text-anchor="end" stroke="#000" stroke-width="0.24">A07</text><line x1="400.8" y1="298.3" x2="403" y2="298.3" stroke="#333" stroke-width="0.5"/><rect x="407.8" y="307.3" width="14.6" height="16" fill="#0000ff"/><rect x="422.4" y="307.3" width="20.44" height="16" fill="#ffa500"/><text x="400.6" y="318.5" font-size="9" text-anchor="end" stroke="#000" stroke-width="0.24">A01</text><line x1="400.8" y1="315.3" x2="403" y2="315.3" stroke="#333" stroke-width="0.5"/><path d="M403.5 201.8V325.5H509" fill="none" stroke="#444" stroke-width="1"/><line x1="408.3" y1="325.2" x2="408.3" y2="327.4" stroke="#333" stroke-width="0.5"/><text x="408.3" y="334.6" font-size="9" text-anchor="middle" stroke="#000" stroke-width="0.24">0</text><line x1="437.5" y1="325.2" x2="437.5" y2="327.4" stroke="#333" stroke-width="0.5"/><text x="437.5" y="334.6" font-size="9" text-anchor="middle" stroke="#000" stroke-width="0.24">10</text><line x1="466.7" y1="325.2" x2="466.7" y2="327.4" stroke="#333" stroke-width="0.5"/><text x="466.7" y="334.6" font-size="9" text-anchor="middle" stroke="#000" stroke-width="0.24">20</text><line x1="495.9" y1="325.2" x2="495.9" y2="327.4" stroke="#333" stroke-width="0.5"/><text x="495.9" y="334.6" font-size="9" text-anchor="middle" stroke="#000" stroke-width="0.24">30</text><text x="405.5" y="341.5" font-size="6.25" stroke="#000" stroke-width="0.24">In-frame fusions in OncoKB genes: 1</text><text x="405.5" y="348.8" font-size="6.25" stroke="#000" stroke-width="0.24">Recurrent fusions: 0</text><rect x="463" y="200.4" width="51" height="24.3" fill="#fff" stroke="#ddd" stroke-width="0.5"/><rect x="464.8" y="202.8" width="5.2" height="5.8" fill="#0000ff"/><text x="471.5" y="207.6" font-size="6.4" stroke="#000" stroke-width="0.24">In-frame</text><rect x="464.8" y="209.4" width="5.2" height="5.8" fill="#ffa500"/><text x="471.5" y="214.2" font-size="6.4" stroke="#000" stroke-width="0.24">Out-of-frame</text><rect x="464.8" y="216" width="5.2" height="5.8" fill="#666666"/><text x="471.5" y="220.8" font-size="6.4" stroke="#000" stroke-width="0.24">Undetermined</text><text x="362.3" y="512.5" font-size="14" font-weight="bold" stroke="#000" stroke-width="0.18">G</text><text x="367" y="523.2" font-size="5.8" font-weight="bold" fill="#8b1a9b" stroke="#8b1a9b" stroke-width="0.18">A17</text><text x="401" y="519.3" font-size="5.2" text-anchor="middle" stroke="#000" stroke-width="0.24">Chr. 11</text><text x="482" y="519.3" font-size="5.2" text-anchor="middle" stroke="#000" stroke-width="0.24">Chr. 2</text><path d="M405 522 Q437 510 467 520" fill="none" stroke="#b000c0" stroke-width="0.5" stroke-dasharray="0.8 0.8"/><path d="M380.5 538 Q432 522 485 536" fill="none" stroke="#b000c0" stroke-width="0.4" stroke-dasharray="0.8 0.8" opacity="0.7"/><rect x="380.8" y="522.5" width="18.8" height="6.7" rx="3.35" fill="#ececec" stroke="#222" stroke-width="0.5"/><rect x="399.2" y="522.5" width="25.4" height="6.7" rx="3.35" fill="#ececec" stroke="#222" stroke-width="0.5"/><rect x="407.5" y="522.8" width="2.7" height="6.1" fill="#b000c0" opacity="0.75"/><rect x="414.5" y="522.8" width="0.9" height="6.1" fill="#b000c0" opacity="0.75"/><rect x="432" y="522.7" width="31.2" height="6" rx="3" fill="#ececec" stroke="#222" stroke-width="0.5"/><rect x="462.8" y="522.7" width="46.8" height="6" rx="3" fill="#ececec" stroke="#222" stroke-width="0.5"/><rect x="438.3" y="523" width="0.6" height="5.5" fill="#b000c0" opacity="0.75"/><rect x="451.8" y="523" width="3.2" height="5.5" fill="#b000c0" opacity="0.75"/><rect x="457" y="523" width="2" height="5.5" fill="#b000c0" opacity="0.75"/><rect x="467.3" y="523" width="0.6" height="5.5" fill="#b000c0" opacity="0.75"/><rect x="496" y="523" width="3.5" height="5.5" fill="#b000c0" opacity="0.75"/><polygon points="472.5,522.6 470.07,523.52 470.98,525.54 468.45,524.82 467.3,526.76 466.15,524.82 463.62,525.54 464.53,523.52 462.1,522.6 464.53,521.68 463.62,519.66 466.15,520.38 467.3,518.44 468.45,520.38 470.98,519.66 470.07,521.68" fill="#f7dc4a" stroke="#d8b020" stroke-width="0.3"/><line x1="400" y1="529.2" x2="379.8" y2="538" stroke="#333" stroke-width="0.35"/><line x1="467.6" y1="528.7" x2="485.7" y2="537" stroke="#333" stroke-width="0.35"/><rect x="370.8" y="540.4" width="69" height="1" fill="#aaa"/><rect x="446" y="540.3" width="69.6" height="2" fill="#aaa"/><rect x="379.1" y="537" width="0.9" height="4.6" fill="#b000c0"/><rect x="485.3" y="536.6" width="1.1" height="5.6" fill="#b000c0"/><rect x="423.8" y="539.3" width="9.2" height="2.8" fill="#ee1111"/><text x="419" y="537.6" font-size="5.9" font-style="italic" stroke="#000" stroke-width="0.24">CCND1</text><text x="491" y="537.8" font-size="5.8" font-style="italic" stroke="#000" stroke-width="0.24">SH3RF3</text><path d="M379.5 543v1.2h36v-1.2" fill="none" stroke="#bbb" stroke-width="0.4"/><text x="386.5" y="549.2" font-size="4.2" stroke="#000" stroke-width="0.24">57 kb upstream</text><text x="463" y="549.2" font-size="4.2" stroke="#000" stroke-width="0.24">84 kb after exon 1</text><rect x="372.3" y="551.9" width="147" height="42.5" fill="#000"/><rect x="372.3" y="590.2" width="147" height="1.8" fill="#a9a9b4"/><path d="M379 592.2Q388 595.6 397 592.2Z" fill="#f4f4f4"/><path d="M423 592.2Q433 595.6 443 592.2Z" fill="#f4f4f4"/><path d="M452 592.2Q457 595.6 462 592.2Z" fill="#f4f4f4"/><path d="M470 592.2Q473 595.6 476 592.2Z" fill="#f4f4f4"/><path d="M478 592.2Q485 595.6 492 592.2Z" fill="#f4f4f4"/><path d="M500 592.2Q506 595.6 512 592.2Z" fill="#f4f4f4"/><path d="M381.5 592.1L381.5 591.6L385 588L388 585L390 583L391.5 581.5L393 584L394.6 591.6L394.6 592.1Z" fill="#bdbdbd" fill-opacity="1.0"/><path d="M408.5 591.6L408.5 591.6L409 587L409.6 591.6L409.6 591.6Z" fill="#e6a030" fill-opacity="1.0"/><path d="M380 591.6L380 591.6L380.5 587.7L381.1 591.6L381.1 591.6Z" fill="#e8e000" fill-opacity="1.0"/><path d="M421 592.1L421 591.6L424 584L428 580L431 579.5L434 581L437 579L439 577L441 582L442.3 591.6L442.3 592.1Z" fill="#bdbdbd" fill-opacity="1.0"/><path d="M436.5 591.6L436.5 591.6L438.3 578L439.5 571.5L440.6 580L441.8 591.6L441.8 591.6Z" fill="#5fc4b0" fill-opacity="0.95"/><path d="M431 591.6L431 591.6L433 585L435 591.6L435 591.6Z" fill="#7a7ad0" fill-opacity="0.9"/><path d="M441 592.1L441 591.6L443 585L448 584L452 585.5L458 584.5L463 586L466 591.6L466 592.1Z" fill="#b4b4b4" fill-opacity="1.0"/><path d="M465 591.6L465 591.6L466.6 572L467.4 566.5L468.4 578L469.5 591.6L469.5 591.6Z" fill="#5fc4b0" fill-opacity="1.0"/><path d="M469 591.6L469 591.6L469 581L476 581L476 591.6L476 591.6Z" fill="#c0c0c0" fill-opacity="1.0"/><path d="M476.5 591.6L476.5 591.6L477 560L478 555L480 554L482 557L483 554L485 553.5L486.5 556L487.6 570L488 591.6L488 591.6Z" fill="#d46a62" fill-opacity="1.0"/><path d="M479 591.6L479 591.6L480 580L481 585L482.5 570L484 560L485 555L486 575L487 591.6L487 591.6Z" fill="#ff1a00" fill-opacity="0.9"/><path d="M486 591.6L486 591.6L487 565L488.5 563L490 575L491 591.6L491 591.6Z" fill="#d8e000" fill-opacity="1.0"/><path d="M489 591.6L489 591.6L489 578L493 574L495 577L497 573L499 579L502 575L504 579L506 576L508 578L510 573L513 577L516 574L519.3 578L519.3 591.6L519.3 591.6Z" fill="#0a6a0a" fill-opacity="1.0"/><path d="M489 591.6L489 591.6L492 585L494 580L496 588L499 584L502 591.6L502 591.6Z" fill="#c8d820" fill-opacity="0.9"/><path d="M508 591.6L508 591.6L509 584L510 591.6L510 591.6Z" fill="#f0a030" fill-opacity="1.0"/><rect x="390" y="551.9" width="1.1" height="49" fill="#b000c0"/><text transform="translate(367.6 574) rotate(-90)" font-size="4.6" text-anchor="middle" stroke="#000" stroke-width="0.24">Chromatin states</text><text x="366.5" y="600.2" font-size="4.1" stroke="#000" stroke-width="0.24">g.position</text><text x="394" y="600.8" font-size="4.3" stroke="#000" stroke-width="0.24">69,400,000</text><text x="466" y="600.4" font-size="4.3" stroke="#000" stroke-width="0.24">69,450,000</text><line x1="466.5" y1="602" x2="479" y2="602" stroke="#888" stroke-width="0.4"/><rect x="480" y="601.6" width="23" height="0.9" fill="#ee1111"/><text x="463.5" y="608.4" font-size="4.3" stroke="#000" stroke-width="0.24">promoter</text><text x="482" y="609" font-size="5.65" font-weight="bold" font-style="italic" fill="#ee1111" stroke="#ee1111" stroke-width="0.18">CCND1</text><text x="392" y="607.6" font-size="5" font-weight="bold" fill="#b000c0" stroke="#b000c0" stroke-width="0.18">Break points</text><rect x="372.3" y="611.5" width="147" height="30.1" fill="#000"/><rect x="372.3" y="636.6" width="147" height="1.6" fill="#9a9aa4"/><path d="M384 638.6Q393 641.8 402 638.6Z" fill="#f0f0f0"/><path d="M410 638.6Q421 641.8 432 638.6Z" fill="#f0f0f0"/><path d="M440 638.6Q449 641.8 458 638.6Z" fill="#f0f0f0"/><path d="M470 638.6Q480 641.8 490 638.6Z" fill="#f0f0f0"/><path d="M498 638.6Q507 641.8 516 638.6Z" fill="#f0f0f0"/><path d="M373.93 638.5L373.93 638.5L374.68 635.2L375 633L375.32 635.48L376.07 638.5L376.07 638.5Z" fill="#e8e000" fill-opacity="1.0"/><path d="M383.72 638.5L383.72 638.5L384.62 631.6L385 627L385.38 632.17L386.28 638.5L386.28 638.5Z" fill="#e8e000" fill-opacity="1.0"/><path d="M385.84 638.5L385.84 638.5L386.65 625.6L387 617L387.35 626.67L388.16 638.5L388.16 638.5Z" fill="#f0b030" fill-opacity="1.0"/><path d="M387.18 638.5L387.18 638.5L388.1 626.8L388.5 619L388.9 627.77L389.82 638.5L389.82 638.5Z" fill="#e8e000" fill-opacity="1.0"/><path d="M389.66 638.5L389.66 638.5L390.6 623.8L391 614L391.4 625.02L392.34 638.5L392.34 638.5Z" fill="#f0a030" fill-opacity="1.0"/><path d="M399.05 638.5L399.05 638.5L399.72 626.8L400 619L400.28 627.77L400.95 638.5L400.95 638.5Z" fill="#f0a030" fill-opacity="1.0"/><path d="M405.09 638.5L405.09 638.5L405.73 634L406 631L406.27 634.38L406.91 638.5L406.91 638.5Z" fill="#e8e000" fill-opacity="1.0"/><path d="M408.51 638.5L408.51 638.5L409.55 631.6L410 627L410.45 632.17L411.49 638.5L411.49 638.5Z" fill="#e8e000" fill-opacity="1.0"/><path d="M417.92 638.5L417.92 638.5L418.68 629.8L419 624L419.32 630.52L420.08 638.5L420.08 638.5Z" fill="#e8e000" fill-opacity="1.0"/><path d="M420.44 638.5L420.44 638.5L421.18 628L421.5 621L421.82 628.88L422.56 638.5L422.56 638.5Z" fill="#f0b030" fill-opacity="1.0"/><path d="M423.4 638.5L423.4 638.5L424.52 628L425 621L425.48 628.88L426.6 638.5L426.6 638.5Z" fill="#e8e000" fill-opacity="1.0"/><path d="M430.77 638.5L430.77 638.5L431.63 633.4L432 630L432.37 633.83L433.23 638.5L433.23 638.5Z" fill="#e8e000" fill-opacity="1.0"/><path d="M436.01 638.5L436.01 638.5L437.05 623.8L437.5 614L437.95 625.02L438.99 638.5L438.99 638.5Z" fill="#e8e000" fill-opacity="1.0"/><path d="M438.27 638.5L438.27 638.5L439.13 622.6L439.5 612L439.87 623.92L440.73 638.5L440.73 638.5Z" fill="#f0a030" fill-opacity="1.0"/><path d="M444.65 638.5L444.65 638.5L445.6 633.4L446 630L446.4 633.83L447.35 638.5L447.35 638.5Z" fill="#e8e000" fill-opacity="1.0"/><path d="M449.99 638.5L449.99 638.5L450.7 630.4L451 625L451.3 631.08L452.01 638.5L452.01 638.5Z" fill="#e8e000" fill-opacity="1.0"/><path d="M455.66 638.5L455.66 638.5L456.6 632.2L457 628L457.4 632.73L458.34 638.5L458.34 638.5Z" fill="#e8e000" fill-opacity="1.0"/><path d="M458.49 638.5L458.49 638.5L459.55 635.8L460 634L460.45 636.02L461.51 638.5L461.51 638.5Z" fill="#f0b030" fill-opacity="1.0"/><path d="M466.73 638.5L466.73 638.5L467.62 629.8L468 624L468.38 630.52L469.27 638.5L469.27 638.5Z" fill="#e8e000" fill-opacity="1.0"/><path d="M481.58 638.5L481.58 638.5L482.57 634.6L483 632L483.43 634.92L484.42 638.5L484.42 638.5Z" fill="#e8e000" fill-opacity="1.0"/><path d="M491.63 638.5L491.63 638.5L492.59 625L493 616L493.41 626.12L494.37 638.5L494.37 638.5Z" fill="#f0a030" fill-opacity="1.0"/><path d="M494.06 638.5L494.06 638.5L494.72 623.2L495 613L495.28 624.48L495.94 638.5L495.94 638.5Z" fill="#e8e000" fill-opacity="1.0"/><path d="M495.57 638.5L495.57 638.5L496.57 627.4L497 620L497.43 628.33L498.43 638.5L498.43 638.5Z" fill="#f0b030" fill-opacity="1.0"/><path d="M499.69 638.5L499.69 638.5L500.61 622.6L501 612L501.39 623.92L502.31 638.5L502.31 638.5Z" fill="#d07020" fill-opacity="1.0"/><path d="M501.89 638.5L501.89 638.5L502.67 626.2L503 618L503.33 627.23L504.11 638.5L504.11 638.5Z" fill="#e8e000" fill-opacity="1.0"/><path d="M506.08 638.5L506.08 638.5L506.72 632.2L507 628L507.28 632.73L507.92 638.5L507.92 638.5Z" fill="#e8e000" fill-opacity="1.0"/><path d="M515.99 638.5L515.99 638.5L517.05 623.8L517.5 614L517.95 625.02L519.01 638.5L519.01 638.5Z" fill="#e8e000" fill-opacity="1.0"/><path d="M391.2 638.5L391.2 638.5L392.11 627.4L392.5 620L392.89 628.33L393.8 638.5L393.8 638.5Z" fill="#3aa090" fill-opacity="0.9"/><path d="M393 638.5L393 638.5L394.05 626.8L394.5 619L394.95 627.77L396 638.5L396 638.5Z" fill="#7a8ad8" fill-opacity="0.9"/><path d="M395.3 638.5L395.3 638.5L396.14 630.4L396.5 625L396.86 631.08L397.7 638.5L397.7 638.5Z" fill="#7a8ad8" fill-opacity="0.9"/><path d="M474.3 638.5L474.3 638.5L475.14 627.4L475.5 620L475.86 628.33L476.7 638.5L476.7 638.5Z" fill="#6a9ac0" fill-opacity="0.95"/><path d="M395 638.5L395 638.5L398 630L400 633L404 638.5L404 638.5Z" fill="#aaa" fill-opacity="1.0"/><path d="M420 638.5L420 638.5L423 632L427 638.5L427 638.5Z" fill="#aaa" fill-opacity="1.0"/><rect x="420.3" y="608.8" width="1.1" height="32.8" fill="#b000c0"/><text transform="translate(367.6 626.5) rotate(-90)" font-size="4.6" text-anchor="middle" stroke="#000" stroke-width="0.24">Chromatin states</text><text x="366.5" y="648.2" font-size="4.1" stroke="#000" stroke-width="0.24">g.position</text><text x="386.5" y="648.6" font-size="4.25" stroke="#000" stroke-width="0.24">109,800,000</text><text x="422" y="648.6" font-size="4.25" stroke="#000" stroke-width="0.24">109,850,000</text><text x="457.7" y="648.6" font-size="4.25" stroke="#000" stroke-width="0.24">109,900,000</text><text x="493" y="648.6" font-size="4.25" stroke="#000" stroke-width="0.24">109,950,000</text><rect x="372.3" y="651.6" width="147" height="0.8" fill="#888"/><text x="374" y="659" font-size="6.2" font-style="italic" fill="#333" stroke="#333" stroke-width="0.24">SH3RF3</text><text x="371.7" y="669.6" font-size="5.7" stroke="#000" stroke-width="0.24">“Repressive” marks</text><text x="440.6" y="669.6" font-size="5.7" stroke="#000" stroke-width="0.24">“Active” marks</text><rect x="373.5" y="672" width="4.3" height="4.4" fill="#c4c4c4"/><rect x="377.8" y="672" width="4.3" height="4.4" fill="#999"/><rect x="373.8" y="678" width="4" height="4.2" fill="#8a8ad8"/><rect x="373.8" y="684" width="4" height="4.2" fill="#66ccaa"/><text x="384" y="676.4" font-size="5.6" stroke="#000" stroke-width="0.24">Repressed PolyComb</text><text x="384" y="682.4" font-size="5.6" stroke="#000" stroke-width="0.24">Heterochromatin</text><text x="384" y="688.4" font-size="5.6" stroke="#000" stroke-width="0.24">ZNF target</text><rect x="441" y="672" width="4.4" height="4.6" fill="#ffff00"/><rect x="445.4" y="672" width="4.4" height="4.6" fill="#f5b060"/><rect x="449.8" y="672" width="4.4" height="4.6" fill="#c8dc28"/><rect x="441" y="678" width="7" height="4.6" fill="#006400"/><rect x="441" y="684.2" width="4" height="4.6" fill="#ff0000"/><text x="456" y="676.4" font-size="5.4" stroke="#000" stroke-width="0.24">Active enhancer</text><text x="456" y="682.4" font-size="5.4" stroke="#000" stroke-width="0.24">Active transcription</text><text x="456" y="688.4" font-size="5.4" stroke="#000" stroke-width="0.24">Transcription start site</text></svg></body></html>
